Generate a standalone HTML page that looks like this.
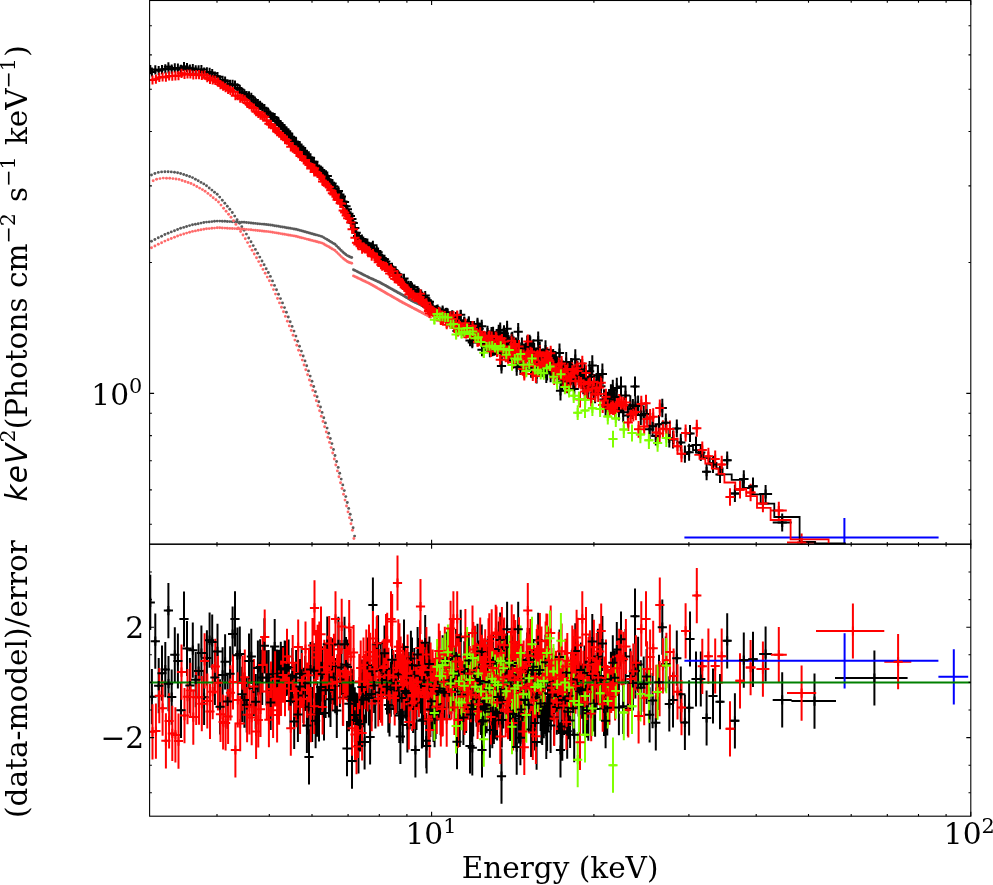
<!DOCTYPE html>
<html><head><meta charset="utf-8"><title>Spectrum</title>
<style>
html,body{margin:0;padding:0;background:#fff;}
body{width:993px;height:885px;overflow:hidden;position:relative;}
svg{position:absolute;left:0;top:0;display:block;}
.sf{font-family:"DejaVu Serif","Liberation Serif",serif;}
.ss{font-family:"DejaVu Sans","Liberation Sans",sans-serif;}
</style></head><body>
<svg width="993" height="885" viewBox="0 0 993 885">
<rect width="993" height="885" fill="#fff"/>
<defs>
<clipPath id="cu"><rect x="149.6" y="0.5" width="821.1999999999999" height="543.7"/></clipPath>
<clipPath id="cl"><rect x="149.6" y="544.2" width="821.1999999999999" height="272.0"/></clipPath>
</defs>
<g clip-path="url(#cu)" fill="none" stroke-width="2.0">
<path d="M151.9 71.2V72.8M150.2 72.0H153.6M155.3 69.0V70.6M153.6 69.8H157.0M158.7 69.7V71.4M157.0 70.6H160.4M162.0 68.8V70.4M160.4 69.6H163.7M165.3 68.1V69.8M163.7 68.9H166.9M168.5 68.1V69.8M166.9 68.9H170.1M171.7 68.4V70.1M170.1 69.2H173.3M174.8 67.0V68.7M173.3 67.9H176.4M177.9 67.1V68.8M176.4 68.0H179.5M181.0 68.5V70.2M179.5 69.4H182.5M184.0 65.6V67.3M182.5 66.5H185.5M187.0 66.8V68.5M185.5 67.7H188.5M189.9 68.4V70.1M188.5 69.2H191.4M192.8 67.6V69.3M191.4 68.5H194.3M195.7 68.9V70.6M194.3 69.8H197.1M198.6 69.0V70.7M197.1 69.9H200.0M201.4 68.8V70.5M200.0 69.6H202.7M204.1 71.2V73.0M202.7 72.1H205.5M206.9 71.1V72.8M205.5 71.9H208.2M209.6 71.6V73.3M208.2 72.4H210.9M212.2 72.7V74.4M210.9 73.6H213.6M214.9 75.2V76.9M213.6 76.1H216.2M217.5 75.8V77.6M216.2 76.7H218.8M220.1 79.0V80.8M218.8 79.9H221.3M222.6 79.4V81.2M221.3 80.3H223.9M225.1 80.3V82.1M223.9 81.2H226.4M227.6 83.0V84.8M226.4 83.9H228.9M230.1 83.5V85.3M228.9 84.4H231.3M232.6 83.5V85.3M231.3 84.4H233.8M235.0 84.1V86.0M233.8 85.0H236.2M237.4 87.0V88.8M236.2 87.9H238.6M239.8 88.5V90.3M238.6 89.4H240.9M242.1 91.3V93.2M240.9 92.2H243.3M244.4 93.0V94.9M243.3 93.9H245.6M246.7 94.8V96.6M245.6 95.7H247.9M249.0 95.0V96.8M247.9 95.9H250.1M251.3 96.4V98.3M250.1 97.4H252.4M253.5 99.3V101.2M252.4 100.2H254.6M255.7 101.7V103.6M254.6 102.6H256.8M257.9 102.5V104.4M256.8 103.5H259.0M260.1 104.4V106.3M259.0 105.4H261.2M262.2 106.7V108.6M261.2 107.7H263.3M264.4 107.5V109.4M263.3 108.5H265.4M266.5 110.5V112.4M265.4 111.4H267.5M268.6 112.3V114.3M267.5 113.3H269.6M270.7 115.0V117.0M269.6 116.0H271.7M272.7 115.9V117.8M271.7 116.9H273.7M274.7 116.7V118.7M273.7 117.7H275.8M276.8 119.9V121.9M275.8 120.9H277.8M278.8 122.1V124.1M277.8 123.1H279.8M280.8 124.0V125.9M279.8 125.0H281.8M282.7 126.3V128.2M281.8 127.3H283.7M284.7 128.2V130.2M283.7 129.2H285.7M286.6 130.4V132.3M285.7 131.3H287.6M288.6 132.4V134.4M287.6 133.4H289.5M290.5 135.7V137.7M289.5 136.7H291.4M292.3 136.8V138.8M291.4 137.8H293.3M294.2 140.5V142.5M293.3 141.5H295.2M296.1 141.0V143.0M295.2 142.0H297.0M297.9 144.3V146.3M297.0 145.3H298.9M299.8 145.4V147.4M298.9 146.4H300.7M301.6 146.9V149.0M300.7 148.0H302.5M303.4 149.8V151.8M302.5 150.8H304.3M305.2 151.3V153.4M304.3 152.3H306.1M306.9 154.9V157.0M306.1 156.0H307.8M308.7 156.2V158.3M307.8 157.2H309.6M310.5 156.7V158.8M309.6 157.8H311.3M312.2 160.4V162.6M311.3 161.5H313.1M313.9 160.6V162.8M313.1 161.7H314.8M315.6 164.5V166.8M314.8 165.6H316.5M317.3 166.0V168.2M316.5 167.1H318.2M319.0 168.0V170.4M318.2 169.2H319.9M320.7 168.8V171.1M319.9 170.0H321.5M322.4 170.1V172.5M321.5 171.3H323.2M324.0 173.7V176.1M323.2 174.9H324.8M325.6 174.8V177.2M324.8 176.0H326.5M327.3 174.9V177.3M326.5 176.1H328.1M328.9 179.0V181.5M328.1 180.3H329.7M330.5 181.6V184.1M329.7 182.9H331.3M332.1 182.3V184.8M331.3 183.5H332.9M333.7 185.0V187.5M332.9 186.2H334.5M335.2 187.5V190.0M334.5 188.8H336.0M336.8 190.7V193.3M336.0 192.0H337.6M338.4 189.6V192.2M337.6 190.9H339.1M339.9 193.2V195.8M339.1 194.5H340.7M341.4 195.1V197.8M340.7 196.5H342.2M342.9 200.0V202.7M342.2 201.4H343.7M344.5 200.7V203.4M343.7 202.1H345.2M346.0 204.9V207.7M345.2 206.3H346.7M347.4 207.9V210.7M346.7 209.3H348.2M348.9 212.4V215.1M348.2 213.7H349.7M350.4 214.7V217.5M349.7 216.1H351.1M351.9 217.5V220.3M351.1 218.9H352.6M353.3 221.5V224.3M352.6 222.9H354.0M354.8 226.6V229.5M354.0 228.0H355.5M356.2 231.3V234.2M355.5 232.7H356.9M357.6 234.6V237.5M356.9 236.1H358.3M359.1 236.4V239.4M358.3 237.9H359.8M360.5 238.0V241.1M359.8 239.5H361.2M361.9 237.5V240.6M361.2 239.1H362.6M363.3 239.7V242.7M362.6 241.2H364.0M364.6 243.4V246.5M364.0 244.9H365.3M366.0 242.1V245.2M365.3 243.7H366.7M367.4 241.6V244.8M366.7 243.2H368.1M368.8 244.8V248.0M368.1 246.4H369.4M370.1 248.3V251.5M369.4 249.9H370.8M371.5 247.1V250.3M370.8 248.7H372.1M372.8 247.0V250.2M372.1 248.6H373.5M374.1 249.1V252.4M373.5 250.7H374.8M375.4 251.4V254.7M374.8 253.0H376.1M376.8 249.3V252.6M376.1 250.9H377.4M378.1 250.5V253.9M377.4 252.2H378.7M379.4 254.8V258.2M378.7 256.5H380.0M380.7 254.7V258.1M380.0 256.4H381.3M382.0 256.7V260.1M381.3 258.4H382.6M383.2 257.3V260.8M382.6 259.1H383.9M384.5 257.6V261.1M383.9 259.3H385.1M385.8 259.8V263.3M385.1 261.6H386.4M387.0 262.3V265.8M386.4 264.0H387.7M388.3 264.7V268.3M387.7 266.5H388.9M389.5 266.2V269.8M388.9 268.0H390.1M390.8 266.2V269.8M390.1 268.0H391.4M392.0 265.5V269.1M391.4 267.3H392.6M393.2 268.1V271.8M392.6 270.0H393.8M394.4 269.8V273.4M393.8 271.6H395.0M395.7 270.6V274.3M395.0 272.5H396.3M396.9 272.2V275.9M396.3 274.1H397.5M398.1 272.5V276.3M397.5 274.4H398.7M399.3 276.6V280.4M398.7 278.5H399.9M400.4 279.2V283.1M399.9 281.2H401.0M401.6 277.8V281.6M401.0 279.7H402.2M402.8 280.2V284.2M402.2 282.2H403.4M404.0 276.4V280.4M403.4 278.4H404.6M405.1 280.8V284.8M404.6 282.8H405.7M406.3 282.1V286.2M405.7 284.1H406.9M407.4 285.6V289.8M406.9 287.7H408.0M408.6 283.2V287.4M408.0 285.3H409.2M409.7 285.8V290.1M409.2 288.0H410.3M410.9 283.3V287.7M410.3 285.5H411.4M412.0 284.8V289.2M411.4 287.0H412.6M413.1 288.9V293.3M412.6 291.1H413.7M414.3 287.4V291.9M413.7 289.6H414.8M415.4 294.7V299.3M414.8 297.0H415.9M416.5 291.4V296.0M415.9 293.7H417.0M417.6 288.2V292.9M417.0 290.6H418.1M418.7 290.0V294.8M418.1 292.4H419.2M419.8 292.2V297.0M419.2 294.6H420.3M420.9 293.5V298.3M420.3 295.9H421.4M421.9 297.4V302.3M421.4 299.9H422.5M423.0 298.2V303.1M422.5 300.7H423.6M424.1 295.5V300.5M423.6 298.0H424.6M425.2 293.0V298.0M424.6 295.5H425.7M426.2 303.1V308.2M425.7 305.6H426.8M427.3 297.7V302.9M426.8 300.3H427.8M428.3 298.9V304.1M427.8 301.5H428.9M429.4 299.1V304.4M428.9 301.8H429.9M430.4 304.5V309.9M429.9 307.2H431.0M431.5 304.4V309.8M431.0 307.1H432.0M432.5 303.7V309.2M432.0 306.5H433.0M433.5 307.1V312.8M433.0 309.9H434.1M434.6 308.3V314.2M434.1 311.3H435.1M435.6 308.1V314.1M435.1 311.1H436.1M436.6 306.6V312.7M436.1 309.7H437.1M437.6 306.0V312.3M437.1 309.2H438.1M438.6 307.8V314.2M438.1 311.0H439.1M439.6 308.1V314.7M439.1 311.4H440.1M440.6 311.1V317.8M440.1 314.4H441.1M441.6 311.9V318.7M441.1 315.3H442.1M442.6 306.7V313.7M442.1 310.2H443.1M443.6 311.1V318.2M443.1 314.6H444.1M444.6 311.8V319.1M444.1 315.4H445.1M445.6 309.0V316.4M445.1 312.7H446.1M446.5 308.5V316.1M446.1 312.3H447.0M447.5 308.9V316.7M447.0 312.8H448.0M448.5 312.5V320.4M448.0 316.5H449.0M449.4 314.8V322.8M449.0 318.8H449.9M450.4 314.1V322.3M449.9 318.2H450.9M451.4 315.0V323.3M450.9 319.1H451.8M452.3 310.7V319.2M451.8 314.9H452.8M453.3 315.3V323.9M452.8 319.6H453.7M454.2 314.3V323.1M453.7 318.7H454.7M455.1 317.3V326.2M454.7 321.8H455.6M456.1 311.9V321.0M455.6 316.5H456.5M457.0 326.5V335.8M456.5 331.1H457.5M457.9 316.7V326.1M457.5 321.4H458.4M458.9 315.4V325.0M458.4 320.2H459.3M459.8 324.1V333.9M459.3 329.0H460.2M460.7 309.8V319.7M460.2 314.7H461.2M461.6 320.4V330.5M461.2 325.5H462.1M462.5 320.8V331.1M462.1 326.0H463.0M463.4 325.5V335.9M463.0 330.7H463.9M464.3 316.6V327.2M463.9 321.9H464.8M465.2 320.1V330.8M464.8 325.4H465.7M466.1 324.4V335.3M465.7 329.9H466.6M467.0 320.7V331.8M466.6 326.3H467.5M467.9 318.7V330.0M467.5 324.3H468.4M468.8 316.3V327.7M468.4 322.0H469.2M469.7 321.8V333.3M469.2 327.5H470.1M470.6 328.3V340.0M470.1 334.2H471.0M471.4 326.6V338.4M471.0 332.5H471.9M472.3 336.4V348.3M471.9 342.4H472.8M473.2 328.5V340.5M472.8 334.5H473.6M474.1 321.0V333.1M473.6 327.0H474.5M474.9 322.9V335.1M474.5 329.0H475.3M475.8 326.5V338.8M475.3 332.6H476.2M476.6 328.2V340.6M476.2 334.4H477.1M477.5 317.8V330.4M477.1 324.1H477.9M478.3 325.6V338.2M477.9 331.9H478.8M479.2 322.4V335.1M478.8 328.8H479.6M480.0 325.8V338.6M479.6 332.2H480.5M480.9 332.4V345.3M480.5 338.9H481.3M481.7 319.8V332.8M481.3 326.3H482.1M482.5 336.7V349.8M482.1 343.2H483.0M483.4 336.9V350.1M483.0 343.5H483.8M484.2 332.8V346.1M483.8 339.5H484.6M485.0 335.0V348.5M484.6 341.8H485.4M485.9 334.5V348.0M485.4 341.2H486.3M486.7 335.2V348.8M486.3 342.0H487.1M487.5 325.8V339.5M487.1 332.7H487.9M488.3 332.0V345.8M487.9 338.9H488.7M489.1 330.5V344.5M488.7 337.5H489.5M489.9 343.2V357.2M489.5 350.2H490.3M490.7 338.9V353.1M490.3 346.0H491.1M491.5 327.0V341.2M491.1 334.1H491.9M492.3 341.9V356.2M491.9 349.1H492.7M493.1 326.8V341.2M492.7 334.0H493.5M493.9 341.4V355.8M493.5 348.6H494.3M494.7 332.9V347.5M494.3 340.2H495.1M495.5 340.7V355.3M495.1 348.0H495.9M496.3 334.0V348.8M495.9 341.4H496.7M497.1 341.6V356.4M496.7 349.0H497.5M497.9 337.5V352.4M497.5 345.0H498.3M498.7 324.7V339.7M498.3 332.2H499.1M499.4 338.8V353.9M499.1 346.3H499.8M500.2 322.5V337.7M499.8 330.1H500.6M501.0 339.8V355.1M500.6 347.5H501.4M501.8 345.0V360.4M501.4 352.7H502.1M502.5 336.6V352.0M502.1 344.3H502.9M503.3 340.2V355.7M502.9 348.0H503.7M504.0 325.2V340.8M503.7 333.0H504.4M504.8 331.7V347.4M504.4 339.5H505.2M505.6 329.6V345.4M505.2 337.5H505.9M506.3 333.7V349.6M505.9 341.6H506.7M507.1 320.7V336.6M506.7 328.7H507.4M507.8 332.9V348.9M507.4 340.9H508.2M508.6 335.0V351.1M508.2 343.1H508.9M509.3 345.1V361.3M508.9 353.2H509.7M510.1 346.0V362.2M509.7 354.1H510.4M510.8 338.2V354.5M510.4 346.3H511.2M511.5 332.4V348.8M511.2 340.6H511.9M512.3 331.7V348.2M511.9 339.9H512.6M513.0 347.3V363.9M512.6 355.6H513.4M513.7 336.5V353.2M513.4 344.9H514.1M514.5 339.3V356.0M514.1 347.7H514.8M515.2 349.5V366.3M514.8 357.9H515.6M515.9 337.4V354.3M515.6 345.9H516.3M516.7 358.9V375.8M516.3 367.3H517.1M517.4 339.8V356.8M517.1 348.3H517.8M518.2 323.1V340.2M517.8 331.7H518.5M518.9 350.3V367.4M518.5 358.8H519.3M519.7 342.5V359.7M519.3 351.1H520.0M520.4 357.7V374.9M520.0 366.3H520.8M521.2 349.1V366.5M520.8 357.8H521.5M521.9 337.5V355.0M521.5 346.3H522.3M522.7 352.0V369.5M522.3 360.7H523.0M523.4 344.3V361.9M523.0 353.1H523.8M524.2 347.1V364.8M523.8 355.9H524.6M524.9 347.6V365.3M524.6 356.4H525.3M525.7 343.3V361.1M525.3 352.2H526.1M526.5 341.2V359.1M526.1 350.2H526.9M527.2 335.5V353.4M526.9 344.4H527.6M528.0 338.9V356.9M527.6 347.9H528.4M528.8 350.6V368.6M528.4 359.6H529.2M529.6 334.7V352.8M529.2 343.8H529.9M530.3 336.2V354.5M529.9 345.4H530.7M531.1 359.5V377.7M530.7 368.6H531.5M531.9 341.4V359.6M531.5 350.5H532.3M532.7 340.2V358.5M532.3 349.4H533.0M533.4 339.2V357.6M533.0 348.4H533.8M534.2 342.9V361.2M533.8 352.0H534.6M535.0 358.3V376.7M534.6 367.5H535.4M535.8 350.0V368.4M535.4 359.2H536.2M536.6 365.2V383.6M536.2 374.4H537.0M537.4 349.4V368.0M537.0 358.7H537.8M538.2 331.4V349.9M537.8 340.6H538.6M539.0 342.8V361.4M538.6 352.1H539.4M539.8 341.7V360.3M539.4 351.0H540.2M540.6 353.2V371.8M540.2 362.5H541.0M541.4 357.6V376.3M541.0 366.9H541.8M542.2 358.3V377.0M541.8 367.6H542.6M543.0 348.4V367.1M542.6 357.8H543.4M543.8 356.4V375.2M543.4 365.8H544.2M544.6 355.2V374.0M544.2 364.6H545.0M545.5 340.3V359.2M545.0 349.7H545.9M546.3 364.2V383.1M545.9 373.6H546.7M547.1 361.6V380.5M546.7 371.1H547.6M548.0 355.0V373.9M547.6 364.4H548.4M548.8 351.6V370.7M548.4 361.2H549.3M549.7 352.1V371.2M549.3 361.6H550.1M550.6 363.2V382.3M550.1 372.7H551.0M551.4 349.7V368.9M551.0 359.3H551.9M552.3 352.9V372.1M551.9 362.5H552.8M553.2 349.1V368.3M552.8 358.7H553.6M554.1 362.0V381.3M553.6 371.6H554.5M555.0 350.9V370.2M554.5 360.6H555.4M555.9 351.6V370.9M555.4 361.2H556.3M556.8 359.7V379.0M556.3 369.4H557.2M557.7 356.3V375.7M557.2 366.0H558.2M558.6 359.7V379.1M558.2 369.4H559.1M559.5 343.4V362.8M559.1 353.1H560.0M560.5 381.1V400.6M560.0 390.8H560.9M561.4 368.9V388.4M560.9 378.7H561.9M562.3 371.6V391.2M561.9 381.4H562.8M563.3 360.4V380.0M562.8 370.2H563.8M564.3 363.5V383.2M563.8 373.4H564.7M565.2 361.7V381.3M564.7 371.5H565.7M566.2 352.1V371.8M565.7 362.0H566.7M567.2 373.5V393.2M566.7 383.3H567.6M568.1 367.0V386.8M567.6 376.9H568.6M569.1 362.1V381.8M568.6 371.9H569.6M570.1 371.4V391.2M569.6 381.3H570.6M571.1 357.9V377.8M570.6 367.8H571.6M572.1 358.8V378.7M571.6 368.8H572.7M573.2 368.8V388.7M572.7 378.7H573.7M574.2 378.9V398.9M573.7 388.9H574.8M575.3 349.2V369.2M574.8 359.2H575.8M576.4 360.0V380.0M575.8 370.0H576.9M577.5 361.0V381.1M576.9 371.1H578.1M578.6 364.9V385.0M578.1 374.9H579.2M579.8 366.2V386.4M579.2 376.3H580.3M580.9 359.3V379.5M580.3 369.4H581.5M582.1 367.7V387.9M581.5 377.8H582.7M583.3 374.0V394.2M582.7 384.1H583.9M584.5 362.4V382.7M583.9 372.6H585.2M585.8 369.1V389.4M585.2 379.3H586.4M587.0 377.4V397.8M586.4 387.6H587.7M588.3 379.4V399.8M587.7 389.6H589.0M589.6 361.1V381.6M589.0 371.3H590.3M591.0 366.8V387.3M590.3 377.0H591.6M592.3 355.3V375.8M591.6 365.6H593.0M593.7 379.5V400.1M593.0 389.8H594.4M595.1 382.5V403.2M594.4 392.8H595.8M596.5 372.9V393.6M595.8 383.2H597.2M597.9 364.9V385.6M597.2 375.2H598.7M599.4 373.2V394.0M598.7 383.6H600.1M600.9 375.9V396.7M600.1 386.3H601.6M602.4 363.5V384.2M601.6 373.9H603.2M604.0 389.3V410.0M603.2 399.6H604.8M605.6 395.2V415.8M604.8 405.5H606.5M607.3 391.8V412.4M606.5 402.1H608.2M609.1 389.2V409.7M608.2 399.5H610.0M610.9 384.2V404.7M610.0 394.5H611.8M612.8 379.7V400.2M611.8 389.9H613.8M614.7 386.9V407.3M613.8 397.1H615.7M616.8 377.7V398.1M615.7 387.9H617.8M618.9 400.2V420.5M617.8 410.4H619.9M621.0 376.4V396.6M619.9 386.5H622.1M623.2 402.2V422.3M622.1 412.3H624.4M625.5 385.4V405.5M624.4 395.4H626.7M627.9 405.6V425.6M626.7 415.6H629.1M630.3 395.3V415.2M629.1 405.2H631.6M632.9 399.1V418.9M631.6 409.0H634.1M635.4 396.2V416.0M634.1 406.1H636.7M638.1 395.5V415.1M636.7 405.3H639.5M640.8 405.4V424.9M639.5 415.1H642.2M643.7 405.5V424.9M642.2 415.2H645.1M646.6 404.2V423.6M645.1 413.9H648.0M649.6 419.7V438.9M648.0 429.3H651.1M652.6 416.8V435.9M651.1 426.3H654.2M655.8 426.5V445.5M654.2 436.0H657.4M659.0 414.9V433.7M657.4 424.3H660.7M662.3 398.7V417.3M660.7 408.0H664.0M665.8 413.5V431.9M664.0 422.7H667.5M669.3 429.2V447.4M667.5 438.3H671.1M673.0 430.4V448.4M671.1 439.4H674.9M676.8 419.5V437.3M674.9 428.4H678.7M680.8 433.8V451.4M678.7 442.6H682.8M684.9 445.5V462.8M682.8 454.1H687.0M689.1 443.7V460.8M687.0 452.3H691.2M150.3 68.8V70.4M168.4 65.9V67.6M166.4 66.8H170.4M372.9 243.7V246.9M371.9 245.3H373.9M309.0 158.4V160.6M308.0 159.5H310.0M352.0 221.0V223.9M351.0 222.5H353.0M501.5 358.3V373.6M500.5 365.9H502.5M635.0 376.5V396.3M633.0 386.4H637.0M347.0 210.9V213.7M346.0 212.3H348.0M358.5 237.1V240.1M357.5 238.6H359.5M426.6 303.9V309.1M426.0 306.5H427.2M470.0 334.6V346.2M469.5 340.4H470.5M482.0 343.1V356.2M481.5 349.7H482.5M690.0 425.1V442.1M687.5 433.6H692.5M696.0 436.5V453.5M693.5 445.0H698.5M700.8 444.1V461.1M698.3 452.6H703.3M706.6 463.2V480.2M703.6 471.7H709.6M713.0 455.8V473.0M710.0 464.4H716.0M720.0 465.8V483.0M716.7 474.4H723.3M727.2 451.5V468.9M723.7 460.2H730.7M734.9 484.7V502.1M730.9 493.4H738.9M743.8 470.2V487.6M739.3 478.9H748.3M753.0 477.4V495.0M748.3 486.2H757.7M765.6 485.1V502.9M759.1 494.0H772.1M782.2 513.4V531.4M772.7 522.4H791.7" stroke="#000"/>
<path d="M152.5 79.2V80.8M150.8 80.0H154.2M155.9 78.4V80.0M154.2 79.2H157.6M159.3 76.5V78.2M157.6 77.4H161.0M162.6 76.2V77.8M161.0 77.0H164.2M165.9 76.4V78.0M164.2 77.2H167.5M169.1 75.2V76.9M167.5 76.0H170.7M172.3 75.3V76.9M170.7 76.1H173.8M175.4 75.0V76.7M173.8 75.8H176.9M178.5 74.9V76.6M176.9 75.7H180.0M181.5 72.5V74.2M180.0 73.3H183.0M184.5 73.5V75.2M183.0 74.4H186.0M187.5 73.1V74.8M186.0 74.0H189.0M190.4 73.1V74.8M189.0 74.0H191.9M193.3 74.1V75.9M191.9 75.0H194.8M196.2 73.7V75.4M194.8 74.6H197.6M199.0 73.9V75.6M197.6 74.7H200.4M201.8 74.5V76.2M200.4 75.3H203.2M204.6 74.4V76.1M203.2 75.2H206.0M207.3 76.9V78.6M206.0 77.7H208.7M210.0 78.4V80.2M208.7 79.3H211.4M212.7 79.0V80.8M211.4 79.9H214.0M215.3 79.5V81.3M214.0 80.4H216.6M217.9 81.4V83.1M216.6 82.2H219.2M220.5 83.7V85.5M219.2 84.6H221.8M223.1 85.2V87.0M221.8 86.1H224.3M225.6 86.8V88.6M224.3 87.7H226.8M228.1 88.4V90.2M226.8 89.3H229.3M230.5 89.4V91.2M229.3 90.3H231.8M233.0 90.8V92.6M231.8 91.7H234.2M235.4 94.8V96.6M234.2 95.7H236.6M237.8 94.8V96.6M236.6 95.7H239.0M240.2 97.2V99.1M239.0 98.2H241.3M242.5 97.5V99.4M241.3 98.5H243.7M244.8 99.0V100.8M243.7 99.9H246.0M247.1 102.1V104.0M246.0 103.1H248.3M249.4 103.8V105.7M248.3 104.7H250.5M251.7 106.1V107.9M250.5 107.0H252.8M253.9 107.0V108.9M252.8 108.0H255.0M256.1 110.7V112.6M255.0 111.7H257.2M258.3 112.5V114.3M257.2 113.4H259.4M260.5 114.2V116.1M259.4 115.1H261.5M262.6 114.8V116.7M261.5 115.7H263.7M264.7 115.9V117.8M263.7 116.8H265.8M266.8 119.8V121.7M265.8 120.7H267.9M268.9 122.8V124.7M267.9 123.8H270.0M271.0 123.8V125.7M270.0 124.7H272.0M273.1 126.5V128.4M272.0 127.5H274.1M275.1 127.4V129.3M274.1 128.3H276.1M277.1 130.8V132.7M276.1 131.7H278.1M279.1 132.3V134.2M278.1 133.2H280.1M281.1 134.1V136.0M280.1 135.1H282.1M283.1 135.7V137.7M282.1 136.7H284.1M285.0 138.3V140.2M284.1 139.3H286.0M287.0 139.2V141.2M286.0 140.2H287.9M288.9 142.2V144.2M287.9 143.2H289.8M290.8 145.8V147.8M289.8 146.8H291.7M292.7 145.5V147.5M291.7 146.5H293.6M294.5 148.5V150.5M293.6 149.5H295.5M296.4 150.8V152.8M295.5 151.8H297.3M298.2 150.9V152.9M297.3 151.9H299.2M300.1 155.1V157.1M299.2 156.1H301.0M301.9 156.2V158.2M301.0 157.2H302.8M303.7 158.8V160.9M302.8 159.9H304.6M305.5 158.9V161.0M304.6 160.0H306.4M307.3 162.5V164.6M306.4 163.5H308.1M309.0 163.8V166.0M308.1 164.9H309.9M310.8 167.3V169.5M309.9 168.4H311.6M312.5 166.5V168.7M311.6 167.6H313.4M314.2 170.8V173.0M313.4 171.9H315.1M315.9 170.7V173.0M315.1 171.9H316.8M317.6 172.4V174.7M316.8 173.5H318.5M319.3 174.1V176.4M318.5 175.3H320.1M321.0 175.3V177.6M320.1 176.5H321.8M322.6 180.3V182.6M321.8 181.4H323.5M324.3 180.5V182.9M323.5 181.7H325.1M325.9 182.8V185.2M325.1 184.0H326.7M327.5 184.5V187.0M326.7 185.8H328.4M329.2 185.8V188.3M328.4 187.0H330.0M330.8 188.9V191.4M330.0 190.2H331.6M332.4 192.0V194.5M331.6 193.2H333.2M333.9 193.2V195.7M333.2 194.4H334.7M335.5 193.2V195.8M334.7 194.5H336.3M337.1 198.4V200.9M336.3 199.7H337.8M338.6 198.8V201.5M337.8 200.1H339.4M340.2 202.0V204.7M339.4 203.3H340.9M341.7 202.3V205.0M340.9 203.7H342.4M343.2 209.1V211.8M342.4 210.5H344.0M344.7 211.0V213.7M344.0 212.4H345.5M346.2 214.2V216.9M345.5 215.5H347.0M347.7 217.0V219.7M347.0 218.3H348.4M349.2 217.1V219.9M348.4 218.5H349.9M350.7 221.1V223.9M349.9 222.5H351.4M352.1 227.8V230.7M351.4 229.2H352.9M353.6 227.7V230.6M352.9 229.2H354.3M355.0 236.2V239.1M354.3 237.7H355.7M356.5 241.2V244.2M355.7 242.7H357.2M357.9 243.1V246.0M357.2 244.6H358.6M359.3 242.0V245.0M358.6 243.5H360.0M360.7 242.8V245.8M360.0 244.3H361.4M362.1 247.7V250.8M361.4 249.2H362.8M363.5 245.3V248.4M362.8 246.8H364.2M364.9 247.4V250.5M364.2 249.0H365.6M366.3 247.2V250.4M365.6 248.8H366.9M367.6 250.0V253.1M366.9 251.5H368.3M369.0 249.3V252.5M368.3 250.9H369.7M370.3 250.9V254.1M369.7 252.5H371.0M371.7 254.6V257.8M371.0 256.2H372.4M373.0 251.9V255.2M372.4 253.5H373.7M374.4 254.9V258.2M373.7 256.5H375.0M375.7 255.4V258.7M375.0 257.1H376.3M377.0 255.9V259.3M376.3 257.6H377.6M378.3 260.6V264.0M377.6 262.3H378.9M379.6 260.5V263.9M378.9 262.2H380.2M380.9 262.9V266.4M380.2 264.7H381.5M382.2 264.4V267.9M381.5 266.1H382.8M383.5 263.8V267.3M382.8 265.5H384.1M384.7 264.9V268.4M384.1 266.7H385.4M386.0 264.6V268.1M385.4 266.4H386.6M387.2 265.8V269.3M386.6 267.5H387.9M388.5 269.2V272.8M387.9 271.0H389.1M389.7 271.8V275.4M389.1 273.6H390.4M391.0 267.0V270.6M390.4 268.8H391.6M392.2 269.4V273.0M391.6 271.2H392.8M393.4 274.3V277.9M392.8 276.1H394.0M394.7 276.8V280.5M394.0 278.7H395.3M395.9 277.2V280.9M395.3 279.0H396.5M397.1 277.2V280.9M396.5 279.1H397.7M398.3 276.9V280.7M397.7 278.8H398.9M399.5 278.4V282.2M398.9 280.3H400.1M400.6 280.4V284.3M400.1 282.3H401.2M401.8 282.8V286.6M401.2 284.7H402.4M403.0 283.2V287.1M402.4 285.1H403.6M404.2 285.2V289.2M403.6 287.2H404.8M405.3 285.6V289.7M404.8 287.6H405.9M406.5 287.0V291.2M405.9 289.1H407.1M407.6 287.0V291.2M407.1 289.1H408.2M408.8 292.4V296.7M408.2 294.6H409.4M409.9 290.3V294.6M409.4 292.5H410.5M411.1 291.1V295.4M410.5 293.3H411.6M412.2 293.6V298.0M411.6 295.8H412.8M413.3 292.5V297.0M412.8 294.7H413.9M414.4 295.1V299.6M413.9 297.4H415.0M415.6 295.2V299.7M415.0 297.5H416.1M416.7 295.2V299.8M416.1 297.5H417.2M417.8 295.9V300.6M417.2 298.3H418.3M418.9 297.4V302.2M418.3 299.8H419.4M420.0 294.6V299.4M419.4 297.0H420.5M421.0 297.4V302.2M420.5 299.8H421.6M422.1 297.9V302.8M421.6 300.3H422.7M423.2 298.9V303.8M422.7 301.4H423.7M424.3 301.7V306.7M423.7 304.2H424.8M425.3 303.1V308.2M424.8 305.7H425.9M426.4 300.2V305.4M425.9 302.8H426.9M427.5 304.0V309.2M426.9 306.6H428.0M428.5 308.4V313.7M428.0 311.0H429.0M429.6 310.5V315.8M429.0 313.2H430.1M430.6 305.7V311.0M430.1 308.3H431.1M431.7 308.6V314.0M431.1 311.3H432.2M432.7 307.7V313.1M432.2 310.4H433.2M433.7 309.5V315.0M433.2 312.3H434.2M434.7 309.8V315.4M434.2 312.6H435.3M435.8 309.8V315.6M435.3 312.7H436.3M436.8 313.3V319.1M436.3 316.2H437.3M437.8 310.6V316.6M437.3 313.6H438.3M438.8 308.5V314.6M438.3 311.5H439.3M439.8 309.9V316.0M439.3 312.9H440.3M440.8 317.3V323.5M440.3 320.4H441.3M441.8 316.8V323.1M441.3 320.0H442.3M442.8 317.4V323.9M442.3 320.6H443.3M443.8 314.9V321.4M443.3 318.2H444.3M444.8 312.3V318.9M444.3 315.6H445.3M445.7 314.4V321.1M445.3 317.8H446.2M446.7 321.3V328.1M446.2 324.7H447.2M447.7 316.4V323.3M447.2 319.8H448.2M448.7 314.6V321.6M448.2 318.1H449.1M449.6 319.2V326.2M449.1 322.7H450.1M450.6 312.2V319.4M450.1 315.8H451.1M451.5 320.9V328.1M451.1 324.5H452.0M452.5 315.4V322.7M452.0 319.0H453.0M453.4 311.8V319.2M453.0 315.5H453.9M454.4 324.4V331.8M453.9 328.1H454.8M455.3 321.6V329.1M454.8 325.4H455.8M456.2 318.9V326.6M455.8 322.7H456.7M457.2 311.2V319.0M456.7 315.1H457.6M458.1 328.0V335.8M457.6 331.9H458.6M459.0 320.1V328.0M458.6 324.1H459.5M459.9 321.5V329.5M459.5 325.5H460.4M460.9 324.5V332.6M460.4 328.5H461.3M461.8 326.4V334.6M461.3 330.5H462.2M462.7 325.7V334.0M462.2 329.8H463.1M463.6 325.3V333.6M463.1 329.5H464.0M464.5 329.4V337.8M464.0 333.6H464.9M465.4 318.9V327.4M464.9 323.2H465.8M466.3 329.6V338.2M465.8 333.9H466.7M467.2 327.4V336.1M466.7 331.7H467.6M468.1 328.7V337.5M467.6 333.1H468.5M469.0 328.2V337.0M468.5 332.6H469.4M469.8 326.5V335.5M469.4 331.0H470.3M470.7 330.4V339.4M470.3 334.9H471.2M471.6 328.7V337.8M471.2 333.3H472.0M472.5 321.1V330.3M472.0 325.7H472.9M473.3 324.3V333.5M472.9 328.9H473.8M474.2 330.4V339.7M473.8 335.0H474.6M475.1 325.8V335.2M474.6 330.5H475.5M475.9 333.3V342.8M475.5 338.1H476.4M476.8 329.6V339.1M476.4 334.3H477.2M477.6 337.2V346.8M477.2 342.0H478.1M478.5 336.4V346.2M478.1 341.3H478.9M479.3 335.7V345.5M478.9 340.6H479.8M480.2 326.8V336.7M479.8 331.8H480.6M481.0 331.8V341.7M480.6 336.7H481.4M481.9 330.8V340.8M481.4 335.8H482.3M482.7 333.0V343.1M482.3 338.0H483.1M483.5 332.4V342.6M483.1 337.5H483.9M484.4 332.6V342.9M483.9 337.8H484.8M485.2 331.4V341.8M484.8 336.6H485.6M486.0 334.7V345.1M485.6 339.9H486.4M486.8 340.2V350.7M486.4 345.5H487.2M487.6 340.1V350.7M487.2 345.4H488.0M488.5 330.9V341.6M488.0 336.3H488.9M489.3 330.4V341.1M488.9 335.7H489.7M490.1 334.9V345.7M489.7 340.3H490.5M490.9 346.1V357.0M490.5 351.5H491.3M491.7 330.7V341.6M491.3 336.1H492.1M492.5 337.1V348.1M492.1 342.6H492.9M493.3 339.3V350.4M492.9 344.8H493.7M494.1 339.1V350.2M493.7 344.6H494.5M494.9 341.3V352.5M494.5 346.9H495.3M495.7 330.7V342.0M495.3 336.4H496.1M496.5 331.3V342.7M496.1 337.0H496.8M497.2 345.6V357.0M496.8 351.3H497.6M498.0 341.4V352.8M497.6 347.1H498.4M498.8 339.0V350.6M498.4 344.8H499.2M499.6 334.2V345.8M499.2 340.0H500.0M500.3 353.9V365.6M500.0 359.7H500.7M501.1 336.4V348.2M500.7 342.3H501.5M501.9 332.7V344.5M501.5 338.6H502.3M502.7 343.6V355.5M502.3 349.5H503.0M503.4 342.3V354.3M503.0 348.3H503.8M504.2 335.6V347.6M503.8 341.6H504.6M504.9 340.5V352.6M504.6 346.6H505.3M505.7 350.1V362.3M505.3 356.2H506.1M506.5 349.5V361.7M506.1 355.6H506.8M507.2 349.0V361.3M506.8 355.1H507.6M508.0 351.4V363.7M507.6 357.6H508.3M508.7 343.8V356.2M508.3 350.0H509.1M509.4 346.9V359.4M509.1 353.1H509.8M510.2 344.0V356.5M509.8 350.3H510.6M510.9 340.4V353.0M510.6 346.7H511.3M511.7 334.5V347.2M511.3 340.8H512.0M512.4 343.7V356.4M512.0 350.1H512.8M513.1 356.0V368.7M512.8 362.3H513.5M513.9 337.5V350.3M513.5 343.9H514.2M514.6 346.5V359.4M514.2 352.9H515.0M515.3 339.3V352.2M515.0 345.8H515.7M516.1 349.0V362.0M515.7 355.5H516.4M516.8 344.9V357.9M516.4 351.4H517.2M517.6 347.7V360.8M517.2 354.3H517.9M518.3 347.4V360.5M517.9 353.9H518.7M519.0 339.9V353.1M518.7 346.5H519.4M519.8 351.7V364.9M519.4 358.3H520.2M520.5 347.1V360.4M520.2 353.8H520.9M521.3 347.1V360.4M520.9 353.7H521.7M522.0 351.0V364.5M521.7 357.8H522.4M522.8 362.4V375.8M522.4 369.1H523.2M523.6 347.2V360.7M523.2 354.0H523.9M524.3 367.0V380.6M523.9 373.8H524.7M525.1 359.2V372.8M524.7 366.0H525.5M525.8 353.1V366.8M525.5 359.9H526.2M526.6 347.9V361.6M526.2 354.8H527.0M527.4 345.5V359.3M527.0 352.4H527.8M528.1 346.0V359.9M527.8 352.9H528.5M528.9 347.7V361.7M528.5 354.7H529.3M529.7 354.1V368.1M529.3 361.1H530.1M530.5 344.4V358.4M530.1 351.4H530.8M531.2 353.9V368.0M530.8 361.0H531.6M532.0 345.3V359.4M531.6 352.4H532.4M532.8 366.9V381.0M532.4 373.9H533.2M533.6 358.9V373.1M533.2 366.0H534.0M534.4 356.8V370.9M534.0 363.8H534.8M535.1 353.3V367.5M534.8 360.4H535.5M535.9 368.8V383.0M535.5 375.9H536.3M536.7 348.5V362.7M536.3 355.6H537.1M537.5 347.6V361.8M537.1 354.7H537.9M538.3 349.1V363.4M537.9 356.2H538.7M539.1 357.7V372.0M538.7 364.8H539.5M539.9 345.2V359.5M539.5 352.3H540.3M540.7 358.3V372.7M540.3 365.5H541.1M541.5 349.1V363.5M541.1 356.3H541.9M542.3 355.6V370.0M541.9 362.8H542.7M543.1 355.6V370.0M542.7 362.8H543.5M544.0 356.7V371.1M543.5 363.9H544.4M544.8 356.0V370.5M544.4 363.3H545.2M545.6 348.8V363.4M545.2 356.1H546.0M546.4 346.9V361.5M546.0 354.2H546.9M547.3 347.2V361.8M546.9 354.5H547.7M548.1 350.8V365.4M547.7 358.1H548.6M549.0 352.6V367.3M548.6 359.9H549.4M549.9 354.3V368.9M549.4 361.6H550.3M550.7 345.8V360.5M550.3 353.2H551.2M551.6 360.7V375.4M551.2 368.0H552.0M552.5 362.4V377.1M552.0 369.8H552.9M553.4 358.3V373.1M552.9 365.7H553.8M554.2 370.2V385.0M553.8 377.6H554.7M555.1 361.1V376.0M554.7 368.6H555.6M556.0 360.4V375.3M555.6 367.9H556.5M556.9 367.4V382.3M556.5 374.8H557.4M557.9 364.8V379.8M557.4 372.3H558.3M558.8 356.8V371.7M558.3 364.2H559.2M559.7 363.5V378.5M559.2 371.0H560.2M560.6 361.9V376.9M560.2 369.4H561.1M561.6 355.9V370.9M561.1 363.4H562.0M562.5 367.6V382.6M562.0 375.1H563.0M563.5 371.7V386.7M563.0 379.2H563.9M564.4 364.7V379.8M563.9 372.2H564.9M565.4 362.0V377.1M564.9 369.6H565.9M566.4 377.8V392.9M565.9 385.4H566.8M567.3 361.4V376.6M566.8 369.0H567.8M568.3 368.6V383.8M567.8 376.2H568.8M569.3 369.9V385.2M568.8 377.5H569.8M570.3 373.6V388.9M569.8 381.2H570.8M571.3 369.6V384.9M570.8 377.2H571.8M572.3 362.3V377.6M571.8 369.9H572.8M573.4 365.9V381.3M572.8 373.6H573.9M574.4 364.6V380.0M573.9 372.3H574.9M575.5 373.4V388.8M574.9 381.1H576.0M576.6 360.5V375.9M576.0 368.2H577.1M577.7 363.3V378.7M577.1 371.0H578.3M578.8 373.0V388.5M578.3 380.7H579.4M580.0 391.9V407.4M579.4 399.6H580.5M581.1 373.8V389.4M580.5 381.6H581.7M582.3 355.7V371.2M581.7 363.5H582.9M583.5 376.1V391.7M582.9 383.9H584.1M584.7 383.6V399.3M584.1 391.5H585.4M586.0 365.2V380.8M585.4 373.0H586.6M587.3 382.3V398.0M586.6 390.2H587.9M588.5 375.3V391.0M587.9 383.1H589.2M589.9 374.1V389.9M589.2 382.0H590.5M591.2 390.8V406.6M590.5 398.7H591.9M592.5 380.5V396.3M591.9 388.4H593.2M593.9 374.0V389.8M593.2 381.9H594.6M595.3 385.9V401.8M594.6 393.8H596.0M596.7 380.0V395.9M596.0 387.9H597.5M598.2 385.9V401.9M597.5 393.9H598.9M599.7 379.5V395.5M598.9 387.5H600.4M601.2 374.7V390.7M600.4 382.7H601.9M602.7 397.1V413.1M601.9 405.1H603.5M604.3 392.4V408.5M603.5 400.4H605.1M605.9 388.7V404.8M605.1 396.7H606.8M607.6 397.4V413.5M606.8 405.4H608.5M609.4 400.1V416.3M608.5 408.2H610.3M611.2 397.9V414.2M610.3 406.0H612.2M613.1 398.8V415.0M612.2 406.9H614.1M615.1 403.0V419.3M614.1 411.1H616.1M617.1 396.7V413.0M616.1 404.8H618.2M619.2 394.1V410.5M618.2 402.3H620.3M621.4 395.5V411.9M620.3 403.7H622.5M623.6 397.0V413.4M622.5 405.2H624.8M625.9 394.2V410.7M624.8 402.4H627.1M628.3 414.3V430.9M627.1 422.6H629.5M630.8 406.1V422.7M629.5 414.4H632.0M633.3 404.9V421.6M632.0 413.3H634.6M635.9 403.6V420.3M634.6 411.9H637.2M638.6 420.9V437.7M637.2 429.3H639.9M641.3 395.7V412.6M639.9 404.1H642.7M644.2 418.0V434.9M642.7 426.4H645.6M647.1 410.6V427.6M645.6 419.1H648.6M650.1 408.9V425.9M648.6 417.4H651.6M653.2 408.3V425.3M651.6 416.8H654.7M656.3 423.9V440.9M654.7 432.4H657.9M659.6 425.0V442.0M657.9 433.5H661.2M662.9 420.2V437.2M661.2 428.7H664.6M666.4 420.8V437.8M664.6 429.3H668.1M669.9 420.6V437.6M668.1 429.1H671.7M673.6 430.4V447.4M671.7 438.9H675.5M677.5 437.8V454.8M675.5 446.3H679.4M681.5 445.3V462.3M679.4 453.8H683.5M685.6 424.4V441.4M683.5 432.9H687.6M397.5 272.8V276.6M396.5 274.7H398.5M314.5 167.2V169.4M313.5 168.3H315.5M659.8 399.4V416.4M657.3 407.9H662.3M420.5 291.4V296.2M419.5 293.8H421.5M646.0 394.7V411.7M644.0 403.2H648.0M527.8 334.5V348.3M527.3 341.4H528.3M696.8 419.7V436.7M694.3 428.2H699.3M702.3 441.5V458.5M699.8 450.0H704.8M708.4 447.8V464.8M705.4 456.3H711.4M715.2 450.4V467.6M712.2 459.0H718.2M721.7 455.8V473.0M718.4 464.4H725.0M730.0 488.3V505.7M726.0 497.0H734.0M740.0 481.1V498.5M735.5 489.8H744.5M750.6 483.7V501.3M745.6 492.5H755.6M762.9 494.6V512.2M756.4 503.4H769.4M778.8 501.7V519.5M770.8 510.6H786.8M801.6 533.4V551.4M787.0 542.4H816.2" stroke="#f00"/>
<path d="M434.4 315.4V324.3M433.0 319.8H435.7M437.1 309.4V318.4M435.7 313.9H438.4M439.8 312.4V321.5M438.4 317.0H441.1M442.5 312.1V321.3M441.1 316.7H443.8M445.2 312.9V322.1M443.8 317.5H446.6M447.9 312.9V322.2M446.6 317.5H449.3M450.7 319.7V329.1M449.3 324.4H452.0M453.4 319.4V328.8M452.0 324.1H454.8M456.1 329.9V339.4M454.8 334.6H457.5M458.9 323.5V333.2M457.5 328.4H460.2M461.6 328.7V338.4M460.2 333.6H463.0M464.4 327.2V337.0M463.0 332.1H465.8M467.1 323.0V332.9M465.8 328.0H468.5M469.9 329.0V339.0M468.5 334.0H471.3M472.7 326.4V336.5M471.3 331.4H474.1M475.4 333.1V343.3M474.1 338.2H476.8M478.2 332.0V342.4M476.8 337.2H479.6M481.0 336.9V347.3M479.6 342.1H482.4M483.8 347.5V358.0M482.4 352.8H485.2M486.6 341.1V351.8M485.2 346.5H488.0M489.4 340.7V351.5M488.0 346.1H490.8M492.2 340.2V351.1M490.8 345.7H493.6M495.0 342.1V353.1M493.6 347.6H496.4M497.8 344.0V355.1M496.4 349.5H499.2M500.7 340.3V351.6M499.2 345.9H502.1M503.5 343.0V354.4M502.1 348.7H504.9M506.3 349.0V360.4M504.9 354.7H507.7M509.2 344.3V355.9M507.7 350.1H510.6M512.0 359.1V370.8M510.6 364.9H513.4M514.8 352.6V364.4M513.4 358.5H516.3M517.7 353.6V365.5M516.3 359.6H519.1M520.6 348.1V360.2M519.1 354.1H522.0M523.4 358.7V370.9M522.0 364.8H524.9M526.3 365.0V377.2M524.9 371.1H527.7M529.2 358.4V370.8M527.7 364.6H530.6M532.0 352.3V364.8M530.6 358.5H533.5M534.9 363.4V376.1M533.5 369.8H536.4M537.8 364.4V377.2M536.4 370.8H539.3M540.7 366.5V379.5M539.3 373.0H542.2M543.7 366.7V379.8M542.2 373.3H545.2M546.8 361.6V374.9M545.2 368.3H548.4M550.0 359.7V373.1M548.4 366.4H551.7M553.5 369.9V383.5M551.7 376.7H555.2M557.1 375.6V389.4M555.2 382.5H558.9M560.9 367.2V381.2M558.9 374.2H562.8M564.9 380.0V394.2M562.8 387.1H567.0M569.1 383.0V397.5M567.0 390.2H571.3M573.7 388.5V403.1M571.3 395.8H576.1M578.9 391.6V406.6M576.1 399.1H581.8M585.2 392.3V407.6M581.8 399.9H588.6M592.4 400.4V416.0M588.6 408.2H596.2M600.1 400.9V416.9M596.2 408.9H603.9M607.8 408.2V424.6M603.9 416.4H611.8M615.8 410.1V426.9M611.8 418.5H619.7M623.8 421.0V438.1M619.7 429.6H627.9M632.0 424.4V441.6M627.9 433.0H636.2M640.4 425.9V443.3M636.2 434.6H644.6M648.9 431.4V449.0M644.6 440.2H653.2M657.6 434.0V451.8M653.2 442.9H661.9M666.3 429.1V447.1M661.9 438.1H670.7M577.7 405.2V420.1M574.7 412.7H580.7M613.0 430.8V447.4M609.5 439.1H616.5M585.0 402.8V418.1M582.0 410.4H588.0" stroke="#80ff00"/>
<path d="M684.4 537.5H938.6M844.4 518V545" stroke="#00f" stroke-width="2"/>
<g fill="#5a5a5a" stroke="none"><circle cx="151.5" cy="175.0" r="1.45"/><circle cx="154.9" cy="173.5" r="1.45"/><circle cx="158.3" cy="172.4" r="1.45"/><circle cx="161.6" cy="171.9" r="1.45"/><circle cx="164.9" cy="171.7" r="1.45"/><circle cx="168.1" cy="171.8" r="1.45"/><circle cx="171.3" cy="171.9" r="1.45"/><circle cx="174.5" cy="172.3" r="1.45"/><circle cx="177.6" cy="172.7" r="1.45"/><circle cx="180.6" cy="173.5" r="1.45"/><circle cx="183.7" cy="174.5" r="1.45"/><circle cx="186.6" cy="175.5" r="1.45"/><circle cx="189.6" cy="176.5" r="1.45"/><circle cx="192.5" cy="177.6" r="1.45"/><circle cx="195.4" cy="179.2" r="1.45"/><circle cx="198.2" cy="180.8" r="1.45"/><circle cx="201.0" cy="182.4" r="1.45"/><circle cx="203.8" cy="183.9" r="1.45"/><circle cx="206.5" cy="185.8" r="1.45"/><circle cx="209.2" cy="188.0" r="1.45"/><circle cx="211.9" cy="190.1" r="1.45"/><circle cx="214.5" cy="192.2" r="1.45"/><circle cx="217.2" cy="194.3" r="1.45"/><circle cx="219.7" cy="197.1" r="1.45"/><circle cx="222.3" cy="200.2" r="1.45"/><circle cx="224.8" cy="203.2" r="1.45"/><circle cx="227.3" cy="206.2" r="1.45"/><circle cx="229.8" cy="209.2" r="1.45"/><circle cx="232.3" cy="212.5" r="1.45"/><circle cx="234.7" cy="216.1" r="1.45"/><circle cx="237.1" cy="219.7" r="1.45"/><circle cx="239.5" cy="223.2" r="1.45"/><circle cx="241.8" cy="226.7" r="1.45"/><circle cx="244.1" cy="230.2" r="1.45"/><circle cx="246.4" cy="234.1" r="1.45"/><circle cx="248.7" cy="238.0" r="1.45"/><circle cx="251.0" cy="241.8" r="1.45"/><circle cx="253.2" cy="245.6" r="1.45"/><circle cx="255.4" cy="249.4" r="1.45"/><circle cx="257.6" cy="253.2" r="1.45"/><circle cx="259.8" cy="257.1" r="1.45"/><circle cx="262.0" cy="261.0" r="1.45"/><circle cx="264.1" cy="264.8" r="1.45"/><circle cx="266.2" cy="268.7" r="1.45"/><circle cx="268.3" cy="272.5" r="1.45"/><circle cx="270.4" cy="276.4" r="1.45"/><circle cx="272.5" cy="280.9" r="1.45"/><circle cx="274.5" cy="285.4" r="1.45"/><circle cx="276.5" cy="289.8" r="1.45"/><circle cx="278.5" cy="294.2" r="1.45"/><circle cx="280.5" cy="298.6" r="1.45"/><circle cx="282.5" cy="302.9" r="1.45"/><circle cx="284.5" cy="307.6" r="1.45"/><circle cx="286.4" cy="312.3" r="1.45"/><circle cx="288.3" cy="317.0" r="1.45"/><circle cx="290.2" cy="321.7" r="1.45"/><circle cx="292.1" cy="326.4" r="1.45"/><circle cx="294.0" cy="331.1" r="1.45"/><circle cx="295.9" cy="336.1" r="1.45"/><circle cx="297.7" cy="341.2" r="1.45"/><circle cx="299.5" cy="346.2" r="1.45"/><circle cx="301.4" cy="351.1" r="1.45"/><circle cx="303.2" cy="356.0" r="1.45"/><circle cx="305.0" cy="360.9" r="1.45"/><circle cx="306.7" cy="365.7" r="1.45"/><circle cx="308.5" cy="370.9" r="1.45"/><circle cx="310.2" cy="376.1" r="1.45"/><circle cx="312.0" cy="381.3" r="1.45"/><circle cx="313.7" cy="386.5" r="1.45"/><circle cx="315.4" cy="391.7" r="1.45"/><circle cx="317.1" cy="396.8" r="1.45"/><circle cx="318.8" cy="401.8" r="1.45"/><circle cx="320.5" cy="407.0" r="1.45"/><circle cx="322.1" cy="412.4" r="1.45"/><circle cx="323.8" cy="417.7" r="1.45"/><circle cx="325.4" cy="422.9" r="1.45"/><circle cx="327.1" cy="428.1" r="1.45"/><circle cx="328.7" cy="433.3" r="1.45"/><circle cx="330.3" cy="438.5" r="1.45"/><circle cx="331.9" cy="443.6" r="1.45"/><circle cx="333.5" cy="449.5" r="1.45"/><circle cx="335.0" cy="455.5" r="1.45"/><circle cx="336.6" cy="461.5" r="1.45"/><circle cx="338.2" cy="467.4" r="1.45"/><circle cx="339.7" cy="473.2" r="1.45"/><circle cx="341.2" cy="479.1" r="1.45"/><circle cx="342.8" cy="484.9" r="1.45"/><circle cx="344.3" cy="490.6" r="1.45"/><circle cx="345.8" cy="496.6" r="1.45"/><circle cx="347.3" cy="502.5" r="1.45"/><circle cx="348.7" cy="508.4" r="1.45"/><circle cx="350.2" cy="514.2" r="1.45"/><circle cx="351.7" cy="520.1" r="1.45"/><circle cx="353.1" cy="527.8" r="1.45"/><circle cx="354.6" cy="536.1" r="1.45"/><circle cx="151.5" cy="241.2" r="1.45"/><circle cx="154.9" cy="239.5" r="1.45"/><circle cx="158.3" cy="237.8" r="1.45"/><circle cx="161.6" cy="236.2" r="1.45"/><circle cx="164.9" cy="234.5" r="1.45"/><circle cx="168.1" cy="233.2" r="1.45"/><circle cx="171.3" cy="231.9" r="1.45"/><circle cx="174.5" cy="230.7" r="1.45"/><circle cx="177.6" cy="229.5" r="1.45"/><circle cx="180.6" cy="228.3" r="1.45"/><circle cx="183.7" cy="227.4" r="1.45"/><circle cx="186.6" cy="226.5" r="1.45"/><circle cx="189.6" cy="225.6" r="1.45"/><circle cx="192.5" cy="224.8" r="1.45"/><circle cx="195.4" cy="224.2" r="1.45"/><circle cx="198.2" cy="223.7" r="1.45"/><circle cx="201.0" cy="223.1" r="1.45"/><circle cx="203.8" cy="222.5" r="1.45"/><circle cx="206.5" cy="222.1" r="1.45"/><circle cx="209.2" cy="221.9" r="1.45"/><circle cx="211.9" cy="221.6" r="1.45"/><circle cx="214.5" cy="221.3" r="1.45"/><circle cx="217.2" cy="221.1" r="1.45"/><circle cx="219.7" cy="221.1" r="1.45"/><circle cx="222.3" cy="221.2" r="1.45"/><circle cx="224.8" cy="221.3" r="1.45"/><circle cx="227.3" cy="221.5" r="1.45"/><circle cx="229.8" cy="221.6" r="1.45"/><circle cx="232.3" cy="221.7" r="1.45"/><circle cx="234.7" cy="221.8" r="1.45"/><circle cx="237.1" cy="222.0" r="1.45"/><circle cx="239.5" cy="222.1" r="1.45"/><circle cx="241.8" cy="222.2" r="1.45"/><circle cx="244.1" cy="222.3" r="1.45"/><circle cx="246.4" cy="222.5" r="1.45"/><circle cx="248.7" cy="222.8" r="1.45"/><circle cx="251.0" cy="223.0" r="1.45"/><circle cx="253.2" cy="223.2" r="1.45"/><circle cx="255.4" cy="223.4" r="1.45"/><circle cx="257.6" cy="223.7" r="1.45"/><circle cx="259.8" cy="223.9" r="1.45"/><circle cx="262.0" cy="224.1" r="1.45"/><circle cx="264.1" cy="224.3" r="1.45"/><circle cx="266.2" cy="224.5" r="1.45"/><circle cx="268.3" cy="224.7" r="1.45"/><circle cx="270.4" cy="225.0" r="1.45"/><circle cx="272.5" cy="225.3" r="1.45"/><circle cx="274.5" cy="225.7" r="1.45"/><circle cx="276.5" cy="226.0" r="1.45"/><circle cx="278.5" cy="226.3" r="1.45"/><circle cx="280.5" cy="226.7" r="1.45"/><circle cx="282.5" cy="227.0" r="1.45"/><circle cx="284.5" cy="227.3" r="1.45"/><circle cx="286.4" cy="227.7" r="1.45"/><circle cx="288.3" cy="228.0" r="1.45"/><circle cx="290.2" cy="228.3" r="1.45"/><circle cx="292.1" cy="228.6" r="1.45"/><circle cx="294.0" cy="229.0" r="1.45"/><circle cx="295.9" cy="229.3" r="1.45"/><circle cx="297.7" cy="229.8" r="1.45"/><circle cx="299.5" cy="230.3" r="1.45"/><circle cx="301.4" cy="230.8" r="1.45"/><circle cx="303.2" cy="231.3" r="1.45"/><circle cx="305.0" cy="231.8" r="1.45"/><circle cx="306.7" cy="232.3" r="1.45"/><circle cx="308.5" cy="232.8" r="1.45"/><circle cx="310.2" cy="233.2" r="1.45"/><circle cx="312.0" cy="233.7" r="1.45"/><circle cx="313.7" cy="234.2" r="1.45"/><circle cx="315.4" cy="234.7" r="1.45"/><circle cx="317.1" cy="235.1" r="1.45"/><circle cx="318.8" cy="235.6" r="1.45"/><circle cx="320.5" cy="236.1" r="1.45"/><circle cx="322.1" cy="236.6" r="1.45"/><circle cx="323.8" cy="237.6" r="1.45"/><circle cx="325.4" cy="238.6" r="1.45"/><circle cx="327.1" cy="239.5" r="1.45"/><circle cx="328.7" cy="240.5" r="1.45"/><circle cx="330.3" cy="241.5" r="1.45"/><circle cx="331.9" cy="242.4" r="1.45"/><circle cx="333.5" cy="243.4" r="1.45"/><circle cx="335.0" cy="244.3" r="1.45"/><circle cx="336.6" cy="245.9" r="1.45"/><circle cx="338.2" cy="247.5" r="1.45"/><circle cx="339.7" cy="249.0" r="1.45"/><circle cx="341.2" cy="250.5" r="1.45"/><circle cx="342.8" cy="252.0" r="1.45"/><circle cx="344.3" cy="253.3" r="1.45"/><circle cx="345.8" cy="254.5" r="1.45"/><circle cx="347.3" cy="255.6" r="1.45"/><circle cx="348.7" cy="256.3" r="1.45"/><circle cx="350.2" cy="257.0" r="1.45"/><circle cx="351.7" cy="257.5" r="1.45"/><circle cx="353.5" cy="269.7" r="1.45"/><circle cx="354.9" cy="270.4" r="1.45"/><circle cx="356.4" cy="271.1" r="1.45"/><circle cx="357.8" cy="271.9" r="1.45"/><circle cx="359.2" cy="272.6" r="1.45"/><circle cx="360.6" cy="273.3" r="1.45"/><circle cx="362.0" cy="274.0" r="1.45"/><circle cx="363.4" cy="274.7" r="1.45"/><circle cx="364.8" cy="275.4" r="1.45"/><circle cx="366.2" cy="276.1" r="1.45"/><circle cx="367.6" cy="276.8" r="1.45"/><circle cx="368.9" cy="277.5" r="1.45"/><circle cx="370.3" cy="278.1" r="1.45"/><circle cx="371.6" cy="278.7" r="1.45"/><circle cx="373.0" cy="279.3" r="1.45"/><circle cx="374.3" cy="279.9" r="1.45"/><circle cx="375.6" cy="280.5" r="1.45"/><circle cx="376.9" cy="281.1" r="1.45"/><circle cx="378.2" cy="281.7" r="1.45"/><circle cx="379.5" cy="282.3" r="1.45"/><circle cx="380.8" cy="283.0" r="1.45"/><circle cx="382.1" cy="283.7" r="1.45"/><circle cx="383.4" cy="284.4" r="1.45"/><circle cx="384.7" cy="285.1" r="1.45"/><circle cx="385.9" cy="285.8" r="1.45"/><circle cx="387.2" cy="286.5" r="1.45"/><circle cx="388.4" cy="287.2" r="1.45"/><circle cx="389.7" cy="287.9" r="1.45"/><circle cx="390.9" cy="288.6" r="1.45"/><circle cx="392.1" cy="289.3" r="1.45"/><circle cx="393.4" cy="290.0" r="1.45"/><circle cx="394.6" cy="290.7" r="1.45"/><circle cx="395.8" cy="291.3" r="1.45"/><circle cx="397.0" cy="292.0" r="1.45"/><circle cx="398.2" cy="292.7" r="1.45"/><circle cx="399.4" cy="293.3" r="1.45"/><circle cx="400.6" cy="294.0" r="1.45"/><circle cx="401.8" cy="294.6" r="1.45"/><circle cx="402.9" cy="295.3" r="1.45"/><circle cx="404.1" cy="296.1" r="1.45"/><circle cx="405.3" cy="296.8" r="1.45"/><circle cx="406.4" cy="297.5" r="1.45"/><circle cx="407.6" cy="298.1" r="1.45"/><circle cx="408.7" cy="298.8" r="1.45"/><circle cx="409.9" cy="299.5" r="1.45"/><circle cx="411.0" cy="300.2" r="1.45"/><circle cx="412.1" cy="300.9" r="1.45"/><circle cx="413.3" cy="301.5" r="1.45"/><circle cx="414.4" cy="302.0" r="1.45"/><circle cx="415.5" cy="302.5" r="1.45"/><circle cx="416.6" cy="303.0" r="1.45"/><circle cx="417.7" cy="303.5" r="1.45"/><circle cx="418.8" cy="304.0" r="1.45"/><circle cx="419.9" cy="304.5" r="1.45"/><circle cx="421.0" cy="305.0" r="1.45"/><circle cx="422.1" cy="305.5" r="1.45"/><circle cx="423.2" cy="305.9" r="1.45"/><circle cx="424.2" cy="306.4" r="1.45"/><circle cx="425.3" cy="306.9" r="1.45"/><circle cx="426.4" cy="307.4" r="1.45"/><circle cx="427.4" cy="307.8" r="1.45"/><circle cx="428.5" cy="308.3" r="1.45"/><circle cx="429.5" cy="308.8" r="1.45"/><circle cx="430.6" cy="309.0" r="1.45"/></g>
<g fill="#ff6a6a" stroke="none"><circle cx="153.2" cy="180.8" r="1.45"/><circle cx="156.6" cy="179.3" r="1.45"/><circle cx="160.0" cy="178.6" r="1.45"/><circle cx="163.3" cy="178.1" r="1.45"/><circle cx="166.5" cy="178.2" r="1.45"/><circle cx="169.7" cy="178.3" r="1.45"/><circle cx="172.9" cy="178.6" r="1.45"/><circle cx="176.0" cy="179.0" r="1.45"/><circle cx="179.1" cy="179.4" r="1.45"/><circle cx="182.1" cy="180.5" r="1.45"/><circle cx="185.1" cy="181.5" r="1.45"/><circle cx="188.1" cy="182.5" r="1.45"/><circle cx="191.0" cy="183.5" r="1.45"/><circle cx="193.9" cy="184.9" r="1.45"/><circle cx="196.8" cy="186.5" r="1.45"/><circle cx="199.6" cy="188.1" r="1.45"/><circle cx="202.4" cy="189.6" r="1.45"/><circle cx="205.1" cy="191.2" r="1.45"/><circle cx="207.9" cy="193.4" r="1.45"/><circle cx="210.6" cy="195.5" r="1.45"/><circle cx="213.2" cy="197.7" r="1.45"/><circle cx="215.9" cy="199.8" r="1.45"/><circle cx="218.5" cy="202.0" r="1.45"/><circle cx="221.0" cy="205.1" r="1.45"/><circle cx="223.6" cy="208.2" r="1.45"/><circle cx="226.1" cy="211.2" r="1.45"/><circle cx="228.6" cy="214.2" r="1.45"/><circle cx="231.0" cy="217.2" r="1.45"/><circle cx="233.5" cy="220.8" r="1.45"/><circle cx="235.9" cy="224.4" r="1.45"/><circle cx="238.3" cy="228.0" r="1.45"/><circle cx="240.6" cy="231.5" r="1.45"/><circle cx="243.0" cy="235.0" r="1.45"/><circle cx="245.3" cy="238.7" r="1.45"/><circle cx="247.6" cy="242.6" r="1.45"/><circle cx="249.9" cy="246.4" r="1.45"/><circle cx="252.1" cy="250.2" r="1.45"/><circle cx="254.3" cy="254.0" r="1.45"/><circle cx="256.5" cy="257.7" r="1.45"/><circle cx="258.7" cy="261.6" r="1.45"/><circle cx="260.9" cy="265.5" r="1.45"/><circle cx="263.0" cy="269.4" r="1.45"/><circle cx="265.2" cy="273.3" r="1.45"/><circle cx="267.3" cy="277.1" r="1.45"/><circle cx="269.4" cy="280.8" r="1.45"/><circle cx="271.4" cy="285.1" r="1.45"/><circle cx="273.5" cy="289.6" r="1.45"/><circle cx="275.5" cy="294.1" r="1.45"/><circle cx="277.5" cy="298.5" r="1.45"/><circle cx="279.5" cy="302.9" r="1.45"/><circle cx="281.5" cy="307.2" r="1.45"/><circle cx="283.5" cy="311.7" r="1.45"/><circle cx="285.4" cy="316.4" r="1.45"/><circle cx="287.4" cy="321.2" r="1.45"/><circle cx="289.3" cy="325.9" r="1.45"/><circle cx="291.2" cy="330.5" r="1.45"/><circle cx="293.1" cy="335.2" r="1.45"/><circle cx="294.9" cy="340.1" r="1.45"/><circle cx="296.8" cy="345.2" r="1.45"/><circle cx="298.6" cy="350.2" r="1.45"/><circle cx="300.4" cy="355.1" r="1.45"/><circle cx="302.3" cy="360.1" r="1.45"/><circle cx="304.1" cy="365.0" r="1.45"/><circle cx="305.8" cy="369.8" r="1.45"/><circle cx="307.6" cy="374.7" r="1.45"/><circle cx="309.4" cy="380.0" r="1.45"/><circle cx="311.1" cy="385.2" r="1.45"/><circle cx="312.8" cy="390.4" r="1.45"/><circle cx="314.6" cy="395.6" r="1.45"/><circle cx="316.3" cy="400.7" r="1.45"/><circle cx="318.0" cy="405.8" r="1.45"/><circle cx="319.6" cy="410.8" r="1.45"/><circle cx="321.3" cy="416.2" r="1.45"/><circle cx="323.0" cy="421.5" r="1.45"/><circle cx="324.6" cy="426.8" r="1.45"/><circle cx="326.3" cy="432.0" r="1.45"/><circle cx="327.9" cy="437.2" r="1.45"/><circle cx="329.5" cy="442.4" r="1.45"/><circle cx="331.1" cy="447.6" r="1.45"/><circle cx="332.7" cy="453.0" r="1.45"/><circle cx="334.3" cy="459.0" r="1.45"/><circle cx="335.8" cy="465.0" r="1.45"/><circle cx="337.4" cy="470.9" r="1.45"/><circle cx="338.9" cy="476.8" r="1.45"/><circle cx="340.5" cy="482.7" r="1.45"/><circle cx="342.0" cy="488.5" r="1.45"/><circle cx="343.5" cy="494.2" r="1.45"/><circle cx="345.0" cy="500.1" r="1.45"/><circle cx="346.5" cy="506.0" r="1.45"/><circle cx="348.0" cy="511.9" r="1.45"/><circle cx="349.5" cy="517.8" r="1.45"/><circle cx="351.0" cy="523.7" r="1.45"/><circle cx="352.4" cy="530.2" r="1.45"/><circle cx="353.9" cy="538.5" r="1.45"/><circle cx="151.5" cy="247.7" r="1.45"/><circle cx="154.9" cy="246.0" r="1.45"/><circle cx="158.3" cy="244.3" r="1.45"/><circle cx="161.6" cy="242.7" r="1.45"/><circle cx="164.9" cy="241.1" r="1.45"/><circle cx="168.1" cy="239.7" r="1.45"/><circle cx="171.3" cy="238.5" r="1.45"/><circle cx="174.5" cy="237.3" r="1.45"/><circle cx="177.6" cy="236.0" r="1.45"/><circle cx="180.6" cy="234.9" r="1.45"/><circle cx="183.7" cy="234.0" r="1.45"/><circle cx="186.6" cy="233.1" r="1.45"/><circle cx="189.6" cy="232.3" r="1.45"/><circle cx="192.5" cy="231.4" r="1.45"/><circle cx="195.4" cy="230.9" r="1.45"/><circle cx="198.2" cy="230.3" r="1.45"/><circle cx="201.0" cy="229.8" r="1.45"/><circle cx="203.8" cy="229.2" r="1.45"/><circle cx="206.5" cy="228.8" r="1.45"/><circle cx="209.2" cy="228.6" r="1.45"/><circle cx="211.9" cy="228.3" r="1.45"/><circle cx="214.5" cy="228.1" r="1.45"/><circle cx="217.2" cy="227.8" r="1.45"/><circle cx="219.7" cy="227.8" r="1.45"/><circle cx="222.3" cy="228.0" r="1.45"/><circle cx="224.8" cy="228.1" r="1.45"/><circle cx="227.3" cy="228.2" r="1.45"/><circle cx="229.8" cy="228.4" r="1.45"/><circle cx="232.3" cy="228.5" r="1.45"/><circle cx="234.7" cy="228.6" r="1.45"/><circle cx="237.1" cy="228.7" r="1.45"/><circle cx="239.5" cy="228.9" r="1.45"/><circle cx="241.8" cy="229.0" r="1.45"/><circle cx="244.1" cy="229.1" r="1.45"/><circle cx="246.4" cy="229.4" r="1.45"/><circle cx="248.7" cy="229.6" r="1.45"/><circle cx="251.0" cy="229.8" r="1.45"/><circle cx="253.2" cy="230.1" r="1.45"/><circle cx="255.4" cy="230.3" r="1.45"/><circle cx="257.6" cy="230.5" r="1.45"/><circle cx="259.8" cy="230.7" r="1.45"/><circle cx="262.0" cy="231.0" r="1.45"/><circle cx="264.1" cy="231.2" r="1.45"/><circle cx="266.2" cy="231.4" r="1.45"/><circle cx="268.3" cy="231.6" r="1.45"/><circle cx="270.4" cy="231.9" r="1.45"/><circle cx="272.5" cy="232.2" r="1.45"/><circle cx="274.5" cy="232.6" r="1.45"/><circle cx="276.5" cy="232.9" r="1.45"/><circle cx="278.5" cy="233.3" r="1.45"/><circle cx="280.5" cy="233.6" r="1.45"/><circle cx="282.5" cy="234.0" r="1.45"/><circle cx="284.5" cy="234.3" r="1.45"/><circle cx="286.4" cy="234.6" r="1.45"/><circle cx="288.3" cy="235.0" r="1.45"/><circle cx="290.2" cy="235.3" r="1.45"/><circle cx="292.1" cy="235.6" r="1.45"/><circle cx="294.0" cy="235.9" r="1.45"/><circle cx="295.9" cy="236.3" r="1.45"/><circle cx="297.7" cy="236.7" r="1.45"/><circle cx="299.5" cy="237.2" r="1.45"/><circle cx="301.4" cy="237.7" r="1.45"/><circle cx="303.2" cy="238.1" r="1.45"/><circle cx="305.0" cy="238.6" r="1.45"/><circle cx="306.7" cy="239.1" r="1.45"/><circle cx="308.5" cy="239.5" r="1.45"/><circle cx="310.2" cy="240.0" r="1.45"/><circle cx="312.0" cy="240.4" r="1.45"/><circle cx="313.7" cy="240.9" r="1.45"/><circle cx="315.4" cy="241.3" r="1.45"/><circle cx="317.1" cy="241.7" r="1.45"/><circle cx="318.8" cy="242.2" r="1.45"/><circle cx="320.5" cy="242.6" r="1.45"/><circle cx="322.1" cy="243.1" r="1.45"/><circle cx="323.8" cy="244.0" r="1.45"/><circle cx="325.4" cy="245.0" r="1.45"/><circle cx="327.1" cy="245.9" r="1.45"/><circle cx="328.7" cy="246.8" r="1.45"/><circle cx="330.3" cy="247.8" r="1.45"/><circle cx="331.9" cy="248.7" r="1.45"/><circle cx="333.5" cy="249.6" r="1.45"/><circle cx="335.0" cy="250.5" r="1.45"/><circle cx="336.6" cy="252.1" r="1.45"/><circle cx="338.2" cy="253.6" r="1.45"/><circle cx="339.7" cy="255.1" r="1.45"/><circle cx="341.2" cy="256.6" r="1.45"/><circle cx="342.8" cy="258.1" r="1.45"/><circle cx="344.3" cy="259.3" r="1.45"/><circle cx="345.8" cy="260.4" r="1.45"/><circle cx="347.3" cy="261.5" r="1.45"/><circle cx="348.7" cy="262.2" r="1.45"/><circle cx="350.2" cy="262.8" r="1.45"/><circle cx="351.7" cy="263.3" r="1.45"/><circle cx="353.5" cy="275.9" r="1.45"/><circle cx="354.9" cy="276.6" r="1.45"/><circle cx="356.4" cy="277.3" r="1.45"/><circle cx="357.8" cy="278.0" r="1.45"/><circle cx="359.2" cy="278.6" r="1.45"/><circle cx="360.6" cy="279.3" r="1.45"/><circle cx="362.0" cy="280.0" r="1.45"/><circle cx="363.4" cy="280.7" r="1.45"/><circle cx="364.8" cy="281.3" r="1.45"/><circle cx="366.2" cy="282.0" r="1.45"/><circle cx="367.6" cy="282.6" r="1.45"/><circle cx="368.9" cy="283.3" r="1.45"/><circle cx="370.3" cy="284.0" r="1.45"/><circle cx="371.6" cy="284.7" r="1.45"/><circle cx="373.0" cy="285.5" r="1.45"/><circle cx="374.3" cy="286.3" r="1.45"/><circle cx="375.6" cy="287.0" r="1.45"/><circle cx="376.9" cy="287.8" r="1.45"/><circle cx="378.2" cy="288.6" r="1.45"/><circle cx="379.5" cy="289.3" r="1.45"/><circle cx="380.8" cy="290.0" r="1.45"/><circle cx="382.1" cy="290.8" r="1.45"/><circle cx="383.4" cy="291.5" r="1.45"/><circle cx="384.7" cy="292.2" r="1.45"/><circle cx="385.9" cy="293.0" r="1.45"/><circle cx="387.2" cy="293.7" r="1.45"/><circle cx="388.4" cy="294.4" r="1.45"/><circle cx="389.7" cy="295.1" r="1.45"/><circle cx="390.9" cy="295.8" r="1.45"/><circle cx="392.1" cy="296.5" r="1.45"/><circle cx="393.4" cy="297.2" r="1.45"/><circle cx="394.6" cy="297.9" r="1.45"/><circle cx="395.8" cy="298.6" r="1.45"/><circle cx="397.0" cy="299.3" r="1.45"/><circle cx="398.2" cy="300.0" r="1.45"/><circle cx="399.4" cy="300.7" r="1.45"/><circle cx="400.6" cy="301.4" r="1.45"/><circle cx="401.8" cy="302.0" r="1.45"/><circle cx="402.9" cy="302.7" r="1.45"/><circle cx="404.1" cy="303.3" r="1.45"/><circle cx="405.3" cy="303.9" r="1.45"/><circle cx="406.4" cy="304.5" r="1.45"/><circle cx="407.6" cy="305.1" r="1.45"/><circle cx="408.7" cy="305.7" r="1.45"/><circle cx="409.9" cy="306.3" r="1.45"/><circle cx="411.0" cy="306.9" r="1.45"/><circle cx="412.1" cy="307.5" r="1.45"/><circle cx="413.3" cy="308.1" r="1.45"/><circle cx="414.4" cy="308.7" r="1.45"/><circle cx="415.5" cy="309.2" r="1.45"/><circle cx="416.6" cy="309.8" r="1.45"/><circle cx="417.7" cy="310.4" r="1.45"/><circle cx="418.8" cy="311.0" r="1.45"/><circle cx="419.9" cy="311.5" r="1.45"/><circle cx="421.0" cy="312.1" r="1.45"/><circle cx="422.1" cy="312.7" r="1.45"/><circle cx="423.2" cy="313.2" r="1.45"/><circle cx="424.2" cy="313.8" r="1.45"/><circle cx="425.3" cy="314.4" r="1.45"/><circle cx="426.4" cy="314.9" r="1.45"/><circle cx="427.4" cy="315.5" r="1.45"/><circle cx="428.5" cy="316.1" r="1.45"/><circle cx="429.5" cy="316.7" r="1.45"/><circle cx="430.6" cy="317.3" r="1.45"/></g>
<path d="M147.3 72.0H156.5M151.9 67.4V76.6M150.7 69.8H159.9M155.3 65.2V74.4M154.1 70.6H163.3M158.7 66.0V75.2M157.4 69.6H166.6M162.0 65.0V74.2M160.7 68.9H169.9M165.3 64.3V73.5M163.9 68.9H173.1M168.5 64.3V73.5M167.1 69.2H176.3M171.7 64.6V73.8M170.2 67.9H179.4M174.8 63.3V72.5M173.3 68.0H182.5M177.9 63.4V72.6M176.4 69.4H185.6M181.0 64.8V74.0M179.4 66.5H188.6M184.0 61.9V71.1M182.4 67.7H191.6M187.0 63.1V72.3M185.3 69.2H194.5M189.9 64.6V73.8M188.2 68.5H197.4M192.8 63.9V73.1M191.1 69.8H200.3M195.7 65.2V74.4M194.0 69.9H203.2M198.6 65.3V74.5M196.8 69.6H206.0M201.4 65.0V74.2M199.5 72.1H208.7M204.1 67.5V76.7M202.3 71.9H211.5M206.9 67.3V76.5M205.0 72.4H214.2M209.6 67.8V77.0M207.6 73.6H216.8M212.2 69.0V78.2M210.3 76.1H219.5M214.9 71.5V80.7M212.9 76.7H222.1M217.5 72.1V81.3M215.5 79.9H224.7M220.1 75.3V84.5M218.0 80.3H227.2M222.6 75.7V84.9M220.5 81.2H229.7M225.1 76.6V85.8M223.0 83.9H232.2M227.6 79.3V88.5M225.5 84.4H234.7M230.1 79.8V89.0M228.0 84.4H237.2M232.6 79.8V89.0M230.4 85.0H239.6M235.0 80.4V89.6M232.8 87.9H242.0M237.4 83.3V92.5M235.2 89.4H244.4M239.8 84.8V94.0M237.5 92.2H246.7M242.1 87.6V96.8M239.8 93.9H249.0M244.4 89.3V98.5M242.1 95.7H251.3M246.7 91.1V100.3M244.4 95.9H253.6M249.0 91.3V100.5M246.7 97.4H255.9M251.3 92.8V102.0M248.9 100.2H258.1M253.5 95.6V104.8M251.1 102.6H260.3M255.7 98.0V107.2M253.3 103.5H262.5M257.9 98.9V108.1M255.5 105.4H264.7M260.1 100.8V110.0M257.6 107.7H266.8M262.2 103.1V112.3M259.8 108.5H269.0M264.4 103.9V113.1M261.9 111.4H271.1M266.5 106.8V116.0M264.0 113.3H273.2M268.6 108.7V117.9M266.1 116.0H275.3M270.7 111.4V120.6M268.1 116.9H277.3M272.7 112.3V121.5M270.1 117.7H279.3M274.7 113.1V122.3M272.2 120.9H281.4M276.8 116.3V125.5M274.2 123.1H283.4M278.8 118.5V127.7M276.2 125.0H285.4M280.8 120.4V129.6M278.1 127.3H287.3M282.7 122.7V131.9M280.1 129.2H289.3M284.7 124.6V133.8M282.0 131.3H291.2M286.6 126.7V135.9M284.0 133.4H293.2M288.6 128.8V138.0M285.9 136.7H295.1M290.5 132.1V141.3M287.7 137.8H296.9M292.3 133.2V142.4M289.6 141.5H298.8M294.2 136.9V146.1M291.5 142.0H300.7M296.1 137.4V146.6M293.3 145.3H302.5M297.9 140.7V149.9M295.2 146.4H304.4M299.8 141.8V151.0M297.0 148.0H306.2M301.6 143.4V152.6M298.8 150.8H308.0M303.4 146.2V155.4M300.6 152.3H309.8M305.2 147.7V156.9M302.3 156.0H311.5M306.9 151.4V160.6M304.1 157.2H313.3M308.7 152.6V161.8M305.9 157.8H315.1M310.5 153.2V162.4M307.6 161.5H316.8M312.2 156.9V166.1M309.3 161.7H318.5M313.9 157.1V166.3M311.0 165.6H320.2M315.6 161.0V170.2M312.7 167.1H321.9M317.3 162.5V171.7M314.4 169.2H323.6M319.0 164.6V173.8M316.1 170.0H325.3M320.7 165.4V174.6M317.8 171.3H327.0M322.4 166.7V175.9M319.4 174.9H328.6M324.0 170.3V179.5M321.0 176.0H330.2M325.6 171.4V180.6M322.7 176.1H331.9M327.3 171.5V180.7M324.3 180.3H333.5M328.9 175.7V184.9M325.9 182.9H335.1M330.5 178.3V187.5M327.5 183.5H336.7M332.1 178.9V188.1M329.1 186.2H338.3M333.7 181.6V190.8M330.6 188.8H339.8M335.2 184.2V193.4M332.2 192.0H341.4M336.8 187.4V196.6M333.8 190.9H343.0M338.4 186.3V195.5M335.3 194.5H344.5M339.9 189.9V199.1M336.8 196.5H346.0M341.4 191.9V201.1M338.3 201.4H347.5M342.9 196.8V206.0M339.9 202.1H349.1M344.5 197.5V206.7M341.4 206.3H350.6M346.0 201.7V210.9M342.8 209.3H352.0M347.4 204.7V213.9M344.3 213.7H353.5M348.9 209.1V218.3M345.8 216.1H355.0M350.4 211.5V220.7M347.3 218.9H356.5M351.9 214.3V223.5M348.7 222.9H357.9M353.3 218.3V227.5M350.2 228.0H359.4M354.8 223.4V232.6M351.6 232.7H360.8M356.2 228.1V237.3M353.0 236.1H362.2M357.6 231.5V240.7M354.5 237.9H363.7M359.1 233.3V242.5M355.9 239.5H365.1M360.5 234.9V244.1M357.3 239.1H366.5M361.9 234.5V243.7M358.7 241.2H367.9M363.3 236.6V245.8M360.0 244.9H369.2M364.6 240.3V249.5M361.4 243.7H370.6M366.0 239.1V248.3M362.8 243.2H372.0M367.4 238.6V247.8M364.2 246.4H373.4M368.8 241.8V251.0M365.5 249.9H374.7M370.1 245.3V254.5M366.9 248.7H376.1M371.5 244.1V253.3M368.2 248.6H377.4M372.8 244.0V253.2M369.5 250.7H378.7M374.1 246.1V255.3M370.8 253.0H380.0M375.4 248.4V257.6M372.2 250.9H381.4M376.8 246.3V255.5M373.5 252.2H382.7M378.1 247.6V256.8M374.8 256.5H384.0M379.4 251.9V261.1M376.1 256.4H385.3M380.7 251.8V261.0M377.4 258.4H386.6M382.0 253.8V263.0M378.6 259.1H387.8M383.2 254.5V263.7M379.9 259.3H389.1M384.5 254.7V263.9M381.2 261.6H390.4M385.8 257.0V266.2M382.4 264.0H391.6M387.0 259.4V268.6M383.7 266.5H392.9M388.3 261.9V271.1M384.9 268.0H394.1M389.5 263.4V272.6M386.2 268.0H395.4M390.8 263.4V272.6M387.4 267.3H396.6M392.0 262.7V271.9M388.6 270.0H397.8M393.2 265.4V274.6M389.8 271.6H399.0M394.4 267.0V276.2M391.1 272.5H400.3M395.7 267.9V277.1M392.3 274.1H401.5M396.9 269.5V278.7M393.5 274.4H402.7M398.1 269.8V279.0M394.7 278.5H403.9M399.3 273.9V283.1M395.8 281.2H405.0M400.4 276.6V285.8M397.0 279.7H406.2M401.6 275.1V284.3M398.2 282.2H407.4M402.8 277.6V286.8M399.4 278.4H408.6M404.0 273.8V283.0M400.5 282.8H409.7M405.1 278.2V287.4M401.7 284.1H410.9M406.3 279.5V288.7M402.8 287.7H412.0M407.4 283.1V292.3M404.0 285.3H413.2M408.6 280.7V289.9M405.1 288.0H414.3M409.7 283.4V292.6M406.3 285.5H415.5M410.9 280.9V290.1M407.4 287.0H416.6M412.0 282.4V291.6M408.5 291.1H417.7M413.1 286.5V295.7M409.7 289.6H418.9M414.3 285.0V294.2M410.8 297.0H420.0M415.4 292.4V301.6M411.9 293.7H421.1M416.5 289.1V298.3M413.0 290.6H422.2M417.6 286.0V295.2M414.1 292.4H423.3M418.7 287.8V297.0M415.2 294.6H424.4M419.8 290.0V299.2M416.3 295.9H425.5M420.9 291.3V300.5M417.3 299.9H426.5M421.9 295.3V304.5M418.4 300.7H427.6M423.0 296.1V305.3M419.5 298.0H428.7M424.1 293.4V302.6M420.6 295.5H429.8M425.2 290.9V300.1M421.6 305.6H430.8M426.2 301.0V310.2M422.7 300.3H431.9M427.3 295.7V304.9M423.7 301.5H432.9M428.3 296.9V306.1M424.8 301.8H434.0M429.4 297.2V306.4M425.8 307.2H435.0M430.4 302.6V311.8M426.9 307.1H436.1M431.5 302.5V311.7M427.9 306.5H437.1M432.5 301.9V311.1M428.9 309.9H438.1M433.5 305.3V314.5M430.0 311.3H439.2M434.6 306.7V315.9M431.0 311.1H440.2M435.6 306.5V315.7M432.0 309.7H441.2M436.6 305.1V314.3M433.0 309.2H442.2M437.6 304.6V313.8M434.0 311.0H443.2M438.6 306.4V315.6M435.0 311.4H444.2M439.6 306.8V316.0M436.0 314.4H445.2M440.6 309.8V319.0M437.0 315.3H446.2M441.6 310.7V319.9M438.0 310.2H447.2M442.6 305.6V314.8M439.0 314.6H448.2M443.6 310.0V319.2M440.0 315.4H449.2M444.6 310.8V320.0M441.0 312.7H450.2M445.6 308.1V317.3M441.9 312.3H451.1M446.5 307.7V316.9M442.9 312.8H452.1M447.5 308.2V317.4M443.9 316.5H453.1M448.5 311.9V321.1M444.8 318.8H454.0M449.4 314.2V323.4M445.8 318.2H455.0M450.4 313.6V322.8M446.8 319.1H456.0M451.4 314.5V323.7M447.7 314.9H456.9M452.3 310.3V319.5M448.7 319.6H457.9M453.3 315.0V324.2M449.6 318.7H458.8M454.2 314.1V323.3M450.5 321.8H459.7M455.1 317.2V326.4M451.5 316.5H460.7M456.1 311.9V321.1M452.4 331.1H461.6M457.0 326.5V335.7M453.3 321.4H462.5M457.9 316.8V326.0M454.3 320.2H463.5M458.9 315.6V324.8M455.2 329.0H464.4M459.8 324.4V333.6M456.1 314.7H465.3M460.7 310.1V319.3M457.0 325.5H466.2M461.6 320.9V330.1M457.9 326.0H467.1M462.5 321.4V330.6M458.8 330.7H468.0M463.4 326.1V335.3M459.7 321.9H468.9M464.3 317.3V326.5M460.6 325.4H469.8M465.2 320.8V330.0M461.5 329.9H470.7M466.1 325.3V334.5M462.4 326.3H471.6M467.0 321.7V330.9M463.3 324.3H472.5M467.9 319.7V328.9M464.2 322.0H473.4M468.8 317.4V326.6M465.1 327.5H474.3M469.7 322.9V332.1M466.0 334.2H475.2M470.6 329.6V338.8M466.8 332.5H476.0M471.4 327.9V337.1M467.7 342.4H476.9M472.3 337.8V347.0M468.6 334.5H477.8M473.2 329.9V339.1M469.5 327.0H478.7M474.1 322.4V331.6M470.3 329.0H479.5M474.9 324.4V333.6M471.2 332.6H480.4M475.8 328.0V337.2M472.0 334.4H481.2M476.6 329.8V339.0M472.9 324.1H482.1M477.5 319.5V328.7M473.7 331.9H482.9M478.3 327.3V336.5M474.6 328.8H483.8M479.2 324.2V333.4M475.4 332.2H484.6M480.0 327.6V336.8M476.3 338.9H485.5M480.9 334.3V343.5M477.1 326.3H486.3M481.7 321.7V330.9M477.9 343.2H487.1M482.5 338.6V347.8M478.8 343.5H488.0M483.4 338.9V348.1M479.6 339.5H488.8M484.2 334.9V344.1M480.4 341.8H489.6M485.0 337.2V346.4M481.3 341.2H490.5M485.9 336.6V345.8M482.1 342.0H491.3M486.7 337.4V346.6M482.9 332.7H492.1M487.5 328.1V337.3M483.7 338.9H492.9M488.3 334.3V343.5M484.5 337.5H493.7M489.1 332.9V342.1M485.3 350.2H494.5M489.9 345.6V354.8M486.1 346.0H495.3M490.7 341.4V350.6M486.9 334.1H496.1M491.5 329.5V338.7M487.7 349.1H496.9M492.3 344.5V353.7M488.5 334.0H497.7M493.1 329.4V338.6M489.3 348.6H498.5M493.9 344.0V353.2M490.1 340.2H499.3M494.7 335.6V344.8M490.9 348.0H500.1M495.5 343.4V352.6M491.7 341.4H500.9M496.3 336.8V346.0M492.5 349.0H501.7M497.1 344.4V353.6M493.3 345.0H502.5M497.9 340.4V349.6M494.1 332.2H503.3M498.7 327.6V336.8M494.8 346.3H504.0M499.4 341.7V350.9M495.6 330.1H504.8M500.2 325.5V334.7M496.4 347.5H505.6M501.0 342.9V352.1M497.2 352.7H506.4M501.8 348.1V357.3M497.9 344.3H507.1M502.5 339.7V348.9M498.7 348.0H507.9M503.3 343.4V352.6M499.4 333.0H508.6M504.0 328.4V337.6M500.2 339.5H509.4M504.8 334.9V344.1M501.0 337.5H510.2M505.6 332.9V342.1M501.7 341.6H510.9M506.3 337.0V346.2M502.5 328.7H511.7M507.1 324.1V333.3M503.2 340.9H512.4M507.8 336.3V345.5M504.0 343.1H513.2M508.6 338.5V347.7M504.7 353.2H513.9M509.3 348.6V357.8M505.5 354.1H514.7M510.1 349.5V358.7M506.2 346.3H515.4M510.8 341.7V350.9M506.9 340.6H516.1M511.5 336.0V345.2M507.7 339.9H516.9M512.3 335.3V344.5M508.4 355.6H517.6M513.0 351.0V360.2M509.1 344.9H518.3M513.7 340.3V349.5M509.9 347.7H519.1M514.5 343.1V352.3M510.6 357.9H519.8M515.2 353.3V362.5M511.3 345.9H520.5M515.9 341.3V350.5M512.1 367.3H521.3M516.7 362.7V371.9M512.8 348.3H522.0M517.4 343.7V352.9M513.6 331.7H522.8M518.2 327.1V336.3M514.3 358.8H523.5M518.9 354.2V363.4M515.1 351.1H524.3M519.7 346.5V355.7M515.8 366.3H525.0M520.4 361.7V370.9M516.6 357.8H525.8M521.2 353.2V362.4M517.3 346.3H526.5M521.9 341.7V350.9M518.1 360.7H527.3M522.7 356.1V365.3M518.8 353.1H528.0M523.4 348.5V357.7M519.6 355.9H528.8M524.2 351.3V360.5M520.3 356.4H529.5M524.9 351.8V361.0M521.1 352.2H530.3M525.7 347.6V356.8M521.9 350.2H531.1M526.5 345.6V354.8M522.6 344.4H531.8M527.2 339.8V349.0M523.4 347.9H532.6M528.0 343.3V352.5M524.2 359.6H533.4M528.8 355.0V364.2M525.0 343.8H534.2M529.6 339.2V348.4M525.7 345.4H534.9M530.3 340.8V350.0M526.5 368.6H535.7M531.1 364.0V373.2M527.3 350.5H536.5M531.9 345.9V355.1M528.1 349.4H537.3M532.7 344.8V354.0M528.8 348.4H538.0M533.4 343.8V353.0M529.6 352.0H538.8M534.2 347.4V356.6M530.4 367.5H539.6M535.0 362.9V372.1M531.2 359.2H540.4M535.8 354.6V363.8M532.0 374.4H541.2M536.6 369.8V379.0M532.8 358.7H542.0M537.4 354.1V363.3M533.6 340.6H542.8M538.2 336.0V345.2M534.4 352.1H543.6M539.0 347.5V356.7M535.2 351.0H544.4M539.8 346.4V355.6M536.0 362.5H545.2M540.6 357.9V367.1M536.8 366.9H546.0M541.4 362.3V371.5M537.6 367.6H546.8M542.2 363.0V372.2M538.4 357.8H547.6M543.0 353.2V362.4M539.2 365.8H548.4M543.8 361.2V370.4M540.0 364.6H549.2M544.6 360.0V369.2M540.9 349.7H550.1M545.5 345.1V354.3M541.7 373.6H550.9M546.3 369.0V378.2M542.5 371.1H551.7M547.1 366.5V375.7M543.4 364.4H552.6M548.0 359.8V369.0M544.2 361.2H553.4M548.8 356.6V365.8M545.1 361.6H554.3M549.7 357.0V366.2M546.0 372.7H555.2M550.6 368.1V377.3M546.8 359.3H556.0M551.4 354.7V363.9M547.7 362.5H556.9M552.3 357.9V367.1M548.6 358.7H557.8M553.2 354.1V363.3M549.5 371.6H558.7M554.1 367.0V376.2M550.4 360.6H559.6M555.0 356.0V365.2M551.3 361.2H560.5M555.9 356.6V365.8M552.2 369.4H561.4M556.8 364.8V374.0M553.1 366.0H562.3M557.7 361.4V370.6M554.0 369.4H563.2M558.6 364.8V374.0M554.9 353.1H564.1M559.5 348.5V357.7M555.9 390.8H565.1M560.5 386.2V395.4M556.8 378.7H566.0M561.4 374.1V383.3M557.7 381.4H566.9M562.3 376.8V386.0M558.7 370.2H567.9M563.3 365.6V374.8M559.7 373.4H568.9M564.3 368.8V378.0M560.6 371.5H569.8M565.2 366.9V376.1M561.6 362.0H570.8M566.2 357.4V366.6M562.6 383.3H571.8M567.2 378.7V387.9M563.5 376.9H572.7M568.1 372.3V381.5M564.5 371.9H573.7M569.1 367.3V376.5M565.5 381.3H574.7M570.1 376.7V385.9M566.5 367.8H575.7M571.1 363.2V372.4M567.5 368.8H576.7M572.1 364.2V373.4M568.6 378.7H577.8M573.2 374.1V383.3M569.6 388.9H578.8M574.2 384.3V393.5M570.7 359.2H579.9M575.3 354.6V363.8M571.8 370.0H581.0M576.4 365.4V374.6M572.9 371.1H582.1M577.5 366.5V375.7M574.0 374.9H583.2M578.6 370.3V379.5M575.2 376.3H584.4M579.8 371.7V380.9M576.3 369.4H585.5M580.9 364.8V374.0M577.5 377.8H586.7M582.1 373.2V382.4M578.7 384.1H587.9M583.3 379.5V388.7M579.9 372.6H589.1M584.5 368.0V377.2M581.2 379.3H590.4M585.8 374.7V383.9M582.4 387.6H591.6M587.0 383.0V392.2M583.7 389.6H592.9M588.3 385.0V394.2M585.0 371.3H594.2M589.6 366.7V375.9M586.4 377.0H595.6M591.0 372.4V381.6M587.7 365.6H596.9M592.3 361.0V370.2M589.1 389.8H598.3M593.7 385.2V394.4M590.5 392.8H599.7M595.1 388.2V397.4M591.9 383.2H601.1M596.5 378.6V387.8M593.3 375.2H602.5M597.9 370.6V379.8M594.8 383.6H604.0M599.4 379.0V388.2M596.3 386.3H605.5M600.9 381.7V390.9M597.8 373.9H607.0M602.4 369.3V378.5M599.4 399.6H608.6M604.0 395.0V404.2M601.0 405.5H610.2M605.6 400.9V410.1M602.7 402.1H611.9M607.3 397.5V406.7M604.5 399.5H613.7M609.1 394.9V404.1M606.3 394.5H615.5M610.9 389.9V399.1M608.2 389.9H617.4M612.8 385.3V394.5M610.1 397.1H619.3M614.7 392.5V401.7M612.2 387.9H621.4M616.8 383.3V392.5M614.3 410.4H623.5M618.9 405.8V415.0M616.4 386.5H625.6M621.0 381.9V391.1M618.6 412.3H627.8M623.2 407.7V416.9M620.9 395.4H630.1M625.5 390.8V400.0M623.3 415.6H632.5M627.9 411.0V420.2M625.7 405.2H634.9M630.3 400.6V409.8M628.3 409.0H637.5M632.9 404.4V413.6M630.8 406.1H640.0M635.4 401.5V410.7M633.5 405.3H642.7M638.1 400.7V409.9M636.2 415.1H645.4M640.8 410.5V419.7M639.1 415.2H648.3M643.7 410.6V419.8M642.0 413.9H651.2M646.6 409.3V418.5M645.0 429.3H654.2M649.6 424.7V433.9M648.0 426.3H657.2M652.6 421.7V430.9M651.2 436.0H660.4M655.8 431.4V440.6M654.4 424.3H663.6M659.0 419.7V428.9M657.7 408.0H666.9M662.3 403.4V412.6M661.2 422.7H670.4M665.8 418.1V427.3M664.7 438.3H673.9M669.3 433.7V442.9M668.4 439.4H677.6M673.0 434.8V444.0M672.2 428.4H681.4M676.8 423.8V433.0M676.2 442.6H685.4M680.8 438.0V447.2M680.3 454.1H689.5M684.9 449.5V458.7M684.5 452.3H693.7M689.1 447.7V456.9M145.7 69.6H154.9M150.3 65.0V74.2M163.8 66.8H173.0M168.4 62.2V71.4M368.3 245.3H377.5M372.9 240.7V249.9M304.4 159.5H313.6M309.0 154.9V164.1M347.4 222.5H356.6M352.0 217.9V227.1M496.9 365.9H506.1M501.5 361.3V370.5M630.4 386.4H639.6M635.0 381.8V391.0M342.4 212.3H351.6M347.0 207.7V216.9M353.9 238.6H363.1M358.5 234.0V243.2M422.0 306.5H431.2M426.6 301.9V311.1M465.4 340.4H474.6M470.0 335.8V345.0M477.4 349.7H486.6M482.0 345.1V354.3M685.4 433.6H694.6M690.0 429.0V438.2M691.4 445.0H700.6M696.0 440.4V449.6M696.2 452.6H705.4M700.8 448.0V457.2M702.0 471.7H711.2M706.6 467.1V476.3M708.4 464.4H717.6M713.0 459.8V469.0M715.4 474.4H724.6M720.0 469.8V479.0M722.6 460.2H731.8M727.2 455.6V464.8M730.3 493.4H739.5M734.9 488.8V498.0M739.2 478.9H748.4M743.8 474.3V483.5M748.4 486.2H757.6M753.0 481.6V490.8M761.0 494.0H770.2M765.6 489.4V498.6M777.6 522.4H786.8M782.2 517.8V527.0" stroke="#000"/>
<path d="M687.5 446.0L693.0 446.0L693.0 450.2L698.4 450.2L698.4 453.6L703.7 453.6L703.7 458.1L709.8 458.1L709.8 463.0L716.5 463.0L716.5 468.5L722.6 468.5L722.6 474.4L731.7 474.4L731.7 479.8L742.5 479.8L742.5 488.0L751.6 488.0L751.6 494.3L760.7 494.3L760.7 503.7L774.3 503.7L774.3 517.0L799.6 517.0L799.6 541.8L815.0 541.8L815.0 543.3L845.9 543.3" stroke="#000" stroke-width="1.8"/>
<path d="M147.9 80.0H157.1M152.5 75.4V84.6M151.3 79.2H160.5M155.9 74.6V83.8M154.7 77.4H163.9M159.3 72.8V82.0M158.0 77.0H167.2M162.6 72.4V81.6M161.3 77.2H170.5M165.9 72.6V81.8M164.5 76.0H173.7M169.1 71.4V80.6M167.7 76.1H176.9M172.3 71.5V80.7M170.8 75.8H180.0M175.4 71.2V80.4M173.9 75.7H183.1M178.5 71.1V80.3M176.9 73.3H186.1M181.5 68.7V77.9M179.9 74.4H189.1M184.5 69.8V79.0M182.9 74.0H192.1M187.5 69.4V78.6M185.8 74.0H195.0M190.4 69.4V78.6M188.7 75.0H197.9M193.3 70.4V79.6M191.6 74.6H200.8M196.2 70.0V79.2M194.4 74.7H203.6M199.0 70.1V79.3M197.2 75.3H206.4M201.8 70.7V79.9M200.0 75.2H209.2M204.6 70.6V79.8M202.7 77.7H211.9M207.3 73.1V82.3M205.4 79.3H214.6M210.0 74.7V83.9M208.1 79.9H217.3M212.7 75.3V84.5M210.7 80.4H219.9M215.3 75.8V85.0M213.3 82.2H222.5M217.9 77.6V86.8M215.9 84.6H225.1M220.5 80.0V89.2M218.5 86.1H227.7M223.1 81.5V90.7M221.0 87.7H230.2M225.6 83.1V92.3M223.5 89.3H232.7M228.1 84.7V93.9M225.9 90.3H235.1M230.5 85.7V94.9M228.4 91.7H237.6M233.0 87.1V96.3M230.8 95.7H240.0M235.4 91.1V100.3M233.2 95.7H242.4M237.8 91.1V100.3M235.6 98.2H244.8M240.2 93.6V102.8M237.9 98.5H247.1M242.5 93.9V103.1M240.2 99.9H249.4M244.8 95.3V104.5M242.5 103.1H251.7M247.1 98.5V107.7M244.8 104.7H254.0M249.4 100.1V109.3M247.1 107.0H256.3M251.7 102.4V111.6M249.3 108.0H258.5M253.9 103.4V112.6M251.5 111.7H260.7M256.1 107.1V116.3M253.7 113.4H262.9M258.3 108.8V118.0M255.9 115.1H265.1M260.5 110.5V119.7M258.0 115.7H267.2M262.6 111.1V120.3M260.1 116.8H269.3M264.7 112.2V121.4M262.2 120.7H271.4M266.8 116.1V125.3M264.3 123.8H273.5M268.9 119.2V128.4M266.4 124.7H275.6M271.0 120.1V129.3M268.5 127.5H277.7M273.1 122.9V132.1M270.5 128.3H279.7M275.1 123.7V132.9M272.5 131.7H281.7M277.1 127.1V136.3M274.5 133.2H283.7M279.1 128.6V137.8M276.5 135.1H285.7M281.1 130.5V139.7M278.5 136.7H287.7M283.1 132.1V141.3M280.4 139.3H289.6M285.0 134.7V143.9M282.4 140.2H291.6M287.0 135.6V144.8M284.3 143.2H293.5M288.9 138.6V147.8M286.2 146.8H295.4M290.8 142.2V151.4M288.1 146.5H297.3M292.7 141.9V151.1M289.9 149.5H299.1M294.5 144.9V154.1M291.8 151.8H301.0M296.4 147.2V156.4M293.6 151.9H302.8M298.2 147.3V156.5M295.5 156.1H304.7M300.1 151.5V160.7M297.3 157.2H306.5M301.9 152.6V161.8M299.1 159.9H308.3M303.7 155.3V164.5M300.9 160.0H310.1M305.5 155.4V164.6M302.7 163.5H311.9M307.3 158.9V168.1M304.4 164.9H313.6M309.0 160.3V169.5M306.2 168.4H315.4M310.8 163.8V173.0M307.9 167.6H317.1M312.5 163.0V172.2M309.6 171.9H318.8M314.2 167.3V176.5M311.3 171.9H320.5M315.9 167.3V176.5M313.0 173.5H322.2M317.6 168.9V178.1M314.7 175.3H323.9M319.3 170.7V179.9M316.4 176.5H325.6M321.0 171.9V181.1M318.0 181.4H327.2M322.6 176.8V186.0M319.7 181.7H328.9M324.3 177.1V186.3M321.3 184.0H330.5M325.9 179.4V188.6M322.9 185.8H332.1M327.5 181.2V190.4M324.6 187.0H333.8M329.2 182.4V191.6M326.2 190.2H335.4M330.8 185.6V194.8M327.8 193.2H337.0M332.4 188.6V197.8M329.3 194.4H338.5M333.9 189.8V199.0M330.9 194.5H340.1M335.5 189.9V199.1M332.5 199.7H341.7M337.1 195.1V204.3M334.0 200.1H343.2M338.6 195.5V204.7M335.6 203.3H344.8M340.2 198.7V207.9M337.1 203.7H346.3M341.7 199.1V208.3M338.6 210.5H347.8M343.2 205.9V215.1M340.1 212.4H349.3M344.7 207.8V217.0M341.6 215.5H350.8M346.2 210.9V220.1M343.1 218.3H352.3M347.7 213.7V222.9M344.6 218.5H353.8M349.2 213.9V223.1M346.1 222.5H355.3M350.7 217.9V227.1M347.5 229.2H356.7M352.1 224.6V233.8M349.0 229.2H358.2M353.6 224.6V233.8M350.4 237.7H359.6M355.0 233.1V242.3M351.9 242.7H361.1M356.5 238.1V247.3M353.3 244.6H362.5M357.9 240.0V249.2M354.7 243.5H363.9M359.3 238.9V248.1M356.1 244.3H365.3M360.7 239.7V248.9M357.5 249.2H366.7M362.1 244.6V253.8M358.9 246.8H368.1M363.5 242.2V251.4M360.3 249.0H369.5M364.9 244.4V253.6M361.7 248.8H370.9M366.3 244.2V253.4M363.0 251.5H372.2M367.6 246.9V256.1M364.4 250.9H373.6M369.0 246.3V255.5M365.7 252.5H374.9M370.3 247.9V257.1M367.1 256.2H376.3M371.7 251.6V260.8M368.4 253.5H377.6M373.0 248.9V258.1M369.8 256.5H379.0M374.4 251.9V261.1M371.1 257.1H380.3M375.7 252.5V261.7M372.4 257.6H381.6M377.0 253.0V262.2M373.7 262.3H382.9M378.3 257.7V266.9M375.0 262.2H384.2M379.6 257.6V266.8M376.3 264.7H385.5M380.9 260.1V269.3M377.6 266.1H386.8M382.2 261.5V270.7M378.9 265.5H388.1M383.5 260.9V270.1M380.1 266.7H389.3M384.7 262.1V271.3M381.4 266.4H390.6M386.0 261.8V271.0M382.6 267.5H391.8M387.2 262.9V272.1M383.9 271.0H393.1M388.5 266.4V275.6M385.1 273.6H394.3M389.7 269.0V278.2M386.4 268.8H395.6M391.0 264.2V273.4M387.6 271.2H396.8M392.2 266.6V275.8M388.8 276.1H398.0M393.4 271.5V280.7M390.1 278.7H399.3M394.7 274.1V283.3M391.3 279.0H400.5M395.9 274.4V283.6M392.5 279.1H401.7M397.1 274.5V283.7M393.7 278.8H402.9M398.3 274.2V283.4M394.9 280.3H404.1M399.5 275.7V284.9M396.0 282.3H405.2M400.6 277.7V286.9M397.2 284.7H406.4M401.8 280.1V289.3M398.4 285.1H407.6M403.0 280.5V289.7M399.6 287.2H408.8M404.2 282.6V291.8M400.7 287.6H409.9M405.3 283.0V292.2M401.9 289.1H411.1M406.5 284.5V293.7M403.0 289.1H412.2M407.6 284.5V293.7M404.2 294.6H413.4M408.8 290.0V299.2M405.3 292.5H414.5M409.9 287.9V297.1M406.5 293.3H415.7M411.1 288.7V297.9M407.6 295.8H416.8M412.2 291.2V300.4M408.7 294.7H417.9M413.3 290.1V299.3M409.8 297.4H419.0M414.4 292.8V302.0M411.0 297.5H420.2M415.6 292.9V302.1M412.1 297.5H421.3M416.7 292.9V302.1M413.2 298.3H422.4M417.8 293.7V302.9M414.3 299.8H423.5M418.9 295.2V304.4M415.4 297.0H424.6M420.0 292.4V301.6M416.4 299.8H425.6M421.0 295.2V304.4M417.5 300.3H426.7M422.1 295.7V304.9M418.6 301.4H427.8M423.2 296.8V306.0M419.7 304.2H428.9M424.3 299.6V308.8M420.7 305.7H429.9M425.3 301.1V310.3M421.8 302.8H431.0M426.4 298.2V307.4M422.9 306.6H432.1M427.5 302.0V311.2M423.9 311.0H433.1M428.5 306.4V315.6M425.0 313.2H434.2M429.6 308.6V317.8M426.0 308.3H435.2M430.6 303.7V312.9M427.1 311.3H436.3M431.7 306.7V315.9M428.1 310.4H437.3M432.7 305.8V315.0M429.1 312.3H438.3M433.7 307.7V316.9M430.1 312.6H439.3M434.7 308.0V317.2M431.2 312.7H440.4M435.8 308.1V317.3M432.2 316.2H441.4M436.8 311.6V320.8M433.2 313.6H442.4M437.8 309.0V318.2M434.2 311.5H443.4M438.8 306.9V316.1M435.2 312.9H444.4M439.8 308.3V317.5M436.2 320.4H445.4M440.8 315.8V325.0M437.2 320.0H446.4M441.8 315.4V324.6M438.2 320.6H447.4M442.8 316.0V325.2M439.2 318.2H448.4M443.8 313.6V322.8M440.2 315.6H449.4M444.8 311.0V320.2M441.1 317.8H450.3M445.7 313.2V322.4M442.1 324.7H451.3M446.7 320.1V329.3M443.1 319.8H452.3M447.7 315.2V324.4M444.1 318.1H453.3M448.7 313.5V322.7M445.0 322.7H454.2M449.6 318.1V327.3M446.0 315.8H455.2M450.6 311.2V320.4M446.9 324.5H456.1M451.5 319.9V329.1M447.9 319.0H457.1M452.5 314.4V323.6M448.8 315.5H458.0M453.4 310.9V320.1M449.8 328.1H459.0M454.4 323.5V332.7M450.7 325.4H459.9M455.3 320.8V330.0M451.6 322.7H460.8M456.2 318.1V327.3M452.6 315.1H461.8M457.2 310.5V319.7M453.5 331.9H462.7M458.1 327.3V336.5M454.4 324.1H463.6M459.0 319.5V328.7M455.3 325.5H464.5M459.9 320.9V330.1M456.3 328.5H465.5M460.9 323.9V333.1M457.2 330.5H466.4M461.8 325.9V335.1M458.1 329.8H467.3M462.7 325.2V334.4M459.0 329.5H468.2M463.6 324.9V334.1M459.9 333.6H469.1M464.5 329.0V338.2M460.8 323.2H470.0M465.4 318.6V327.8M461.7 333.9H470.9M466.3 329.3V338.5M462.6 331.7H471.8M467.2 327.1V336.3M463.5 333.1H472.7M468.1 328.5V337.7M464.4 332.6H473.6M469.0 328.0V337.2M465.2 331.0H474.4M469.8 326.4V335.6M466.1 334.9H475.3M470.7 330.3V339.5M467.0 333.3H476.2M471.6 328.7V337.9M467.9 325.7H477.1M472.5 321.1V330.3M468.7 328.9H477.9M473.3 324.3V333.5M469.6 335.0H478.8M474.2 330.4V339.6M470.5 330.5H479.7M475.1 325.9V335.1M471.3 338.1H480.5M475.9 333.5V342.7M472.2 334.3H481.4M476.8 329.7V338.9M473.0 342.0H482.2M477.6 337.4V346.6M473.9 341.3H483.1M478.5 336.7V345.9M474.7 340.6H483.9M479.3 336.0V345.2M475.6 331.8H484.8M480.2 327.2V336.4M476.4 336.7H485.6M481.0 332.1V341.3M477.3 335.8H486.5M481.9 331.2V340.4M478.1 338.0H487.3M482.7 333.4V342.6M478.9 337.5H488.1M483.5 332.9V342.1M479.8 337.8H489.0M484.4 333.2V342.4M480.6 336.6H489.8M485.2 332.0V341.2M481.4 339.9H490.6M486.0 335.3V344.5M482.2 345.5H491.4M486.8 340.9V350.1M483.0 345.4H492.2M487.6 340.8V350.0M483.9 336.3H493.1M488.5 331.7V340.9M484.7 335.7H493.9M489.3 331.1V340.3M485.5 340.3H494.7M490.1 335.7V344.9M486.3 351.5H495.5M490.9 346.9V356.1M487.1 336.1H496.3M491.7 331.5V340.7M487.9 342.6H497.1M492.5 338.0V347.2M488.7 344.8H497.9M493.3 340.2V349.4M489.5 344.6H498.7M494.1 340.0V349.2M490.3 346.9H499.5M494.9 342.3V351.5M491.1 336.4H500.3M495.7 331.8V341.0M491.9 337.0H501.1M496.5 332.4V341.6M492.6 351.3H501.8M497.2 346.7V355.9M493.4 347.1H502.6M498.0 342.5V351.7M494.2 344.8H503.4M498.8 340.2V349.4M495.0 340.0H504.2M499.6 335.4V344.6M495.7 359.7H504.9M500.3 355.1V364.3M496.5 342.3H505.7M501.1 337.7V346.9M497.3 338.6H506.5M501.9 334.0V343.2M498.1 349.5H507.3M502.7 344.9V354.1M498.8 348.3H508.0M503.4 343.7V352.9M499.6 341.6H508.8M504.2 337.0V346.2M500.3 346.6H509.5M504.9 342.0V351.2M501.1 356.2H510.3M505.7 351.6V360.8M501.9 355.6H511.1M506.5 351.0V360.2M502.6 355.1H511.8M507.2 350.5V359.7M503.4 357.6H512.6M508.0 353.0V362.2M504.1 350.0H513.3M508.7 345.4V354.6M504.8 353.1H514.0M509.4 348.5V357.7M505.6 350.3H514.8M510.2 345.7V354.9M506.3 346.7H515.5M510.9 342.1V351.3M507.1 340.8H516.3M511.7 336.2V345.4M507.8 350.1H517.0M512.4 345.5V354.7M508.5 362.3H517.7M513.1 357.7V366.9M509.3 343.9H518.5M513.9 339.3V348.5M510.0 352.9H519.2M514.6 348.3V357.5M510.7 345.8H519.9M515.3 341.2V350.4M511.5 355.5H520.7M516.1 350.9V360.1M512.2 351.4H521.4M516.8 346.8V356.0M513.0 354.3H522.2M517.6 349.7V358.9M513.7 353.9H522.9M518.3 349.3V358.5M514.4 346.5H523.6M519.0 341.9V351.1M515.2 358.3H524.4M519.8 353.7V362.9M515.9 353.8H525.1M520.5 349.2V358.4M516.7 353.7H525.9M521.3 349.1V358.3M517.4 357.8H526.6M522.0 353.2V362.4M518.2 369.1H527.4M522.8 364.5V373.7M519.0 354.0H528.2M523.6 349.4V358.6M519.7 373.8H528.9M524.3 369.2V378.4M520.5 366.0H529.7M525.1 361.4V370.6M521.2 359.9H530.4M525.8 355.3V364.5M522.0 354.8H531.2M526.6 350.2V359.4M522.8 352.4H532.0M527.4 347.8V357.0M523.5 352.9H532.7M528.1 348.3V357.5M524.3 354.7H533.5M528.9 350.1V359.3M525.1 361.1H534.3M529.7 356.5V365.7M525.9 351.4H535.1M530.5 346.8V356.0M526.6 361.0H535.8M531.2 356.4V365.6M527.4 352.4H536.6M532.0 347.8V357.0M528.2 373.9H537.4M532.8 369.3V378.5M529.0 366.0H538.2M533.6 361.4V370.6M529.8 363.8H539.0M534.4 359.2V368.4M530.5 360.4H539.7M535.1 355.8V365.0M531.3 375.9H540.5M535.9 371.3V380.5M532.1 355.6H541.3M536.7 351.0V360.2M532.9 354.7H542.1M537.5 350.1V359.3M533.7 356.2H542.9M538.3 351.6V360.8M534.5 364.8H543.7M539.1 360.2V369.4M535.3 352.3H544.5M539.9 347.7V356.9M536.1 365.5H545.3M540.7 360.9V370.1M536.9 356.3H546.1M541.5 351.7V360.9M537.7 362.8H546.9M542.3 358.2V367.4M538.5 362.8H547.7M543.1 358.2V367.4M539.4 363.9H548.6M544.0 359.3V368.5M540.2 363.3H549.4M544.8 358.7V367.9M541.0 356.1H550.2M545.6 351.5V360.7M541.8 354.2H551.0M546.4 349.6V358.8M542.7 354.5H551.9M547.3 349.9V359.1M543.5 358.1H552.7M548.1 353.5V362.7M544.4 359.9H553.6M549.0 355.3V364.5M545.3 361.6H554.5M549.9 357.0V366.2M546.1 353.2H555.3M550.7 348.6V357.8M547.0 368.0H556.2M551.6 363.4V372.6M547.9 369.8H557.1M552.5 365.2V374.4M548.8 365.7H558.0M553.4 361.1V370.3M549.6 377.6H558.8M554.2 373.0V382.2M550.5 368.6H559.7M555.1 364.0V373.2M551.4 367.9H560.6M556.0 363.3V372.5M552.3 374.8H561.5M556.9 370.2V379.4M553.3 372.3H562.5M557.9 367.7V376.9M554.2 364.2H563.4M558.8 359.6V368.8M555.1 371.0H564.3M559.7 366.4V375.6M556.0 369.4H565.2M560.6 364.8V374.0M557.0 363.4H566.2M561.6 358.8V368.0M557.9 375.1H567.1M562.5 370.5V379.7M558.9 379.2H568.1M563.5 374.6V383.8M559.8 372.2H569.0M564.4 367.6V376.8M560.8 369.6H570.0M565.4 365.0V374.2M561.8 385.4H571.0M566.4 380.8V390.0M562.7 369.0H571.9M567.3 364.4V373.6M563.7 376.2H572.9M568.3 371.6V380.8M564.7 377.5H573.9M569.3 372.9V382.1M565.7 381.2H574.9M570.3 376.6V385.8M566.7 377.2H575.9M571.3 372.6V381.8M567.7 369.9H576.9M572.3 365.3V374.5M568.8 373.6H578.0M573.4 369.0V378.2M569.8 372.3H579.0M574.4 367.7V376.9M570.9 381.1H580.1M575.5 376.5V385.7M572.0 368.2H581.2M576.6 363.6V372.8M573.1 371.0H582.3M577.7 366.4V375.6M574.2 380.7H583.4M578.8 376.1V385.3M575.4 399.6H584.6M580.0 395.0V404.2M576.5 381.6H585.7M581.1 377.0V386.2M577.7 363.5H586.9M582.3 358.9V368.1M578.9 383.9H588.1M583.5 379.3V388.5M580.1 391.5H589.3M584.7 386.9V396.1M581.4 373.0H590.6M586.0 368.4V377.6M582.7 390.2H591.9M587.3 385.6V394.8M583.9 383.1H593.1M588.5 378.5V387.7M585.3 382.0H594.5M589.9 377.4V386.6M586.6 398.7H595.8M591.2 394.1V403.3M587.9 388.4H597.1M592.5 383.8V393.0M589.3 381.9H598.5M593.9 377.3V386.5M590.7 393.8H599.9M595.3 389.2V398.4M592.1 387.9H601.3M596.7 383.3V392.5M593.6 393.9H602.8M598.2 389.3V398.5M595.1 387.5H604.3M599.7 382.9V392.1M596.6 382.7H605.8M601.2 378.1V387.3M598.1 405.1H607.3M602.7 400.5V409.7M599.7 400.4H608.9M604.3 395.8V405.0M601.3 396.7H610.5M605.9 392.1V401.3M603.0 405.4H612.2M607.6 400.8V410.0M604.8 408.2H614.0M609.4 403.6V412.8M606.6 406.0H615.8M611.2 401.4V410.6M608.5 406.9H617.7M613.1 402.3V411.5M610.5 411.1H619.7M615.1 406.5V415.7M612.5 404.8H621.7M617.1 400.2V409.4M614.6 402.3H623.8M619.2 397.7V406.9M616.8 403.7H626.0M621.4 399.1V408.3M619.0 405.2H628.2M623.6 400.6V409.8M621.3 402.4H630.5M625.9 397.8V407.0M623.7 422.6H632.9M628.3 418.0V427.2M626.2 414.4H635.4M630.8 409.8V419.0M628.7 413.3H637.9M633.3 408.7V417.9M631.3 411.9H640.5M635.9 407.3V416.5M634.0 429.3H643.2M638.6 424.7V433.9M636.7 404.1H645.9M641.3 399.5V408.7M639.6 426.4H648.8M644.2 421.8V431.0M642.5 419.1H651.7M647.1 414.5V423.7M645.5 417.4H654.7M650.1 412.8V422.0M648.6 416.8H657.8M653.2 412.2V421.4M651.7 432.4H660.9M656.3 427.8V437.0M655.0 433.5H664.2M659.6 428.9V438.1M658.3 428.7H667.5M662.9 424.1V433.3M661.8 429.3H671.0M666.4 424.7V433.9M665.3 429.1H674.5M669.9 424.5V433.7M669.0 438.9H678.2M673.6 434.3V443.5M672.9 446.3H682.1M677.5 441.7V450.9M676.9 453.8H686.1M681.5 449.2V458.4M681.0 432.9H690.2M685.6 428.3V437.5M392.9 274.7H402.1M397.5 270.1V279.3M309.9 168.3H319.1M314.5 163.7V172.9M655.2 407.9H664.4M659.8 403.3V412.5M415.9 293.8H425.1M420.5 289.2V298.4M641.4 403.2H650.6M646.0 398.6V407.8M523.2 341.4H532.4M527.8 336.8V346.0M692.2 428.2H701.4M696.8 423.6V432.8M697.7 450.0H706.9M702.3 445.4V454.6M703.8 456.3H713.0M708.4 451.7V460.9M710.6 459.0H719.8M715.2 454.4V463.6M717.1 464.4H726.3M721.7 459.8V469.0M725.4 497.0H734.6M730.0 492.4V501.6M735.4 489.8H744.6M740.0 485.2V494.4M746.0 492.5H755.2M750.6 487.9V497.1M758.3 503.4H767.5M762.9 498.8V508.0M774.2 510.6H783.4M778.8 506.0V515.2M797.0 542.4H806.2M801.6 537.8V547.0" stroke="#f00"/>
<path d="M694.3 454.8L699.5 454.8L699.5 458.8L705.3 458.8L705.3 463.5L711.8 463.5L711.8 468.7L718.5 468.7L718.5 473.8L724.4 473.8L724.4 482.5L735.3 482.5L735.3 488.9L746.2 488.9L746.2 496.1L757.0 496.1L757.0 507.9L770.6 507.9L770.6 520.0L790.6 520.0L790.6 539.3L828.6 539.3L828.6 543.3" stroke="#f00" stroke-width="1.8"/>
<path d="M429.8 319.8H439.0M434.4 315.2V324.4M432.5 313.9H441.7M437.1 309.3V318.5M435.2 317.0H444.4M439.8 312.4V321.6M437.9 316.7H447.1M442.5 312.1V321.3M440.6 317.5H449.8M445.2 312.9V322.1M443.3 317.5H452.5M447.9 312.9V322.1M446.1 324.4H455.3M450.7 319.8V329.0M448.8 324.1H458.0M453.4 319.5V328.7M451.5 334.6H460.7M456.1 330.0V339.2M454.3 328.4H463.5M458.9 323.8V333.0M457.0 333.6H466.2M461.6 329.0V338.2M459.8 332.1H469.0M464.4 327.5V336.7M462.5 328.0H471.7M467.1 323.4V332.6M465.3 334.0H474.5M469.9 329.4V338.6M468.1 331.4H477.3M472.7 326.8V336.0M470.8 338.2H480.0M475.4 333.6V342.8M473.6 337.2H482.8M478.2 332.6V341.8M476.4 342.1H485.6M481.0 337.5V346.7M479.2 352.8H488.4M483.8 348.2V357.4M482.0 346.5H491.2M486.6 341.9V351.1M484.8 346.1H494.0M489.4 341.5V350.7M487.6 345.7H496.8M492.2 341.1V350.3M490.4 347.6H499.6M495.0 343.0V352.2M493.2 349.5H502.4M497.8 344.9V354.1M496.1 345.9H505.3M500.7 341.3V350.5M498.9 348.7H508.1M503.5 344.1V353.3M501.7 354.7H510.9M506.3 350.1V359.3M504.6 350.1H513.8M509.2 345.5V354.7M507.4 364.9H516.6M512.0 360.3V369.5M510.2 358.5H519.4M514.8 353.9V363.1M513.1 359.6H522.3M517.7 355.0V364.2M516.0 354.1H525.2M520.6 349.5V358.7M518.8 364.8H528.0M523.4 360.2V369.4M521.7 371.1H530.9M526.3 366.5V375.7M524.6 364.6H533.8M529.2 360.0V369.2M527.4 358.5H536.6M532.0 353.9V363.1M530.3 369.8H539.5M534.9 365.2V374.4M533.2 370.8H542.4M537.8 366.2V375.4M536.1 373.0H545.3M540.7 368.4V377.6M539.1 373.3H548.3M543.7 368.7V377.9M542.2 368.3H551.4M546.8 363.7V372.9M545.4 366.4H554.6M550.0 361.8V371.0M548.9 376.7H558.1M553.5 372.1V381.3M552.5 382.5H561.7M557.1 377.9V387.1M556.3 374.2H565.5M560.9 369.6V378.8M560.3 387.1H569.5M564.9 382.5V391.7M564.5 390.2H573.7M569.1 385.6V394.8M569.1 395.8H578.3M573.7 391.2V400.4M574.3 399.1H583.5M578.9 394.5V403.7M580.6 399.9H589.8M585.2 395.3V404.5M587.8 408.2H597.0M592.4 403.6V412.8M595.5 408.9H604.7M600.1 404.3V413.5M603.2 416.4H612.4M607.8 411.8V421.0M611.2 418.5H620.4M615.8 413.9V423.1M619.2 429.6H628.4M623.8 425.0V434.2M627.4 433.0H636.6M632.0 428.4V437.6M635.8 434.6H645.0M640.4 430.0V439.2M644.3 440.2H653.5M648.9 435.6V444.8M653.0 442.9H662.2M657.6 438.3V447.5M661.7 438.1H670.9M666.3 433.5V442.7M573.1 412.7H582.3M577.7 408.1V417.3M608.4 439.1H617.6M613.0 434.5V443.7M580.4 410.4H589.6M585.0 405.8V415.0" stroke="#80ff00"/>
</g>
<g clip-path="url(#cl)" fill="none" stroke-width="2.0">
<path d="M151.9 669.1V724.3M150.2 696.7H153.6M155.3 613.6V668.8M153.6 641.2H157.0M158.7 658.1V713.3M157.0 685.7H160.4M162.0 645.6V700.8M160.4 673.2H163.7M165.3 642.0V697.2M163.7 669.6H166.9M168.5 656.1V711.3M166.9 683.7H170.1M171.7 669.5V724.7M170.1 697.1H173.3M174.8 627.2V682.4M173.3 654.8H176.4M177.9 633.4V688.6M176.4 661.0H179.5M181.0 682.7V737.9M179.5 710.3H182.5M184.0 591.5V646.7M182.5 619.1H185.5M187.0 620.9V676.1M185.5 648.5H188.5M189.9 658.0V713.2M188.5 685.6H191.4M192.8 622.6V677.8M191.4 650.2H194.3M195.7 652.1V707.3M194.3 679.7H197.1M198.6 643.5V698.7M197.1 671.1H200.0M201.4 625.4V680.6M200.0 653.0H202.7M204.1 669.7V724.9M202.7 697.3H205.5M206.9 630.3V685.5M205.5 657.9H208.2M209.6 612.6V667.8M208.2 640.2H210.9M212.2 614.4V669.6M210.9 642.0H213.6M214.9 649.8V705.0M213.6 677.4H216.2M217.5 623.8V679.0M216.2 651.4H218.8M220.1 679.2V734.4M218.8 706.8H221.3M222.6 647.3V702.5M221.3 674.9H223.9M225.1 634.2V689.4M223.9 661.8H226.4M227.6 673.8V729.0M226.4 701.4H228.9M230.1 646.2V701.4M228.9 673.8H231.3M232.6 606.4V661.6M231.3 634.0H233.8M235.0 591.3V646.5M233.8 618.9H236.2M237.4 627.6V682.8M236.2 655.2H238.6M239.8 626.5V681.7M238.6 654.1H240.9M242.1 666.7V721.9M240.9 694.3H243.3M244.4 672.5V727.7M243.3 700.1H245.6M246.7 677.3V732.5M245.6 704.9H247.9M249.0 633.5V688.7M247.9 661.1H250.1M251.3 628.8V684.0M250.1 656.4H252.4M253.5 660.9V716.1M252.4 688.5H254.6M255.7 674.1V729.3M254.6 701.7H256.8M257.9 640.4V695.6M256.8 668.0H259.0M260.1 639.3V694.5M259.0 666.9H261.2M262.2 649.8V705.0M261.2 677.4H263.3M264.4 618.2V673.4M263.3 645.8H265.4M266.5 650.2V705.4M265.4 677.8H267.5M268.6 650.1V705.3M267.5 677.7H269.6M270.7 674.9V730.1M269.6 702.5H271.7M272.7 646.6V701.8M271.7 674.2H273.7M274.7 618.9V674.1M273.7 646.5H275.8M276.8 649.4V704.6M275.8 677.0H277.8M278.8 649.8V705.0M277.8 677.4H279.8M280.8 641.8V697.0M279.8 669.4H281.8M282.7 646.0V701.2M281.8 673.6H283.7M284.7 640.6V695.8M283.7 668.2H285.7M286.6 640.9V696.1M285.7 668.5H287.6M288.6 639.5V694.7M287.6 667.1H289.5M290.5 673.5V728.7M289.5 701.1H291.4M292.3 648.1V703.3M291.4 675.7H293.3M294.2 693.9V749.1M293.3 721.5H295.2M296.1 649.9V705.1M295.2 677.5H297.0M297.9 686.9V742.1M297.0 714.5H298.9M299.8 659.0V714.2M298.9 686.6H300.7M301.6 646.2V701.4M300.7 673.8H302.5M303.4 667.8V723.0M302.5 695.4H304.3M305.2 655.7V710.9M304.3 683.3H306.1M306.9 697.9V753.1M306.1 725.5H307.8M308.7 679.2V734.4M307.8 706.8H309.6M310.5 642.0V697.2M309.6 669.6H311.3M312.2 686.9V742.1M311.3 714.5H313.1M313.9 643.2V698.4M313.1 670.8H314.8M315.6 693.1V748.3M314.8 720.7H316.5M317.3 681.6V736.8M316.5 709.2H318.2M319.0 686.4V741.6M318.2 714.0H319.9M320.7 659.4V714.6M319.9 687.0H321.5M322.4 646.3V701.5M321.5 673.9H323.2M324.0 685.3V740.5M323.2 712.9H324.8M325.6 662.7V717.9M324.8 690.3H326.5M327.3 616.6V671.8M326.5 644.2H328.1M328.9 662.3V717.5M328.1 689.9H329.7M330.5 671.7V726.9M329.7 699.3H331.3M332.1 638.3V693.5M331.3 665.9H332.9M333.7 649.6V704.8M332.9 677.2H334.5M335.2 658.1V713.3M334.5 685.7H336.0M336.8 682.8V738.0M336.0 710.4H337.6M338.4 616.8V672.0M337.6 644.4H339.1M339.9 651.9V707.1M339.1 679.5H340.7M341.4 640.0V695.2M340.7 667.6H342.2M342.9 670.2V725.4M342.2 697.8H343.7M344.5 616.7V671.9M343.7 644.3H345.2M346.0 637.1V692.3M345.2 664.7H346.7M347.4 639.5V694.7M346.7 667.1H348.2M348.9 676.1V731.3M348.2 703.7H349.7M350.4 671.3V726.5M349.7 698.9H351.1M351.9 668.8V724.0M351.1 696.4H352.6M353.3 669.9V725.1M352.6 697.5H354.0M354.8 687.3V742.5M354.0 714.9H355.5M356.2 692.4V747.6M355.5 720.0H356.9M357.6 693.3V748.5M356.9 720.9H358.3M359.1 696.3V751.5M358.3 723.9H359.8M360.5 696.3V751.5M359.8 723.9H361.2M361.9 659.5V714.7M361.2 687.1H362.6M363.3 672.1V727.3M362.6 699.7H364.0M364.6 714.4V769.6M364.0 742.0H365.3M366.0 668.0V723.2M365.3 695.6H366.7M367.4 637.4V692.6M366.7 665.0H368.1M368.8 670.4V725.6M368.1 698.0H369.4M370.1 709.4V764.6M369.4 737.0H370.8M371.5 666.3V721.5M370.8 693.9H372.1M372.8 643.6V698.8M372.1 671.2H373.5M374.1 657.9V713.1M373.5 685.5H374.8M375.4 673.4V728.6M374.8 701.0H376.1M376.8 616.7V671.9M376.1 644.3H377.4M378.1 615.3V670.5M377.4 642.9H378.7M379.4 664.8V720.0M378.7 692.4H380.0M380.7 642.0V697.2M380.0 669.6H381.3M382.0 652.3V707.5M381.3 679.9H382.6M383.2 642.5V697.7M382.6 670.1H383.9M384.5 625.6V680.8M383.9 653.2H385.1M385.8 641.2V696.4M385.1 668.8H386.4M387.0 659.2V714.4M386.4 686.8H387.7M388.3 677.5V732.7M387.7 705.1H388.9M389.5 681.3V736.5M388.9 708.9H390.1M390.8 661.6V716.8M390.1 689.2H391.4M392.0 632.1V687.3M391.4 659.7H392.6M393.2 653.2V708.4M392.6 680.8H393.8M394.4 659.3V714.5M393.8 686.9H395.0M395.7 654.0V709.2M395.0 681.6H396.3M396.9 659.4V714.6M396.3 687.0H397.5M398.1 646.6V701.8M397.5 674.2H398.7M399.3 687.9V743.1M398.7 715.5H399.9M400.4 708.9V764.1M399.9 736.5H401.0M401.6 670.3V725.5M401.0 697.9H402.2M402.8 688.1V743.3M402.2 715.7H403.4M404.0 619.4V674.6M403.4 647.0H404.6M405.1 663.3V718.5M404.6 690.9H405.7M406.3 665.5V720.7M405.7 693.1H406.9M407.4 697.3V752.5M406.9 724.9H408.0M408.6 651.9V707.1M408.0 679.5H409.2M409.7 674.3V729.5M409.2 701.9H410.3M410.9 630.8V686.0M410.3 658.4H411.4M412.0 637.6V692.8M411.4 665.2H412.6M413.1 677.7V732.9M412.6 705.3H413.7M414.3 648.1V703.3M413.7 675.7H414.8M415.4 722.4V777.6M414.8 750.0H415.9M416.5 674.8V730.0M415.9 702.4H417.0M417.6 626.9V682.1M417.0 654.5H418.1M418.7 638.1V693.3M418.1 665.7H419.2M419.8 653.3V708.5M419.2 680.9H420.3M420.9 658.4V713.6M420.3 686.0H421.4M421.9 693.2V748.4M421.4 720.8H422.5M423.0 692.0V747.2M422.5 719.6H423.6M424.1 653.0V708.2M423.6 680.6H424.6M425.2 615.1V670.3M424.6 642.7H425.7M426.2 713.1V768.3M425.7 740.7H426.8M427.3 643.8V699.0M426.8 671.4H427.8M428.3 644.8V700.0M427.8 672.4H428.9M429.4 636.4V691.6M428.9 664.0H429.9M430.4 681.9V737.1M429.9 709.5H431.0M431.5 673.7V728.9M431.0 701.3H432.0M432.5 659.7V714.9M432.0 687.3H433.0M433.5 686.7V741.9M433.0 714.3H434.1M434.6 692.0V747.2M434.1 719.6H435.1M435.6 683.7V738.9M435.1 711.3H436.1M436.6 663.8V719.0M436.1 691.4H437.1M437.6 653.0V708.2M437.1 680.6H438.1M438.6 663.2V718.4M438.1 690.8H439.1M439.6 660.9V716.1M439.1 688.5H440.1M440.6 680.1V735.3M440.1 707.7H441.1M441.6 681.0V736.2M441.1 708.6H442.1M442.6 635.2V690.4M442.1 662.8H443.1M443.6 664.4V719.6M443.1 692.0H444.1M444.6 665.1V720.3M444.1 692.7H445.1M445.6 639.8V695.0M445.1 667.4H446.1M446.5 632.3V687.5M446.1 659.9H447.0M447.5 631.5V686.7M447.0 659.1H448.0M448.5 653.0V708.2M448.0 680.6H449.0M449.4 664.3V719.5M449.0 691.9H449.9M450.4 655.9V711.1M449.9 683.5H450.9M451.4 658.6V713.8M450.9 686.2H451.8M452.3 628.4V683.6M451.8 656.0H452.8M453.3 655.8V711.0M452.8 683.4H453.7M454.2 647.2V702.4M453.7 674.8H454.7M455.1 663.8V719.0M454.7 691.4H455.6M456.1 629.0V684.2M455.6 656.6H456.5M457.0 714.1V769.3M456.5 741.7H457.5M457.9 653.6V708.8M457.5 681.2H458.4M458.9 644.3V699.5M458.4 671.9H459.3M459.8 691.9V747.1M459.3 719.5H460.2M460.7 609.7V664.9M460.2 637.3H461.2M461.6 666.8V722.0M461.2 694.4H462.1M462.5 667.1V722.3M462.1 694.7H463.0M463.4 689.9V745.1M463.0 717.5H463.9M464.3 641.3V696.5M463.9 668.9H464.8M465.2 657.5V712.7M464.8 685.1H465.7M466.1 677.8V733.0M465.7 705.4H466.6M467.0 657.5V712.7M466.6 685.1H467.5M467.9 646.0V701.2M467.5 673.6H468.4M468.8 632.9V688.1M468.4 660.5H469.2M469.7 657.7V712.9M469.2 685.3H470.1M470.6 687.0V742.2M470.1 714.6H471.0M471.4 676.9V732.1M471.0 704.5H471.9M472.3 720.2V775.4M471.9 747.8H472.8M473.2 681.3V736.5M472.8 708.9H473.6M474.1 644.8V700.0M473.6 672.4H474.5M474.9 651.5V706.7M474.5 679.1H475.3M475.8 665.8V721.0M475.3 693.4H476.2M476.6 671.6V726.8M476.2 699.2H477.1M477.5 623.7V678.9M477.1 651.3H477.9M478.3 656.1V711.3M477.9 683.7H478.8M479.2 640.5V695.7M478.8 668.1H479.6M480.0 653.3V708.5M479.6 680.9H480.5M480.9 679.7V734.9M480.5 707.3H481.3M481.7 624.4V679.6M481.3 652.0H482.1M482.5 693.8V749.0M482.1 721.4H483.0M483.4 692.8V748.0M483.0 720.4H483.8M484.2 673.7V728.9M483.8 701.3H484.6M485.0 681.2V736.4M484.6 708.8H485.4M485.9 676.9V732.1M485.4 704.5H486.3M486.7 678.0V733.2M486.3 705.6H487.1M487.5 638.6V693.8M487.1 666.2H487.9M488.3 661.7V716.9M487.9 689.3H488.7M489.1 654.3V709.5M488.7 681.9H489.5M489.9 702.5V757.7M489.5 730.1H490.3M490.7 684.1V739.3M490.3 711.7H491.1M491.5 636.1V691.3M491.1 663.7H491.9M492.3 693.0V748.2M491.9 720.6H492.7M493.1 633.8V689.0M492.7 661.4H493.5M493.9 688.7V743.9M493.5 716.3H494.3M494.7 655.6V710.8M494.3 683.2H495.1M495.5 684.1V739.3M495.1 711.7H495.9M496.3 658.2V713.4M495.9 685.8H496.7M497.1 685.4V740.6M496.7 713.0H497.5M497.9 669.5V724.7M497.5 697.1H498.3M498.7 621.5V676.7M498.3 649.1H499.1M499.4 672.4V727.6M499.1 700.0H499.8M500.2 612.5V667.7M499.8 640.1H500.6M501.0 674.5V729.7M500.6 702.1H501.4M501.8 692.3V747.5M501.4 719.9H502.1M502.5 661.2V716.4M502.1 688.8H502.9M503.3 673.2V728.4M502.9 700.8H503.7M504.0 619.4V674.6M503.7 647.0H504.4M504.8 641.7V696.9M504.4 669.3H505.2M505.6 633.7V688.9M505.2 661.3H505.9M506.3 647.4V702.6M505.9 675.0H506.7M507.1 601.7V656.9M506.7 629.3H507.4M507.8 643.3V698.5M507.4 670.9H508.2M508.6 649.9V705.1M508.2 677.5H508.9M509.3 683.7V738.9M508.9 711.3H509.7M510.1 685.7V740.9M509.7 713.3H510.4M510.8 658.5V713.7M510.4 686.1H511.2M511.5 638.3V693.5M511.2 665.9H511.9M512.3 635.3V690.5M511.9 662.9H512.6M513.0 686.5V741.7M512.6 714.1H513.4M513.7 649.9V705.1M513.4 677.5H514.1M514.5 658.3V713.5M514.1 685.9H514.8M515.2 690.9V746.1M514.8 718.5H515.6M515.9 650.4V705.6M515.6 678.0H516.3M516.7 719.5V774.7M516.3 747.1H517.1M517.4 656.5V711.7M517.1 684.1H517.8M518.2 601.7V656.9M517.8 629.3H518.5M518.9 688.4V743.6M518.5 716.0H519.3M519.7 662.6V717.8M519.3 690.2H520.0M520.4 710.1V765.3M520.0 737.7H520.8M521.2 681.8V737.0M520.8 709.4H521.5M521.9 644.3V699.5M521.5 671.9H522.3M522.7 689.0V744.2M522.3 716.6H523.0M523.4 663.9V719.1M523.0 691.5H523.8M524.2 671.9V727.1M523.8 699.5H524.6M524.9 672.5V727.7M524.6 700.1H525.3M525.7 658.3V713.5M525.3 685.9H526.1M526.5 651.0V706.2M526.1 678.6H526.9M527.2 632.5V687.7M526.9 660.1H527.6M528.0 642.4V697.6M527.6 670.0H528.4M528.8 677.1V732.3M528.4 704.7H529.2M529.6 627.9V683.1M529.2 655.5H529.9M530.3 632.1V687.3M529.9 659.7H530.7M531.1 701.8V757.0M530.7 729.4H531.5M531.9 646.6V701.8M531.5 674.2H532.3M532.7 642.6V697.8M532.3 670.2H533.0M533.4 639.1V694.3M533.0 666.7H533.8M534.2 649.5V704.7M533.8 677.1H534.6M535.0 695.3V750.5M534.6 722.9H535.4M535.8 669.7V724.9M535.4 697.3H536.2M536.6 714.5V769.7M536.2 742.1H537.0M537.4 667.0V722.2M537.0 694.6H537.8M538.2 612.7V667.9M537.8 640.3H538.6M539.0 646.1V701.3M538.6 673.7H539.4M539.8 642.3V697.5M539.4 669.9H540.2M540.6 675.8V731.0M540.2 703.4H541.0M541.4 688.3V743.5M541.0 715.9H541.8M542.2 689.7V744.9M541.8 717.3H542.6M543.0 660.0V715.2M542.6 687.6H543.4M543.8 683.0V738.2M543.4 710.6H544.2M544.6 678.9V734.1M544.2 706.5H545.0M545.5 634.7V689.9M545.0 662.3H545.9M546.3 703.8V759.0M545.9 731.4H546.7M547.1 695.7V750.9M546.7 723.3H547.6M548.0 675.8V731.0M547.6 703.4H548.4M548.8 665.6V720.8M548.4 693.2H549.3M549.7 666.3V721.5M549.3 693.9H550.1M550.6 697.8V753.0M550.1 725.4H551.0M551.4 658.3V713.5M551.0 685.9H551.9M552.3 666.3V721.5M551.9 693.9H552.8M553.2 654.3V709.5M552.8 681.9H553.6M554.1 690.0V745.2M553.6 717.6H554.5M555.0 657.0V712.2M554.5 684.6H555.4M555.9 657.6V712.8M555.4 685.2H556.3M556.8 679.5V734.7M556.3 707.1H557.2M557.7 668.5V723.7M557.2 696.1H558.2M558.6 676.9V732.1M558.2 704.5H559.1M559.5 629.4V684.6M559.1 657.0H560.0M560.5 722.4V777.6M560.0 750.0H560.9M561.4 699.0V754.2M560.9 726.6H561.9M562.3 705.5V760.7M561.9 733.1H562.8M563.3 672.5V727.7M562.8 700.1H563.8M564.3 679.9V735.1M563.8 707.5H564.7M565.2 673.3V728.5M564.7 700.9H565.7M566.2 645.2V700.4M565.7 672.8H566.7M567.2 703.6V758.8M566.7 731.2H567.6M568.1 684.1V739.3M567.6 711.7H568.6M569.1 668.6V723.8M568.6 696.2H569.6M570.1 692.9V748.1M569.6 720.5H570.6M571.1 653.9V709.1M570.6 681.5H571.6M572.1 654.9V710.1M571.6 682.5H572.7M573.2 680.7V735.9M572.7 708.3H573.7M574.2 707.1V762.3M573.7 734.7H574.8M575.3 623.3V678.5M574.8 650.9H575.8M576.4 651.4V706.6M575.8 679.0H576.9M577.5 652.6V707.8M576.9 680.2H578.1M578.6 661.3V716.5M578.1 688.9H579.2M579.8 663.3V718.5M579.2 690.9H580.3M580.9 642.4V697.6M580.3 670.0H581.5M582.1 663.5V718.7M581.5 691.1H582.7M583.3 678.8V734.0M582.7 706.4H583.9M584.5 645.5V700.7M583.9 673.1H585.2M585.8 661.6V716.8M585.2 689.2H586.4M587.0 682.3V737.5M586.4 709.9H587.7M588.3 685.6V740.8M587.7 713.2H589.0M589.6 634.1V689.3M589.0 661.7H590.3M591.0 647.4V702.6M590.3 675.0H591.6M592.3 614.0V669.2M591.6 641.6H593.0M593.7 676.2V731.4M593.0 703.8H594.4M595.1 681.5V736.7M594.4 709.1H595.8M596.5 653.0V708.2M595.8 680.6H597.2M597.9 628.8V684.0M597.2 656.4H598.7M599.4 648.3V703.5M598.7 675.9H600.1M600.9 652.3V707.5M600.1 679.9H601.6M602.4 615.9V671.1M601.6 643.5H603.2M604.0 680.9V736.1M603.2 708.5H604.8M605.6 693.1V748.3M604.8 720.7H606.5M607.3 680.2V735.4M606.5 707.8H608.2M609.1 669.3V724.5M608.2 696.9H610.0M610.9 651.7V706.9M610.0 679.3H611.8M612.8 635.2V690.4M611.8 662.8H613.8M614.7 650.2V705.4M613.8 677.8H615.7M616.8 622.0V677.2M615.7 649.6H617.8M618.9 680.0V735.2M617.8 707.6H619.9M621.0 611.6V666.8M619.9 639.2H622.1M623.2 678.7V733.9M622.1 706.3H624.4M625.5 629.0V684.2M624.4 656.6H626.7M627.9 680.8V736.0M626.7 708.4H629.1M630.3 648.5V703.7M629.1 676.1H631.6M632.9 655.3V710.5M631.6 682.9H634.1M635.4 643.2V698.4M634.1 670.8H636.7M638.1 636.8V692.0M636.7 664.4H639.5M640.8 660.2V715.4M639.5 687.8H642.2M643.7 656.5V711.7M642.2 684.1H645.1M646.6 648.9V704.1M645.1 676.5H648.0M649.6 687.2V742.4M648.0 714.8H651.1M652.6 673.0V728.2M651.1 700.6H654.2M655.8 695.2V750.4M654.2 722.8H657.4M659.0 654.7V709.9M657.4 682.3H660.7M662.3 599.6V654.8M660.7 627.2H664.0M665.8 636.4V691.6M664.0 664.0H667.5M669.3 676.3V731.5M667.5 703.9H671.1M673.0 672.4V727.6M671.1 700.0H674.9M676.8 630.6V685.8M674.9 658.2H678.7M680.8 666.6V721.8M678.7 694.2H682.8M684.9 694.8V750.0M682.8 722.4H687.0M689.1 680.2V735.4M687.0 707.8H691.2M150.3 574.8V630.0M168.4 583.0V638.2M166.4 610.6H170.4M372.9 577.5V632.7M371.9 605.1H373.9M309.0 729.3V784.5M308.0 756.9H310.0M352.0 733.5V788.7M351.0 761.1H353.0M501.5 748.6V803.8M500.5 776.2H502.5M635.0 588.6V643.8M633.0 616.2H637.0M347.0 721.0V776.2M346.0 748.6H348.0M358.5 718.3V773.5M357.5 745.9H359.5M426.6 718.3V773.5M426.0 745.9H427.2M470.0 718.3V773.5M469.5 745.9H470.5M482.0 722.4V777.6M481.5 750.0H482.5M690.0 611.4V666.6M687.5 639.0H692.5M696.0 651.4V706.6M693.5 679.0H698.5M700.8 651.4V706.6M698.3 679.0H703.3M706.6 690.4V745.6M703.6 718.0H709.6M713.0 668.4V723.6M710.0 696.0H716.0M720.0 674.1V729.3M716.7 701.7H723.3M727.2 613.2V668.4M723.7 640.8H730.7M734.9 693.2V748.4M730.9 720.8H738.9M743.8 632.6V687.8M739.3 660.2H748.3M753.0 631.7V686.9M748.3 659.3H757.7M765.6 626.4V681.6M759.1 654.0H772.1M782.2 672.3V727.5M772.7 699.9H791.7M814.5 673.5V728.7M791.4 701.1H836.0M874.4 650.4V705.6M835.0 678.0H907.6" stroke="#000"/>
<path d="M152.5 704.2V759.4M150.8 731.8H154.2M155.9 703.5V758.7M154.2 731.1H157.6M159.3 668.1V723.3M157.6 695.7H161.0M162.6 680.6V735.8M161.0 708.2H164.2M165.9 713.2V768.4M164.2 740.8H167.5M169.1 693.3V748.5M167.5 720.9H170.7M172.3 705.8V761.0M170.7 733.4H173.8M175.4 707.3V762.5M173.8 734.9H176.9M178.5 713.5V768.7M176.9 741.1H180.0M181.5 644.5V699.7M180.0 672.1H183.0M184.5 688.0V743.2M183.0 715.6H186.0M187.5 669.1V724.3M186.0 696.7H189.0M190.4 662.8V718.0M189.0 690.4H191.9M193.3 689.5V744.7M191.9 717.1H194.8M196.2 669.7V724.9M194.8 697.3H197.6M199.0 669.5V724.7M197.6 697.1H200.4M201.8 676.1V731.3M200.4 703.7H203.2M204.6 633.3V688.5M203.2 660.9H206.0M207.3 673.4V728.6M206.0 701.0H208.7M210.0 683.8V739.0M208.7 711.4H211.4M212.7 664.1V719.3M211.4 691.7H214.0M215.3 638.8V694.0M214.0 666.4H216.6M217.9 655.2V710.4M216.6 682.8H219.2M220.5 686.7V741.9M219.2 714.3H221.8M223.1 694.4V749.6M221.8 722.0H224.3M225.6 695.4V750.6M224.3 723.0H226.8M228.1 688.9V744.1M226.8 716.5H229.3M230.5 665.2V720.4M229.3 692.8H231.8M233.0 654.4V709.6M231.8 682.0H234.2M235.4 722.4V777.6M234.2 750.0H236.6M237.8 672.3V727.5M236.6 699.9H239.0M240.2 696.0V751.2M239.0 723.6H241.3M242.5 655.5V710.7M241.3 683.1H243.7M244.8 649.6V704.8M243.7 677.2H246.0M247.1 687.1V742.3M246.0 714.7H248.3M249.4 679.2V734.4M248.3 706.8H250.5M251.7 690.0V745.2M250.5 717.6H252.8M253.9 659.0V714.2M252.8 686.6H255.0M256.1 703.9V759.1M255.0 731.5H257.2M258.3 692.3V747.5M257.2 719.9H259.4M260.5 681.7V736.9M259.4 709.3H261.5M262.6 637.3V692.5M261.5 664.9H263.7M264.7 609.5V664.7M263.7 637.1H265.8M266.8 663.8V719.0M265.8 691.4H267.9M268.9 692.1V747.3M267.9 719.7H270.0M271.0 661.4V716.6M270.0 689.0H272.0M273.1 682.7V737.9M272.0 710.3H274.1M275.1 651.2V706.4M274.1 678.8H276.1M277.1 687.4V742.6M276.1 715.0H278.1M279.1 669.5V724.7M278.1 697.1H280.1M281.1 660.6V715.8M280.1 688.2H282.1M283.1 647.5V702.7M282.1 675.1H284.1M285.0 661.0V716.2M284.1 688.6H286.0M287.0 628.8V684.0M286.0 656.4H287.9M288.9 655.2V710.4M287.9 682.8H289.8M290.8 700.6V755.8M289.8 728.2H291.7M292.7 635.1V690.3M291.7 662.7H293.6M294.5 663.5V718.7M293.6 691.1H295.5M296.4 672.0V727.2M295.5 699.6H297.3M298.2 619.4V674.6M297.3 647.0H299.2M300.1 678.9V734.1M299.2 706.5H301.0M301.9 652.9V708.1M301.0 680.5H302.8M303.7 671.5V726.7M302.8 699.1H304.6M305.5 621.4V676.6M304.6 649.0H306.4M307.3 662.5V717.7M306.4 690.1H308.1M309.0 647.7V702.9M308.1 675.3H309.9M310.8 687.0V742.2M309.9 714.6H311.6M312.5 618.0V673.2M311.6 645.6H313.4M314.2 678.7V733.9M313.4 706.3H315.1M315.9 630.0V685.2M315.1 657.6H316.8M317.6 624.7V679.9M316.8 652.3H318.5M319.3 621.4V676.6M318.5 649.0H320.1M321.0 606.6V661.8M320.1 634.2H321.8M322.6 679.4V734.6M321.8 707.0H323.5M324.3 639.7V694.9M323.5 667.3H325.1M325.9 644.8V700.0M325.1 672.4H326.7M327.5 635.7V690.9M326.7 663.3H328.4M329.2 616.0V671.2M328.4 643.6H330.0M330.8 637.0V692.2M330.0 664.6H331.6M332.4 655.9V711.1M331.6 683.5H333.2M333.9 633.8V689.0M333.2 661.4H334.7M335.5 591.3V646.5M334.7 618.9H336.3M337.1 654.2V709.4M336.3 681.8H337.8M338.6 621.7V676.9M337.8 649.3H339.4M340.2 648.6V703.8M339.4 676.2H340.9M341.7 598.8V654.0M340.9 626.4H342.4M343.2 670.9V726.1M342.4 698.5H344.0M344.7 643.4V698.6M344.0 671.0H345.5M346.2 644.5V699.7M345.5 672.1H347.0M347.7 646.6V701.8M347.0 674.2H348.4M349.2 600.0V655.2M348.4 627.6H349.9M350.7 629.1V684.3M349.9 656.7H351.4M352.1 700.6V755.8M351.4 728.2H352.9M353.6 624.9V680.1M352.9 652.5H354.3M355.0 707.0V762.2M354.3 734.6H355.7M356.5 719.0V774.2M355.7 746.6H357.2M357.9 702.9V758.1M357.2 730.5H358.6M359.3 654.0V709.2M358.6 681.6H360.0M360.7 640.5V695.7M360.0 668.1H361.4M362.1 705.3V760.5M361.4 732.9H362.8M363.5 637.5V692.7M362.8 665.1H364.2M364.9 654.1V709.3M364.2 681.7H365.6M366.3 629.5V684.7M365.6 657.1H366.9M367.6 656.4V711.6M366.9 684.0H368.3M369.0 624.5V679.7M368.3 652.1H369.7M370.3 632.8V688.0M369.7 660.4H371.0M371.7 676.0V731.2M371.0 703.6H372.4M373.0 611.0V666.2M372.4 638.6H373.7M374.4 641.7V696.9M373.7 669.3H375.0M375.7 628.8V684.0M375.0 656.4H376.3M377.0 615.6V670.8M376.3 643.2H377.6M378.3 671.2V726.4M377.6 698.8H378.9M379.6 649.1V704.3M378.9 676.7H380.2M380.9 667.5V722.7M380.2 695.1H381.5M382.2 670.5V725.7M381.5 698.1H382.8M383.5 640.5V695.7M382.8 668.1H384.1M384.7 638.7V693.9M384.1 666.3H385.4M386.0 614.1V669.3M385.4 641.7H386.6M387.2 612.7V667.9M386.6 640.3H387.9M388.5 647.7V702.9M387.9 675.3H389.1M389.7 668.0V723.2M389.1 695.6H390.4M391.0 591.3V646.5M390.4 618.9H391.6M392.2 593.9V649.1M391.6 621.5H392.8M393.4 649.9V705.1M392.8 677.5H394.0M394.7 670.4V725.6M394.0 698.0H395.3M395.9 657.8V713.0M395.3 685.4H396.5M397.1 640.3V695.5M396.5 667.9H397.7M398.3 619.2V674.4M397.7 646.8H398.9M399.5 623.3V678.5M398.9 650.9H400.1M400.6 636.6V691.8M400.1 664.2H401.2M401.8 653.5V708.7M401.2 681.1H402.4M403.0 643.2V698.4M402.4 670.8H403.6M404.2 655.2V710.4M403.6 682.8H404.8M405.3 645.7V700.9M404.8 673.3H405.9M406.5 650.1V705.3M405.9 677.7H407.1M407.6 634.5V689.7M407.1 662.1H408.2M408.8 694.3V749.5M408.2 721.9H409.4M409.9 656.1V711.3M409.4 683.7H410.5M411.1 654.8V710.0M410.5 682.4H411.6M412.2 675.7V730.9M411.6 703.3H412.8M413.3 651.9V707.1M412.8 679.5H413.9M414.4 673.8V729.0M413.9 701.4H415.0M415.6 664.1V719.3M415.0 691.7H416.1M416.7 654.9V710.1M416.1 682.5H417.2M417.8 654.0V709.2M417.2 681.6H418.3M418.9 662.0V717.2M418.3 689.6H419.4M420.0 620.3V675.5M419.4 647.9H420.5M421.0 642.7V697.9M420.5 670.3H421.6M422.1 639.7V694.9M421.6 667.3H422.7M423.2 642.0V697.2M422.7 669.6H423.7M424.3 664.4V719.6M423.7 692.0H424.8M425.3 669.7V724.9M424.8 697.3H425.9M426.4 627.0V682.2M425.9 654.6H426.9M427.5 656.6V711.8M426.9 684.2H428.0M428.5 691.9V747.1M428.0 719.5H429.0M429.6 702.5V757.7M429.0 730.1H430.1M430.6 642.4V697.6M430.1 670.0H431.1M431.7 666.2V721.4M431.1 693.8H432.2M432.7 649.6V704.8M432.2 677.2H433.2M433.7 661.5V716.7M433.2 689.1H434.2M434.7 658.1V713.3M434.2 685.7H435.3M435.8 652.2V707.4M435.3 679.8H436.3M436.8 678.9V734.1M436.3 706.5H437.3M437.8 648.4V703.6M437.3 676.0H438.3M438.8 623.5V678.7M438.3 651.1H439.3M439.8 630.7V685.9M439.3 658.3H440.3M440.8 691.2V746.4M440.3 718.8H441.3M441.8 681.3V736.5M441.3 708.9H442.3M442.8 681.1V736.3M442.3 708.7H443.3M443.8 654.2V709.4M443.3 681.8H444.3M444.8 626.8V682.0M444.3 654.4H445.3M445.7 640.0V695.2M445.3 667.6H446.2M446.7 691.6V746.8M446.2 719.2H447.2M447.7 646.7V701.9M447.2 674.3H448.2M448.7 628.0V683.2M448.2 655.6H449.1M449.6 659.2V714.4M449.1 686.8H450.1M450.6 600.8V656.0M450.1 628.4H451.1M451.5 664.3V719.5M451.1 691.9H452.0M452.5 619.0V674.2M452.0 646.6H453.0M453.4 591.3V646.5M453.0 618.9H453.9M454.4 679.8V735.0M453.9 707.4H454.8M455.3 656.1V711.3M454.8 683.7H455.8M456.2 633.8V689.0M455.8 661.4H456.7M457.2 591.3V646.5M456.7 618.9H457.6M458.1 692.5V747.7M457.6 720.1H458.6M459.0 634.1V689.3M458.6 661.7H459.5M459.9 641.1V696.3M459.5 668.7H460.4M460.9 658.6V713.8M460.4 686.2H461.3M461.8 668.9V724.1M461.3 696.5H462.2M462.7 661.2V716.4M462.2 688.8H463.1M463.6 655.7V710.9M463.1 683.3H464.0M464.5 679.7V734.9M464.0 707.3H464.9M465.4 609.0V664.2M464.9 636.6H465.8M466.3 675.7V730.9M465.8 703.3H466.7M467.2 658.8V714.0M466.7 686.4H467.6M468.1 664.6V719.8M467.6 692.2H468.5M469.0 658.5V713.7M468.5 686.1H469.4M469.8 645.9V701.1M469.4 673.5H470.3M470.7 667.0V722.2M470.3 694.6H471.2M471.6 654.1V709.3M471.2 681.7H472.0M472.5 605.4V660.6M472.0 633.0H472.9M473.3 622.0V677.2M472.9 649.6H473.8M474.2 655.4V710.6M473.8 683.0H474.6M475.1 625.7V680.9M474.6 653.3H475.5M475.9 667.4V722.6M475.5 695.0H476.4M476.8 642.7V697.9M476.4 670.3H477.2M477.6 683.8V739.0M477.2 711.4H478.1M478.5 676.7V731.9M478.1 704.3H478.9M479.3 669.8V725.0M478.9 697.4H479.8M480.2 617.6V672.8M479.8 645.2H480.6M481.0 642.6V697.8M480.6 670.2H481.4M481.9 634.7V689.9M481.4 662.3H482.3M482.7 644.6V699.8M482.3 672.2H483.1M483.5 639.2V694.4M483.1 666.8H483.9M484.4 637.9V693.1M483.9 665.5H484.8M485.2 629.3V684.5M484.8 656.9H485.6M486.0 644.3V699.5M485.6 671.9H486.4M486.8 671.1V726.3M486.4 698.7H487.2M487.6 668.0V723.2M487.2 695.6H488.0M488.5 618.2V673.4M488.0 645.8H488.9M489.3 613.3V668.5M488.9 640.9H489.7M490.1 634.5V689.7M489.7 662.1H490.5M490.9 689.3V744.5M490.5 716.9H491.3M491.7 609.3V664.5M491.3 636.9H492.1M492.5 640.4V695.6M492.1 668.0H492.9M493.3 650.3V705.5M492.9 677.9H493.7M494.1 647.9V703.1M493.7 675.5H494.5M494.9 657.7V712.9M494.5 685.3H495.3M495.7 604.8V660.0M495.3 632.4H496.1M496.5 606.6V661.8M496.1 634.2H496.8M497.2 674.9V730.1M496.8 702.5H497.6M498.0 653.2V708.4M497.6 680.8H498.4M498.8 640.9V696.1M498.4 668.5H499.2M499.6 616.8V672.0M499.2 644.4H500.0M500.3 708.8V764.0M500.0 736.4H500.7M501.1 625.4V680.6M500.7 653.0H501.5M501.9 607.1V662.3M501.5 634.7H502.3M502.7 656.8V712.0M502.3 684.4H503.0M503.4 649.8V705.0M503.0 677.4H503.8M504.2 617.6V672.8M503.8 645.2H504.6M504.9 639.4V694.6M504.6 667.0H505.3M505.7 682.0V737.2M505.3 709.6H506.1M506.5 677.9V733.1M506.1 705.5H506.8M507.2 674.5V729.7M506.8 702.1H507.6M508.0 684.1V739.3M507.6 711.7H508.3M508.7 649.0V704.2M508.3 676.6H509.1M509.4 661.8V717.0M509.1 689.4H509.8M510.2 647.9V703.1M509.8 675.5H510.6M510.9 631.3V686.5M510.6 658.9H511.3M511.7 604.5V659.7M511.3 632.1H512.0M512.4 643.5V698.7M512.0 671.1H512.8M513.1 695.3V750.5M512.8 722.9H513.5M513.9 614.3V669.5M513.5 641.9H514.2M514.6 651.9V707.1M514.2 679.5H515.0M515.3 620.0V675.2M515.0 647.6H515.7M516.1 660.2V715.4M515.7 687.8H516.4M516.8 641.4V696.6M516.4 669.0H517.2M517.6 652.4V707.6M517.2 680.0H517.9M518.3 649.7V704.9M517.9 677.3H518.7M519.0 617.3V672.5M518.7 644.9H519.4M519.8 665.3V720.5M519.4 692.9H520.2M520.5 645.0V700.2M520.2 672.6H520.9M521.3 643.6V698.8M520.9 671.2H521.7M522.0 658.7V713.9M521.7 686.3H522.4M522.8 703.8V759.0M522.4 731.4H523.2M523.6 640.4V695.6M523.2 668.0H523.9M524.3 719.7V774.9M523.9 747.3H524.7M525.1 686.5V741.7M524.7 714.1H525.5M525.8 660.5V715.7M525.5 688.1H526.2M526.6 638.4V693.6M526.2 666.0H527.0M527.4 627.7V682.9M527.0 655.3H527.8M528.1 628.5V683.7M527.8 656.1H528.5M528.9 634.3V689.5M528.5 661.9H529.3M529.7 658.2V713.4M529.3 685.8H530.1M530.5 618.9V674.1M530.1 646.5H530.8M531.2 655.8V711.0M530.8 683.4H531.6M532.0 621.2V676.4M531.6 648.8H532.4M532.8 704.8V760.0M532.4 732.4H533.2M533.6 672.9V728.1M533.2 700.5H534.0M534.4 663.5V718.7M534.0 691.1H534.8M535.1 649.2V704.4M534.8 676.8H535.5M535.9 708.7V763.9M535.5 736.3H536.3M536.7 628.9V684.1M536.3 656.5H537.1M537.5 624.5V679.7M537.1 652.1H537.9M538.3 629.6V684.8M537.9 657.2H538.7M539.1 662.0V717.2M538.7 689.6H539.5M539.9 613.0V668.2M539.5 640.6H540.3M540.7 662.8V718.0M540.3 690.4H541.1M541.5 626.6V681.8M541.1 654.2H541.9M542.3 650.7V705.9M541.9 678.3H542.7M543.1 649.7V704.9M542.7 677.3H543.5M544.0 653.1V708.3M543.5 680.7H544.4M544.8 649.7V704.9M544.4 677.3H545.2M545.6 621.6V676.8M545.2 649.2H546.0M546.4 613.4V668.6M546.0 641.0H546.9M547.3 613.7V668.9M546.9 641.3H547.7M548.1 626.6V681.8M547.7 654.2H548.6M549.0 632.6V687.8M548.6 660.2H549.4M549.9 638.0V693.2M549.4 665.6H550.3M550.7 605.5V660.7M550.3 633.1H551.2M551.6 660.2V715.4M551.2 687.8H552.0M552.5 665.0V720.2M552.0 692.6H552.9M553.4 648.1V703.3M552.9 675.7H553.8M554.2 690.8V746.0M553.8 718.4H554.7M555.1 655.2V710.4M554.7 682.8H555.6M556.0 650.8V706.0M555.6 678.4H556.5M556.9 674.9V730.1M556.5 702.5H557.4M557.9 663.7V718.9M557.4 691.3H558.3M558.8 632.0V687.2M558.3 659.6H559.2M559.7 655.1V710.3M559.2 682.7H560.2M560.6 647.5V702.7M560.2 675.1H561.1M561.6 623.6V678.8M561.1 651.2H562.0M562.5 664.6V719.8M562.0 692.2H563.0M563.5 677.8V733.0M563.0 705.4H563.9M564.4 650.4V705.6M563.9 678.0H564.9M565.4 638.8V694.0M564.9 666.4H565.9M566.4 694.5V749.7M565.9 722.1H566.8M567.3 633.1V688.3M566.8 660.7H567.8M568.3 657.2V712.4M567.8 684.8H568.8M569.3 659.7V714.9M568.8 687.3H569.8M570.3 670.8V726.0M569.8 698.4H570.8M571.3 654.0V709.2M570.8 681.6H571.8M572.3 625.4V680.6M571.8 653.0H572.8M573.4 636.3V691.5M572.8 663.9H573.9M574.4 629.3V684.5M573.9 656.9H574.9M575.5 658.5V713.7M574.9 686.1H576.0M576.6 609.8V665.0M576.0 637.4H577.1M577.7 617.7V672.9M577.1 645.3H578.3M578.8 649.8V705.0M578.3 677.4H579.4M580.0 714.7V769.9M579.4 742.3H580.5M581.1 647.9V703.1M580.5 675.5H581.7M582.3 591.3V646.5M581.7 618.9H582.9M583.5 650.7V705.9M582.9 678.3H584.1M584.7 674.7V729.9M584.1 702.3H585.4M586.0 607.0V662.2M585.4 634.6H586.6M587.3 664.7V719.9M586.6 692.3H587.9M588.5 637.1V692.3M587.9 664.7H589.2M589.9 630.3V685.5M589.2 657.9H590.5M591.2 686.0V741.2M590.5 713.6H591.9M592.5 646.2V701.4M591.9 673.8H593.2M593.9 619.7V674.9M593.2 647.3H594.6M595.3 657.5V712.7M594.6 685.1H596.0M596.7 633.1V688.3M596.0 660.7H597.5M598.2 649.9V705.1M597.5 677.5H598.9M599.7 623.8V679.0M598.9 651.4H600.4M601.2 603.4V658.6M600.4 631.0H601.9M602.7 676.6V731.8M601.9 704.2H603.5M604.3 656.4V711.6M603.5 684.0H605.1M605.9 639.4V694.6M605.1 667.0H606.8M607.6 664.9V720.1M606.8 692.5H608.5M609.4 669.6V724.8M608.5 697.2H610.3M611.2 657.7V712.9M610.3 685.3H612.2M613.1 655.7V710.9M612.2 683.3H614.1M615.1 665.2V720.4M614.1 692.8H616.1M617.1 640.7V695.9M616.1 668.3H618.2M619.2 628.7V683.9M618.2 656.3H620.3M621.4 630.1V685.3M620.3 657.7H622.5M623.6 631.7V686.9M622.5 659.3H624.8M625.9 618.9V674.1M624.8 646.5H627.1M628.3 682.4V737.6M627.1 710.0H629.5M630.8 651.3V706.5M629.5 678.9H632.0M633.3 643.6V698.8M632.0 671.2H634.6M635.9 635.2V690.4M634.6 662.8H637.2M638.6 688.3V743.5M637.2 715.9H639.9M641.3 601.3V656.5M639.9 628.9H642.7M644.2 670.1V725.3M642.7 697.7H645.6M647.1 641.3V696.5M645.6 668.9H648.6M650.1 629.5V684.7M648.6 657.1H651.6M653.2 620.7V675.9M651.6 648.3H654.7M656.3 664.7V719.9M654.7 692.3H657.9M659.6 661.0V716.2M657.9 688.6H661.2M662.9 638.2V693.4M661.2 665.8H664.6M666.4 632.7V687.9M664.6 660.3H668.1M669.9 624.5V679.7M668.1 652.1H671.7M673.6 648.5V703.7M671.7 676.1H675.5M677.5 664.2V719.4M675.5 691.8H679.4M681.5 680.0V735.2M679.4 707.6H683.5M685.6 603.3V658.5M683.5 630.9H687.6M397.5 555.4V610.6M396.5 583.0H398.5M314.5 580.3V635.5M313.5 607.9H315.5M659.8 577.5V632.7M657.3 605.1H662.3M420.5 578.9V634.1M419.5 606.5H421.5M646.0 591.3V646.5M644.0 618.9H648.0M527.8 583.0V638.2M527.3 610.6H528.3M696.8 568.0V623.2M694.3 595.6H699.3M702.3 638.7V693.9M699.8 666.3H704.8M708.4 628.6V683.8M705.4 656.2H711.4M715.2 638.4V693.6M712.2 666.0H718.2M721.7 628.6V683.8M718.4 656.2H725.0M730.0 701.2V756.4M726.0 728.8H734.0M740.0 653.2V708.4M735.5 680.8H744.5M750.6 640.0V695.2M745.6 667.6H755.6M762.9 641.5V696.7M756.4 669.1H769.4M778.8 627.1V682.3M770.8 654.7H786.8M801.6 665.5V720.7M787.0 693.1H816.2M852.9 603.4V658.6M816.0 631.0H884.3M898.1 634.1V689.3M884.3 661.7H911.3" stroke="#f00"/>
<path d="M434.4 685.5V740.7M433.0 713.1H435.7M437.1 639.1V694.3M435.7 666.7H438.4M439.8 648.5V703.7M438.4 676.1H441.1M442.5 637.7V692.9M441.1 665.3H443.8M445.2 633.4V688.6M443.8 661.0H446.6M447.9 624.6V679.8M446.6 652.2H449.3M450.7 656.0V711.2M449.3 683.6H452.0M453.4 645.9V701.1M452.0 673.5H454.8M456.1 698.4V753.6M454.8 726.0H457.5M458.9 653.7V708.9M457.5 681.3H460.2M461.6 675.0V730.2M460.2 702.6H463.0M464.4 658.2V713.4M463.0 685.8H465.8M467.1 627.0V682.2M465.8 654.6H468.5M469.9 652.3V707.5M468.5 679.9H471.3M472.7 630.3V685.5M471.3 657.9H474.1M475.4 659.2V714.4M474.1 686.8H476.8M478.2 645.8V701.0M476.8 673.4H479.6M481.0 663.9V719.1M479.6 691.5H482.4M483.8 711.6V766.8M482.4 739.2H485.2M486.6 670.7V725.9M485.2 698.3H488.0M489.4 660.6V715.8M488.0 688.2H490.8M492.2 651.2V706.4M490.8 678.8H493.6M495.0 654.6V709.8M493.6 682.2H496.4M497.8 657.5V712.7M496.4 685.1H499.2M500.7 633.5V688.7M499.2 661.1H502.1M503.5 640.7V695.9M502.1 668.3H504.9M506.3 663.6V718.8M504.9 691.2H507.7M509.2 635.2V690.4M507.7 662.8H510.6M512.0 699.1V754.3M510.6 726.7H513.4M514.8 661.0V716.2M513.4 688.6H516.3M517.7 657.9V713.1M516.3 685.5H519.1M520.6 625.5V680.7M519.1 653.1H522.0M523.4 666.6V721.8M522.0 694.2H524.9M526.3 687.5V742.7M524.9 715.1H527.7M529.2 650.6V705.8M527.7 678.2H530.6M532.0 616.7V671.9M530.6 644.3H533.5M534.9 659.3V714.5M533.5 686.9H536.4M537.8 656.8V712.0M536.4 684.4H539.3M540.7 659.2V714.4M539.3 686.8H542.2M543.7 653.4V708.6M542.2 681.0H545.2M546.8 625.4V680.6M545.2 653.0H548.4M550.0 610.6V665.8M548.4 638.2H551.7M553.5 644.0V699.2M551.7 671.6H555.2M557.1 656.9V712.1M555.2 684.5H558.9M560.9 613.1V668.3M558.9 640.7H562.8M564.9 655.0V710.2M562.8 682.6H567.0M569.1 659.8V715.0M567.0 687.4H571.3M573.7 673.4V728.6M571.3 701.0H576.1M578.9 677.1V732.3M576.1 704.7H581.8M585.2 668.5V723.7M581.8 696.1H588.6M592.4 680.8V736.0M588.6 708.4H596.2M600.1 665.6V720.8M596.2 693.2H603.9M607.8 673.4V728.6M603.9 701.0H611.8M615.8 663.5V718.7M611.8 691.1H619.7M623.8 685.0V740.2M619.7 712.6H627.9M632.0 678.7V733.9M627.9 706.3H636.2M640.4 666.3V721.5M636.2 693.9H644.6M648.9 667.8V723.0M644.6 695.4H653.2M657.6 664.5V719.7M653.2 692.1H661.9M666.3 638.0V693.2M661.9 665.6H670.7M577.7 732.1V787.3M574.7 759.7H580.7M613.0 737.6V792.8M609.5 765.2H616.5M585.0 707.2V762.4M582.0 734.8H588.0" stroke="#80ff00"/>
<path d="M684.4 660.8H938.4M844.6 633.2V688.4M938.4 676.8H968.2M953.8 649.2V704.4" stroke="#00f" stroke-width="2"/>
<path d="M149.6 682.4H970.8" stroke="#008000" stroke-width="2.0"/>
<path d="M147.3 696.7H156.5M151.9 692.1V701.3M150.7 641.2H159.9M155.3 636.6V645.8M154.1 685.7H163.3M158.7 681.1V690.3M157.4 673.2H166.6M162.0 668.6V677.8M160.7 669.6H169.9M165.3 665.0V674.2M163.9 683.7H173.1M168.5 679.1V688.3M167.1 697.1H176.3M171.7 692.5V701.7M170.2 654.8H179.4M174.8 650.2V659.4M173.3 661.0H182.5M177.9 656.4V665.6M176.4 710.3H185.6M181.0 705.7V714.9M179.4 619.1H188.6M184.0 614.5V623.7M182.4 648.5H191.6M187.0 643.9V653.1M185.3 685.6H194.5M189.9 681.0V690.2M188.2 650.2H197.4M192.8 645.6V654.8M191.1 679.7H200.3M195.7 675.1V684.3M194.0 671.1H203.2M198.6 666.5V675.7M196.8 653.0H206.0M201.4 648.4V657.6M199.5 697.3H208.7M204.1 692.7V701.9M202.3 657.9H211.5M206.9 653.3V662.5M205.0 640.2H214.2M209.6 635.6V644.8M207.6 642.0H216.8M212.2 637.4V646.6M210.3 677.4H219.5M214.9 672.8V682.0M212.9 651.4H222.1M217.5 646.8V656.0M215.5 706.8H224.7M220.1 702.2V711.4M218.0 674.9H227.2M222.6 670.3V679.5M220.5 661.8H229.7M225.1 657.2V666.4M223.0 701.4H232.2M227.6 696.8V706.0M225.5 673.8H234.7M230.1 669.2V678.4M228.0 634.0H237.2M232.6 629.4V638.6M230.4 618.9H239.6M235.0 614.3V623.5M232.8 655.2H242.0M237.4 650.6V659.8M235.2 654.1H244.4M239.8 649.5V658.7M237.5 694.3H246.7M242.1 689.7V698.9M239.8 700.1H249.0M244.4 695.5V704.7M242.1 704.9H251.3M246.7 700.3V709.5M244.4 661.1H253.6M249.0 656.5V665.7M246.7 656.4H255.9M251.3 651.8V661.0M248.9 688.5H258.1M253.5 683.9V693.1M251.1 701.7H260.3M255.7 697.1V706.3M253.3 668.0H262.5M257.9 663.4V672.6M255.5 666.9H264.7M260.1 662.3V671.5M257.6 677.4H266.8M262.2 672.8V682.0M259.8 645.8H269.0M264.4 641.2V650.4M261.9 677.8H271.1M266.5 673.2V682.4M264.0 677.7H273.2M268.6 673.1V682.3M266.1 702.5H275.3M270.7 697.9V707.1M268.1 674.2H277.3M272.7 669.6V678.8M270.1 646.5H279.3M274.7 641.9V651.1M272.2 677.0H281.4M276.8 672.4V681.6M274.2 677.4H283.4M278.8 672.8V682.0M276.2 669.4H285.4M280.8 664.8V674.0M278.1 673.6H287.3M282.7 669.0V678.2M280.1 668.2H289.3M284.7 663.6V672.8M282.0 668.5H291.2M286.6 663.9V673.1M284.0 667.1H293.2M288.6 662.5V671.7M285.9 701.1H295.1M290.5 696.5V705.7M287.7 675.7H296.9M292.3 671.1V680.3M289.6 721.5H298.8M294.2 716.9V726.1M291.5 677.5H300.7M296.1 672.9V682.1M293.3 714.5H302.5M297.9 709.9V719.1M295.2 686.6H304.4M299.8 682.0V691.2M297.0 673.8H306.2M301.6 669.2V678.4M298.8 695.4H308.0M303.4 690.8V700.0M300.6 683.3H309.8M305.2 678.7V687.9M302.3 725.5H311.5M306.9 720.9V730.1M304.1 706.8H313.3M308.7 702.2V711.4M305.9 669.6H315.1M310.5 665.0V674.2M307.6 714.5H316.8M312.2 709.9V719.1M309.3 670.8H318.5M313.9 666.2V675.4M311.0 720.7H320.2M315.6 716.1V725.3M312.7 709.2H321.9M317.3 704.6V713.8M314.4 714.0H323.6M319.0 709.4V718.6M316.1 687.0H325.3M320.7 682.4V691.6M317.8 673.9H327.0M322.4 669.3V678.5M319.4 712.9H328.6M324.0 708.3V717.5M321.0 690.3H330.2M325.6 685.7V694.9M322.7 644.2H331.9M327.3 639.6V648.8M324.3 689.9H333.5M328.9 685.3V694.5M325.9 699.3H335.1M330.5 694.7V703.9M327.5 665.9H336.7M332.1 661.3V670.5M329.1 677.2H338.3M333.7 672.6V681.8M330.6 685.7H339.8M335.2 681.1V690.3M332.2 710.4H341.4M336.8 705.8V715.0M333.8 644.4H343.0M338.4 639.8V649.0M335.3 679.5H344.5M339.9 674.9V684.1M336.8 667.6H346.0M341.4 663.0V672.2M338.3 697.8H347.5M342.9 693.2V702.4M339.9 644.3H349.1M344.5 639.7V648.9M341.4 664.7H350.6M346.0 660.1V669.3M342.8 667.1H352.0M347.4 662.5V671.7M344.3 703.7H353.5M348.9 699.1V708.3M345.8 698.9H355.0M350.4 694.3V703.5M347.3 696.4H356.5M351.9 691.8V701.0M348.7 697.5H357.9M353.3 692.9V702.1M350.2 714.9H359.4M354.8 710.3V719.5M351.6 720.0H360.8M356.2 715.4V724.6M353.0 720.9H362.2M357.6 716.3V725.5M354.5 723.9H363.7M359.1 719.3V728.5M355.9 723.9H365.1M360.5 719.3V728.5M357.3 687.1H366.5M361.9 682.5V691.7M358.7 699.7H367.9M363.3 695.1V704.3M360.0 742.0H369.2M364.6 737.4V746.6M361.4 695.6H370.6M366.0 691.0V700.2M362.8 665.0H372.0M367.4 660.4V669.6M364.2 698.0H373.4M368.8 693.4V702.6M365.5 737.0H374.7M370.1 732.4V741.6M366.9 693.9H376.1M371.5 689.3V698.5M368.2 671.2H377.4M372.8 666.6V675.8M369.5 685.5H378.7M374.1 680.9V690.1M370.8 701.0H380.0M375.4 696.4V705.6M372.2 644.3H381.4M376.8 639.7V648.9M373.5 642.9H382.7M378.1 638.3V647.5M374.8 692.4H384.0M379.4 687.8V697.0M376.1 669.6H385.3M380.7 665.0V674.2M377.4 679.9H386.6M382.0 675.3V684.5M378.6 670.1H387.8M383.2 665.5V674.7M379.9 653.2H389.1M384.5 648.6V657.8M381.2 668.8H390.4M385.8 664.2V673.4M382.4 686.8H391.6M387.0 682.2V691.4M383.7 705.1H392.9M388.3 700.5V709.7M384.9 708.9H394.1M389.5 704.3V713.5M386.2 689.2H395.4M390.8 684.6V693.8M387.4 659.7H396.6M392.0 655.1V664.3M388.6 680.8H397.8M393.2 676.2V685.4M389.8 686.9H399.0M394.4 682.3V691.5M391.1 681.6H400.3M395.7 677.0V686.2M392.3 687.0H401.5M396.9 682.4V691.6M393.5 674.2H402.7M398.1 669.6V678.8M394.7 715.5H403.9M399.3 710.9V720.1M395.8 736.5H405.0M400.4 731.9V741.1M397.0 697.9H406.2M401.6 693.3V702.5M398.2 715.7H407.4M402.8 711.1V720.3M399.4 647.0H408.6M404.0 642.4V651.6M400.5 690.9H409.7M405.1 686.3V695.5M401.7 693.1H410.9M406.3 688.5V697.7M402.8 724.9H412.0M407.4 720.3V729.5M404.0 679.5H413.2M408.6 674.9V684.1M405.1 701.9H414.3M409.7 697.3V706.5M406.3 658.4H415.5M410.9 653.8V663.0M407.4 665.2H416.6M412.0 660.6V669.8M408.5 705.3H417.7M413.1 700.7V709.9M409.7 675.7H418.9M414.3 671.1V680.3M410.8 750.0H420.0M415.4 745.4V754.6M411.9 702.4H421.1M416.5 697.8V707.0M413.0 654.5H422.2M417.6 649.9V659.1M414.1 665.7H423.3M418.7 661.1V670.3M415.2 680.9H424.4M419.8 676.3V685.5M416.3 686.0H425.5M420.9 681.4V690.6M417.3 720.8H426.5M421.9 716.2V725.4M418.4 719.6H427.6M423.0 715.0V724.2M419.5 680.6H428.7M424.1 676.0V685.2M420.6 642.7H429.8M425.2 638.1V647.3M421.6 740.7H430.8M426.2 736.1V745.3M422.7 671.4H431.9M427.3 666.8V676.0M423.7 672.4H432.9M428.3 667.8V677.0M424.8 664.0H434.0M429.4 659.4V668.6M425.8 709.5H435.0M430.4 704.9V714.1M426.9 701.3H436.1M431.5 696.7V705.9M427.9 687.3H437.1M432.5 682.7V691.9M428.9 714.3H438.1M433.5 709.7V718.9M430.0 719.6H439.2M434.6 715.0V724.2M431.0 711.3H440.2M435.6 706.7V715.9M432.0 691.4H441.2M436.6 686.8V696.0M433.0 680.6H442.2M437.6 676.0V685.2M434.0 690.8H443.2M438.6 686.2V695.4M435.0 688.5H444.2M439.6 683.9V693.1M436.0 707.7H445.2M440.6 703.1V712.3M437.0 708.6H446.2M441.6 704.0V713.2M438.0 662.8H447.2M442.6 658.2V667.4M439.0 692.0H448.2M443.6 687.4V696.6M440.0 692.7H449.2M444.6 688.1V697.3M441.0 667.4H450.2M445.6 662.8V672.0M441.9 659.9H451.1M446.5 655.3V664.5M442.9 659.1H452.1M447.5 654.5V663.7M443.9 680.6H453.1M448.5 676.0V685.2M444.8 691.9H454.0M449.4 687.3V696.5M445.8 683.5H455.0M450.4 678.9V688.1M446.8 686.2H456.0M451.4 681.6V690.8M447.7 656.0H456.9M452.3 651.4V660.6M448.7 683.4H457.9M453.3 678.8V688.0M449.6 674.8H458.8M454.2 670.2V679.4M450.5 691.4H459.7M455.1 686.8V696.0M451.5 656.6H460.7M456.1 652.0V661.2M452.4 741.7H461.6M457.0 737.1V746.3M453.3 681.2H462.5M457.9 676.6V685.8M454.3 671.9H463.5M458.9 667.3V676.5M455.2 719.5H464.4M459.8 714.9V724.1M456.1 637.3H465.3M460.7 632.7V641.9M457.0 694.4H466.2M461.6 689.8V699.0M457.9 694.7H467.1M462.5 690.1V699.3M458.8 717.5H468.0M463.4 712.9V722.1M459.7 668.9H468.9M464.3 664.3V673.5M460.6 685.1H469.8M465.2 680.5V689.7M461.5 705.4H470.7M466.1 700.8V710.0M462.4 685.1H471.6M467.0 680.5V689.7M463.3 673.6H472.5M467.9 669.0V678.2M464.2 660.5H473.4M468.8 655.9V665.1M465.1 685.3H474.3M469.7 680.7V689.9M466.0 714.6H475.2M470.6 710.0V719.2M466.8 704.5H476.0M471.4 699.9V709.1M467.7 747.8H476.9M472.3 743.2V752.4M468.6 708.9H477.8M473.2 704.3V713.5M469.5 672.4H478.7M474.1 667.8V677.0M470.3 679.1H479.5M474.9 674.5V683.7M471.2 693.4H480.4M475.8 688.8V698.0M472.0 699.2H481.2M476.6 694.6V703.8M472.9 651.3H482.1M477.5 646.7V655.9M473.7 683.7H482.9M478.3 679.1V688.3M474.6 668.1H483.8M479.2 663.5V672.7M475.4 680.9H484.6M480.0 676.3V685.5M476.3 707.3H485.5M480.9 702.7V711.9M477.1 652.0H486.3M481.7 647.4V656.6M477.9 721.4H487.1M482.5 716.8V726.0M478.8 720.4H488.0M483.4 715.8V725.0M479.6 701.3H488.8M484.2 696.7V705.9M480.4 708.8H489.6M485.0 704.2V713.4M481.3 704.5H490.5M485.9 699.9V709.1M482.1 705.6H491.3M486.7 701.0V710.2M482.9 666.2H492.1M487.5 661.6V670.8M483.7 689.3H492.9M488.3 684.7V693.9M484.5 681.9H493.7M489.1 677.3V686.5M485.3 730.1H494.5M489.9 725.5V734.7M486.1 711.7H495.3M490.7 707.1V716.3M486.9 663.7H496.1M491.5 659.1V668.3M487.7 720.6H496.9M492.3 716.0V725.2M488.5 661.4H497.7M493.1 656.8V666.0M489.3 716.3H498.5M493.9 711.7V720.9M490.1 683.2H499.3M494.7 678.6V687.8M490.9 711.7H500.1M495.5 707.1V716.3M491.7 685.8H500.9M496.3 681.2V690.4M492.5 713.0H501.7M497.1 708.4V717.6M493.3 697.1H502.5M497.9 692.5V701.7M494.1 649.1H503.3M498.7 644.5V653.7M494.8 700.0H504.0M499.4 695.4V704.6M495.6 640.1H504.8M500.2 635.5V644.7M496.4 702.1H505.6M501.0 697.5V706.7M497.2 719.9H506.4M501.8 715.3V724.5M497.9 688.8H507.1M502.5 684.2V693.4M498.7 700.8H507.9M503.3 696.2V705.4M499.4 647.0H508.6M504.0 642.4V651.6M500.2 669.3H509.4M504.8 664.7V673.9M501.0 661.3H510.2M505.6 656.7V665.9M501.7 675.0H510.9M506.3 670.4V679.6M502.5 629.3H511.7M507.1 624.7V633.9M503.2 670.9H512.4M507.8 666.3V675.5M504.0 677.5H513.2M508.6 672.9V682.1M504.7 711.3H513.9M509.3 706.7V715.9M505.5 713.3H514.7M510.1 708.7V717.9M506.2 686.1H515.4M510.8 681.5V690.7M506.9 665.9H516.1M511.5 661.3V670.5M507.7 662.9H516.9M512.3 658.3V667.5M508.4 714.1H517.6M513.0 709.5V718.7M509.1 677.5H518.3M513.7 672.9V682.1M509.9 685.9H519.1M514.5 681.3V690.5M510.6 718.5H519.8M515.2 713.9V723.1M511.3 678.0H520.5M515.9 673.4V682.6M512.1 747.1H521.3M516.7 742.5V751.7M512.8 684.1H522.0M517.4 679.5V688.7M513.6 629.3H522.8M518.2 624.7V633.9M514.3 716.0H523.5M518.9 711.4V720.6M515.1 690.2H524.3M519.7 685.6V694.8M515.8 737.7H525.0M520.4 733.1V742.3M516.6 709.4H525.8M521.2 704.8V714.0M517.3 671.9H526.5M521.9 667.3V676.5M518.1 716.6H527.3M522.7 712.0V721.2M518.8 691.5H528.0M523.4 686.9V696.1M519.6 699.5H528.8M524.2 694.9V704.1M520.3 700.1H529.5M524.9 695.5V704.7M521.1 685.9H530.3M525.7 681.3V690.5M521.9 678.6H531.1M526.5 674.0V683.2M522.6 660.1H531.8M527.2 655.5V664.7M523.4 670.0H532.6M528.0 665.4V674.6M524.2 704.7H533.4M528.8 700.1V709.3M525.0 655.5H534.2M529.6 650.9V660.1M525.7 659.7H534.9M530.3 655.1V664.3M526.5 729.4H535.7M531.1 724.8V734.0M527.3 674.2H536.5M531.9 669.6V678.8M528.1 670.2H537.3M532.7 665.6V674.8M528.8 666.7H538.0M533.4 662.1V671.3M529.6 677.1H538.8M534.2 672.5V681.7M530.4 722.9H539.6M535.0 718.3V727.5M531.2 697.3H540.4M535.8 692.7V701.9M532.0 742.1H541.2M536.6 737.5V746.7M532.8 694.6H542.0M537.4 690.0V699.2M533.6 640.3H542.8M538.2 635.7V644.9M534.4 673.7H543.6M539.0 669.1V678.3M535.2 669.9H544.4M539.8 665.3V674.5M536.0 703.4H545.2M540.6 698.8V708.0M536.8 715.9H546.0M541.4 711.3V720.5M537.6 717.3H546.8M542.2 712.7V721.9M538.4 687.6H547.6M543.0 683.0V692.2M539.2 710.6H548.4M543.8 706.0V715.2M540.0 706.5H549.2M544.6 701.9V711.1M540.9 662.3H550.1M545.5 657.7V666.9M541.7 731.4H550.9M546.3 726.8V736.0M542.5 723.3H551.7M547.1 718.7V727.9M543.4 703.4H552.6M548.0 698.8V708.0M544.2 693.2H553.4M548.8 688.6V697.8M545.1 693.9H554.3M549.7 689.3V698.5M546.0 725.4H555.2M550.6 720.8V730.0M546.8 685.9H556.0M551.4 681.3V690.5M547.7 693.9H556.9M552.3 689.3V698.5M548.6 681.9H557.8M553.2 677.3V686.5M549.5 717.6H558.7M554.1 713.0V722.2M550.4 684.6H559.6M555.0 680.0V689.2M551.3 685.2H560.5M555.9 680.6V689.8M552.2 707.1H561.4M556.8 702.5V711.7M553.1 696.1H562.3M557.7 691.5V700.7M554.0 704.5H563.2M558.6 699.9V709.1M554.9 657.0H564.1M559.5 652.4V661.6M555.9 750.0H565.1M560.5 745.4V754.6M556.8 726.6H566.0M561.4 722.0V731.2M557.7 733.1H566.9M562.3 728.5V737.7M558.7 700.1H567.9M563.3 695.5V704.7M559.7 707.5H568.9M564.3 702.9V712.1M560.6 700.9H569.8M565.2 696.3V705.5M561.6 672.8H570.8M566.2 668.2V677.4M562.6 731.2H571.8M567.2 726.6V735.8M563.5 711.7H572.7M568.1 707.1V716.3M564.5 696.2H573.7M569.1 691.6V700.8M565.5 720.5H574.7M570.1 715.9V725.1M566.5 681.5H575.7M571.1 676.9V686.1M567.5 682.5H576.7M572.1 677.9V687.1M568.6 708.3H577.8M573.2 703.7V712.9M569.6 734.7H578.8M574.2 730.1V739.3M570.7 650.9H579.9M575.3 646.3V655.5M571.8 679.0H581.0M576.4 674.4V683.6M572.9 680.2H582.1M577.5 675.6V684.8M574.0 688.9H583.2M578.6 684.3V693.5M575.2 690.9H584.4M579.8 686.3V695.5M576.3 670.0H585.5M580.9 665.4V674.6M577.5 691.1H586.7M582.1 686.5V695.7M578.7 706.4H587.9M583.3 701.8V711.0M579.9 673.1H589.1M584.5 668.5V677.7M581.2 689.2H590.4M585.8 684.6V693.8M582.4 709.9H591.6M587.0 705.3V714.5M583.7 713.2H592.9M588.3 708.6V717.8M585.0 661.7H594.2M589.6 657.1V666.3M586.4 675.0H595.6M591.0 670.4V679.6M587.7 641.6H596.9M592.3 637.0V646.2M589.1 703.8H598.3M593.7 699.2V708.4M590.5 709.1H599.7M595.1 704.5V713.7M591.9 680.6H601.1M596.5 676.0V685.2M593.3 656.4H602.5M597.9 651.8V661.0M594.8 675.9H604.0M599.4 671.3V680.5M596.3 679.9H605.5M600.9 675.3V684.5M597.8 643.5H607.0M602.4 638.9V648.1M599.4 708.5H608.6M604.0 703.9V713.1M601.0 720.7H610.2M605.6 716.1V725.3M602.7 707.8H611.9M607.3 703.2V712.4M604.5 696.9H613.7M609.1 692.3V701.5M606.3 679.3H615.5M610.9 674.7V683.9M608.2 662.8H617.4M612.8 658.2V667.4M610.1 677.8H619.3M614.7 673.2V682.4M612.2 649.6H621.4M616.8 645.0V654.2M614.3 707.6H623.5M618.9 703.0V712.2M616.4 639.2H625.6M621.0 634.6V643.8M618.6 706.3H627.8M623.2 701.7V710.9M620.9 656.6H630.1M625.5 652.0V661.2M623.3 708.4H632.5M627.9 703.8V713.0M625.7 676.1H634.9M630.3 671.5V680.7M628.3 682.9H637.5M632.9 678.3V687.5M630.8 670.8H640.0M635.4 666.2V675.4M633.5 664.4H642.7M638.1 659.8V669.0M636.2 687.8H645.4M640.8 683.2V692.4M639.1 684.1H648.3M643.7 679.5V688.7M642.0 676.5H651.2M646.6 671.9V681.1M645.0 714.8H654.2M649.6 710.2V719.4M648.0 700.6H657.2M652.6 696.0V705.2M651.2 722.8H660.4M655.8 718.2V727.4M654.4 682.3H663.6M659.0 677.7V686.9M657.7 627.2H666.9M662.3 622.6V631.8M661.2 664.0H670.4M665.8 659.4V668.6M664.7 703.9H673.9M669.3 699.3V708.5M668.4 700.0H677.6M673.0 695.4V704.6M672.2 658.2H681.4M676.8 653.6V662.8M676.2 694.2H685.4M680.8 689.6V698.8M680.3 722.4H689.5M684.9 717.8V727.0M684.5 707.8H693.7M689.1 703.2V712.4M145.7 602.4H154.9M150.3 597.8V607.0M163.8 610.6H173.0M168.4 606.0V615.2M368.3 605.1H377.5M372.9 600.5V609.7M304.4 756.9H313.6M309.0 752.3V761.5M347.4 761.1H356.6M352.0 756.5V765.7M496.9 776.2H506.1M501.5 771.6V780.8M630.4 616.2H639.6M635.0 611.6V620.8M342.4 748.6H351.6M347.0 744.0V753.2M353.9 745.9H363.1M358.5 741.3V750.5M422.0 745.9H431.2M426.6 741.3V750.5M465.4 745.9H474.6M470.0 741.3V750.5M477.4 750.0H486.6M482.0 745.4V754.6M685.4 639.0H694.6M690.0 634.4V643.6M691.4 679.0H700.6M696.0 674.4V683.6M696.2 679.0H705.4M700.8 674.4V683.6M702.0 718.0H711.2M706.6 713.4V722.6M708.4 696.0H717.6M713.0 691.4V700.6M715.4 701.7H724.6M720.0 697.1V706.3M722.6 640.8H731.8M727.2 636.2V645.4M730.3 720.8H739.5M734.9 716.2V725.4M739.2 660.2H748.4M743.8 655.6V664.8M748.4 659.3H757.6M753.0 654.7V663.9M761.0 654.0H770.2M765.6 649.4V658.6M777.6 699.9H786.8M782.2 695.3V704.5M809.9 701.1H819.1M814.5 696.5V705.7M869.8 678.0H879.0M874.4 673.4V682.6" stroke="#000"/>
<path d="M147.9 731.8H157.1M152.5 727.2V736.4M151.3 731.1H160.5M155.9 726.5V735.7M154.7 695.7H163.9M159.3 691.1V700.3M158.0 708.2H167.2M162.6 703.6V712.8M161.3 740.8H170.5M165.9 736.2V745.4M164.5 720.9H173.7M169.1 716.3V725.5M167.7 733.4H176.9M172.3 728.8V738.0M170.8 734.9H180.0M175.4 730.3V739.5M173.9 741.1H183.1M178.5 736.5V745.7M176.9 672.1H186.1M181.5 667.5V676.7M179.9 715.6H189.1M184.5 711.0V720.2M182.9 696.7H192.1M187.5 692.1V701.3M185.8 690.4H195.0M190.4 685.8V695.0M188.7 717.1H197.9M193.3 712.5V721.7M191.6 697.3H200.8M196.2 692.7V701.9M194.4 697.1H203.6M199.0 692.5V701.7M197.2 703.7H206.4M201.8 699.1V708.3M200.0 660.9H209.2M204.6 656.3V665.5M202.7 701.0H211.9M207.3 696.4V705.6M205.4 711.4H214.6M210.0 706.8V716.0M208.1 691.7H217.3M212.7 687.1V696.3M210.7 666.4H219.9M215.3 661.8V671.0M213.3 682.8H222.5M217.9 678.2V687.4M215.9 714.3H225.1M220.5 709.7V718.9M218.5 722.0H227.7M223.1 717.4V726.6M221.0 723.0H230.2M225.6 718.4V727.6M223.5 716.5H232.7M228.1 711.9V721.1M225.9 692.8H235.1M230.5 688.2V697.4M228.4 682.0H237.6M233.0 677.4V686.6M230.8 750.0H240.0M235.4 745.4V754.6M233.2 699.9H242.4M237.8 695.3V704.5M235.6 723.6H244.8M240.2 719.0V728.2M237.9 683.1H247.1M242.5 678.5V687.7M240.2 677.2H249.4M244.8 672.6V681.8M242.5 714.7H251.7M247.1 710.1V719.3M244.8 706.8H254.0M249.4 702.2V711.4M247.1 717.6H256.3M251.7 713.0V722.2M249.3 686.6H258.5M253.9 682.0V691.2M251.5 731.5H260.7M256.1 726.9V736.1M253.7 719.9H262.9M258.3 715.3V724.5M255.9 709.3H265.1M260.5 704.7V713.9M258.0 664.9H267.2M262.6 660.3V669.5M260.1 637.1H269.3M264.7 632.5V641.7M262.2 691.4H271.4M266.8 686.8V696.0M264.3 719.7H273.5M268.9 715.1V724.3M266.4 689.0H275.6M271.0 684.4V693.6M268.5 710.3H277.7M273.1 705.7V714.9M270.5 678.8H279.7M275.1 674.2V683.4M272.5 715.0H281.7M277.1 710.4V719.6M274.5 697.1H283.7M279.1 692.5V701.7M276.5 688.2H285.7M281.1 683.6V692.8M278.5 675.1H287.7M283.1 670.5V679.7M280.4 688.6H289.6M285.0 684.0V693.2M282.4 656.4H291.6M287.0 651.8V661.0M284.3 682.8H293.5M288.9 678.2V687.4M286.2 728.2H295.4M290.8 723.6V732.8M288.1 662.7H297.3M292.7 658.1V667.3M289.9 691.1H299.1M294.5 686.5V695.7M291.8 699.6H301.0M296.4 695.0V704.2M293.6 647.0H302.8M298.2 642.4V651.6M295.5 706.5H304.7M300.1 701.9V711.1M297.3 680.5H306.5M301.9 675.9V685.1M299.1 699.1H308.3M303.7 694.5V703.7M300.9 649.0H310.1M305.5 644.4V653.6M302.7 690.1H311.9M307.3 685.5V694.7M304.4 675.3H313.6M309.0 670.7V679.9M306.2 714.6H315.4M310.8 710.0V719.2M307.9 645.6H317.1M312.5 641.0V650.2M309.6 706.3H318.8M314.2 701.7V710.9M311.3 657.6H320.5M315.9 653.0V662.2M313.0 652.3H322.2M317.6 647.7V656.9M314.7 649.0H323.9M319.3 644.4V653.6M316.4 634.2H325.6M321.0 629.6V638.8M318.0 707.0H327.2M322.6 702.4V711.6M319.7 667.3H328.9M324.3 662.7V671.9M321.3 672.4H330.5M325.9 667.8V677.0M322.9 663.3H332.1M327.5 658.7V667.9M324.6 643.6H333.8M329.2 639.0V648.2M326.2 664.6H335.4M330.8 660.0V669.2M327.8 683.5H337.0M332.4 678.9V688.1M329.3 661.4H338.5M333.9 656.8V666.0M330.9 618.9H340.1M335.5 614.3V623.5M332.5 681.8H341.7M337.1 677.2V686.4M334.0 649.3H343.2M338.6 644.7V653.9M335.6 676.2H344.8M340.2 671.6V680.8M337.1 626.4H346.3M341.7 621.8V631.0M338.6 698.5H347.8M343.2 693.9V703.1M340.1 671.0H349.3M344.7 666.4V675.6M341.6 672.1H350.8M346.2 667.5V676.7M343.1 674.2H352.3M347.7 669.6V678.8M344.6 627.6H353.8M349.2 623.0V632.2M346.1 656.7H355.3M350.7 652.1V661.3M347.5 728.2H356.7M352.1 723.6V732.8M349.0 652.5H358.2M353.6 647.9V657.1M350.4 734.6H359.6M355.0 730.0V739.2M351.9 746.6H361.1M356.5 742.0V751.2M353.3 730.5H362.5M357.9 725.9V735.1M354.7 681.6H363.9M359.3 677.0V686.2M356.1 668.1H365.3M360.7 663.5V672.7M357.5 732.9H366.7M362.1 728.3V737.5M358.9 665.1H368.1M363.5 660.5V669.7M360.3 681.7H369.5M364.9 677.1V686.3M361.7 657.1H370.9M366.3 652.5V661.7M363.0 684.0H372.2M367.6 679.4V688.6M364.4 652.1H373.6M369.0 647.5V656.7M365.7 660.4H374.9M370.3 655.8V665.0M367.1 703.6H376.3M371.7 699.0V708.2M368.4 638.6H377.6M373.0 634.0V643.2M369.8 669.3H379.0M374.4 664.7V673.9M371.1 656.4H380.3M375.7 651.8V661.0M372.4 643.2H381.6M377.0 638.6V647.8M373.7 698.8H382.9M378.3 694.2V703.4M375.0 676.7H384.2M379.6 672.1V681.3M376.3 695.1H385.5M380.9 690.5V699.7M377.6 698.1H386.8M382.2 693.5V702.7M378.9 668.1H388.1M383.5 663.5V672.7M380.1 666.3H389.3M384.7 661.7V670.9M381.4 641.7H390.6M386.0 637.1V646.3M382.6 640.3H391.8M387.2 635.7V644.9M383.9 675.3H393.1M388.5 670.7V679.9M385.1 695.6H394.3M389.7 691.0V700.2M386.4 618.9H395.6M391.0 614.3V623.5M387.6 621.5H396.8M392.2 616.9V626.1M388.8 677.5H398.0M393.4 672.9V682.1M390.1 698.0H399.3M394.7 693.4V702.6M391.3 685.4H400.5M395.9 680.8V690.0M392.5 667.9H401.7M397.1 663.3V672.5M393.7 646.8H402.9M398.3 642.2V651.4M394.9 650.9H404.1M399.5 646.3V655.5M396.0 664.2H405.2M400.6 659.6V668.8M397.2 681.1H406.4M401.8 676.5V685.7M398.4 670.8H407.6M403.0 666.2V675.4M399.6 682.8H408.8M404.2 678.2V687.4M400.7 673.3H409.9M405.3 668.7V677.9M401.9 677.7H411.1M406.5 673.1V682.3M403.0 662.1H412.2M407.6 657.5V666.7M404.2 721.9H413.4M408.8 717.3V726.5M405.3 683.7H414.5M409.9 679.1V688.3M406.5 682.4H415.7M411.1 677.8V687.0M407.6 703.3H416.8M412.2 698.7V707.9M408.7 679.5H417.9M413.3 674.9V684.1M409.8 701.4H419.0M414.4 696.8V706.0M411.0 691.7H420.2M415.6 687.1V696.3M412.1 682.5H421.3M416.7 677.9V687.1M413.2 681.6H422.4M417.8 677.0V686.2M414.3 689.6H423.5M418.9 685.0V694.2M415.4 647.9H424.6M420.0 643.3V652.5M416.4 670.3H425.6M421.0 665.7V674.9M417.5 667.3H426.7M422.1 662.7V671.9M418.6 669.6H427.8M423.2 665.0V674.2M419.7 692.0H428.9M424.3 687.4V696.6M420.7 697.3H429.9M425.3 692.7V701.9M421.8 654.6H431.0M426.4 650.0V659.2M422.9 684.2H432.1M427.5 679.6V688.8M423.9 719.5H433.1M428.5 714.9V724.1M425.0 730.1H434.2M429.6 725.5V734.7M426.0 670.0H435.2M430.6 665.4V674.6M427.1 693.8H436.3M431.7 689.2V698.4M428.1 677.2H437.3M432.7 672.6V681.8M429.1 689.1H438.3M433.7 684.5V693.7M430.1 685.7H439.3M434.7 681.1V690.3M431.2 679.8H440.4M435.8 675.2V684.4M432.2 706.5H441.4M436.8 701.9V711.1M433.2 676.0H442.4M437.8 671.4V680.6M434.2 651.1H443.4M438.8 646.5V655.7M435.2 658.3H444.4M439.8 653.7V662.9M436.2 718.8H445.4M440.8 714.2V723.4M437.2 708.9H446.4M441.8 704.3V713.5M438.2 708.7H447.4M442.8 704.1V713.3M439.2 681.8H448.4M443.8 677.2V686.4M440.2 654.4H449.4M444.8 649.8V659.0M441.1 667.6H450.3M445.7 663.0V672.2M442.1 719.2H451.3M446.7 714.6V723.8M443.1 674.3H452.3M447.7 669.7V678.9M444.1 655.6H453.3M448.7 651.0V660.2M445.0 686.8H454.2M449.6 682.2V691.4M446.0 628.4H455.2M450.6 623.8V633.0M446.9 691.9H456.1M451.5 687.3V696.5M447.9 646.6H457.1M452.5 642.0V651.2M448.8 618.9H458.0M453.4 614.3V623.5M449.8 707.4H459.0M454.4 702.8V712.0M450.7 683.7H459.9M455.3 679.1V688.3M451.6 661.4H460.8M456.2 656.8V666.0M452.6 618.9H461.8M457.2 614.3V623.5M453.5 720.1H462.7M458.1 715.5V724.7M454.4 661.7H463.6M459.0 657.1V666.3M455.3 668.7H464.5M459.9 664.1V673.3M456.3 686.2H465.5M460.9 681.6V690.8M457.2 696.5H466.4M461.8 691.9V701.1M458.1 688.8H467.3M462.7 684.2V693.4M459.0 683.3H468.2M463.6 678.7V687.9M459.9 707.3H469.1M464.5 702.7V711.9M460.8 636.6H470.0M465.4 632.0V641.2M461.7 703.3H470.9M466.3 698.7V707.9M462.6 686.4H471.8M467.2 681.8V691.0M463.5 692.2H472.7M468.1 687.6V696.8M464.4 686.1H473.6M469.0 681.5V690.7M465.2 673.5H474.4M469.8 668.9V678.1M466.1 694.6H475.3M470.7 690.0V699.2M467.0 681.7H476.2M471.6 677.1V686.3M467.9 633.0H477.1M472.5 628.4V637.6M468.7 649.6H477.9M473.3 645.0V654.2M469.6 683.0H478.8M474.2 678.4V687.6M470.5 653.3H479.7M475.1 648.7V657.9M471.3 695.0H480.5M475.9 690.4V699.6M472.2 670.3H481.4M476.8 665.7V674.9M473.0 711.4H482.2M477.6 706.8V716.0M473.9 704.3H483.1M478.5 699.7V708.9M474.7 697.4H483.9M479.3 692.8V702.0M475.6 645.2H484.8M480.2 640.6V649.8M476.4 670.2H485.6M481.0 665.6V674.8M477.3 662.3H486.5M481.9 657.7V666.9M478.1 672.2H487.3M482.7 667.6V676.8M478.9 666.8H488.1M483.5 662.2V671.4M479.8 665.5H489.0M484.4 660.9V670.1M480.6 656.9H489.8M485.2 652.3V661.5M481.4 671.9H490.6M486.0 667.3V676.5M482.2 698.7H491.4M486.8 694.1V703.3M483.0 695.6H492.2M487.6 691.0V700.2M483.9 645.8H493.1M488.5 641.2V650.4M484.7 640.9H493.9M489.3 636.3V645.5M485.5 662.1H494.7M490.1 657.5V666.7M486.3 716.9H495.5M490.9 712.3V721.5M487.1 636.9H496.3M491.7 632.3V641.5M487.9 668.0H497.1M492.5 663.4V672.6M488.7 677.9H497.9M493.3 673.3V682.5M489.5 675.5H498.7M494.1 670.9V680.1M490.3 685.3H499.5M494.9 680.7V689.9M491.1 632.4H500.3M495.7 627.8V637.0M491.9 634.2H501.1M496.5 629.6V638.8M492.6 702.5H501.8M497.2 697.9V707.1M493.4 680.8H502.6M498.0 676.2V685.4M494.2 668.5H503.4M498.8 663.9V673.1M495.0 644.4H504.2M499.6 639.8V649.0M495.7 736.4H504.9M500.3 731.8V741.0M496.5 653.0H505.7M501.1 648.4V657.6M497.3 634.7H506.5M501.9 630.1V639.3M498.1 684.4H507.3M502.7 679.8V689.0M498.8 677.4H508.0M503.4 672.8V682.0M499.6 645.2H508.8M504.2 640.6V649.8M500.3 667.0H509.5M504.9 662.4V671.6M501.1 709.6H510.3M505.7 705.0V714.2M501.9 705.5H511.1M506.5 700.9V710.1M502.6 702.1H511.8M507.2 697.5V706.7M503.4 711.7H512.6M508.0 707.1V716.3M504.1 676.6H513.3M508.7 672.0V681.2M504.8 689.4H514.0M509.4 684.8V694.0M505.6 675.5H514.8M510.2 670.9V680.1M506.3 658.9H515.5M510.9 654.3V663.5M507.1 632.1H516.3M511.7 627.5V636.7M507.8 671.1H517.0M512.4 666.5V675.7M508.5 722.9H517.7M513.1 718.3V727.5M509.3 641.9H518.5M513.9 637.3V646.5M510.0 679.5H519.2M514.6 674.9V684.1M510.7 647.6H519.9M515.3 643.0V652.2M511.5 687.8H520.7M516.1 683.2V692.4M512.2 669.0H521.4M516.8 664.4V673.6M513.0 680.0H522.2M517.6 675.4V684.6M513.7 677.3H522.9M518.3 672.7V681.9M514.4 644.9H523.6M519.0 640.3V649.5M515.2 692.9H524.4M519.8 688.3V697.5M515.9 672.6H525.1M520.5 668.0V677.2M516.7 671.2H525.9M521.3 666.6V675.8M517.4 686.3H526.6M522.0 681.7V690.9M518.2 731.4H527.4M522.8 726.8V736.0M519.0 668.0H528.2M523.6 663.4V672.6M519.7 747.3H528.9M524.3 742.7V751.9M520.5 714.1H529.7M525.1 709.5V718.7M521.2 688.1H530.4M525.8 683.5V692.7M522.0 666.0H531.2M526.6 661.4V670.6M522.8 655.3H532.0M527.4 650.7V659.9M523.5 656.1H532.7M528.1 651.5V660.7M524.3 661.9H533.5M528.9 657.3V666.5M525.1 685.8H534.3M529.7 681.2V690.4M525.9 646.5H535.1M530.5 641.9V651.1M526.6 683.4H535.8M531.2 678.8V688.0M527.4 648.8H536.6M532.0 644.2V653.4M528.2 732.4H537.4M532.8 727.8V737.0M529.0 700.5H538.2M533.6 695.9V705.1M529.8 691.1H539.0M534.4 686.5V695.7M530.5 676.8H539.7M535.1 672.2V681.4M531.3 736.3H540.5M535.9 731.7V740.9M532.1 656.5H541.3M536.7 651.9V661.1M532.9 652.1H542.1M537.5 647.5V656.7M533.7 657.2H542.9M538.3 652.6V661.8M534.5 689.6H543.7M539.1 685.0V694.2M535.3 640.6H544.5M539.9 636.0V645.2M536.1 690.4H545.3M540.7 685.8V695.0M536.9 654.2H546.1M541.5 649.6V658.8M537.7 678.3H546.9M542.3 673.7V682.9M538.5 677.3H547.7M543.1 672.7V681.9M539.4 680.7H548.6M544.0 676.1V685.3M540.2 677.3H549.4M544.8 672.7V681.9M541.0 649.2H550.2M545.6 644.6V653.8M541.8 641.0H551.0M546.4 636.4V645.6M542.7 641.3H551.9M547.3 636.7V645.9M543.5 654.2H552.7M548.1 649.6V658.8M544.4 660.2H553.6M549.0 655.6V664.8M545.3 665.6H554.5M549.9 661.0V670.2M546.1 633.1H555.3M550.7 628.5V637.7M547.0 687.8H556.2M551.6 683.2V692.4M547.9 692.6H557.1M552.5 688.0V697.2M548.8 675.7H558.0M553.4 671.1V680.3M549.6 718.4H558.8M554.2 713.8V723.0M550.5 682.8H559.7M555.1 678.2V687.4M551.4 678.4H560.6M556.0 673.8V683.0M552.3 702.5H561.5M556.9 697.9V707.1M553.3 691.3H562.5M557.9 686.7V695.9M554.2 659.6H563.4M558.8 655.0V664.2M555.1 682.7H564.3M559.7 678.1V687.3M556.0 675.1H565.2M560.6 670.5V679.7M557.0 651.2H566.2M561.6 646.6V655.8M557.9 692.2H567.1M562.5 687.6V696.8M558.9 705.4H568.1M563.5 700.8V710.0M559.8 678.0H569.0M564.4 673.4V682.6M560.8 666.4H570.0M565.4 661.8V671.0M561.8 722.1H571.0M566.4 717.5V726.7M562.7 660.7H571.9M567.3 656.1V665.3M563.7 684.8H572.9M568.3 680.2V689.4M564.7 687.3H573.9M569.3 682.7V691.9M565.7 698.4H574.9M570.3 693.8V703.0M566.7 681.6H575.9M571.3 677.0V686.2M567.7 653.0H576.9M572.3 648.4V657.6M568.8 663.9H578.0M573.4 659.3V668.5M569.8 656.9H579.0M574.4 652.3V661.5M570.9 686.1H580.1M575.5 681.5V690.7M572.0 637.4H581.2M576.6 632.8V642.0M573.1 645.3H582.3M577.7 640.7V649.9M574.2 677.4H583.4M578.8 672.8V682.0M575.4 742.3H584.6M580.0 737.7V746.9M576.5 675.5H585.7M581.1 670.9V680.1M577.7 618.9H586.9M582.3 614.3V623.5M578.9 678.3H588.1M583.5 673.7V682.9M580.1 702.3H589.3M584.7 697.7V706.9M581.4 634.6H590.6M586.0 630.0V639.2M582.7 692.3H591.9M587.3 687.7V696.9M583.9 664.7H593.1M588.5 660.1V669.3M585.3 657.9H594.5M589.9 653.3V662.5M586.6 713.6H595.8M591.2 709.0V718.2M587.9 673.8H597.1M592.5 669.2V678.4M589.3 647.3H598.5M593.9 642.7V651.9M590.7 685.1H599.9M595.3 680.5V689.7M592.1 660.7H601.3M596.7 656.1V665.3M593.6 677.5H602.8M598.2 672.9V682.1M595.1 651.4H604.3M599.7 646.8V656.0M596.6 631.0H605.8M601.2 626.4V635.6M598.1 704.2H607.3M602.7 699.6V708.8M599.7 684.0H608.9M604.3 679.4V688.6M601.3 667.0H610.5M605.9 662.4V671.6M603.0 692.5H612.2M607.6 687.9V697.1M604.8 697.2H614.0M609.4 692.6V701.8M606.6 685.3H615.8M611.2 680.7V689.9M608.5 683.3H617.7M613.1 678.7V687.9M610.5 692.8H619.7M615.1 688.2V697.4M612.5 668.3H621.7M617.1 663.7V672.9M614.6 656.3H623.8M619.2 651.7V660.9M616.8 657.7H626.0M621.4 653.1V662.3M619.0 659.3H628.2M623.6 654.7V663.9M621.3 646.5H630.5M625.9 641.9V651.1M623.7 710.0H632.9M628.3 705.4V714.6M626.2 678.9H635.4M630.8 674.3V683.5M628.7 671.2H637.9M633.3 666.6V675.8M631.3 662.8H640.5M635.9 658.2V667.4M634.0 715.9H643.2M638.6 711.3V720.5M636.7 628.9H645.9M641.3 624.3V633.5M639.6 697.7H648.8M644.2 693.1V702.3M642.5 668.9H651.7M647.1 664.3V673.5M645.5 657.1H654.7M650.1 652.5V661.7M648.6 648.3H657.8M653.2 643.7V652.9M651.7 692.3H660.9M656.3 687.7V696.9M655.0 688.6H664.2M659.6 684.0V693.2M658.3 665.8H667.5M662.9 661.2V670.4M661.8 660.3H671.0M666.4 655.7V664.9M665.3 652.1H674.5M669.9 647.5V656.7M669.0 676.1H678.2M673.6 671.5V680.7M672.9 691.8H682.1M677.5 687.2V696.4M676.9 707.6H686.1M681.5 703.0V712.2M681.0 630.9H690.2M685.6 626.3V635.5M392.9 583.0H402.1M397.5 578.4V587.6M309.9 607.9H319.1M314.5 603.3V612.5M655.2 605.1H664.4M659.8 600.5V609.7M415.9 606.5H425.1M420.5 601.9V611.1M641.4 618.9H650.6M646.0 614.3V623.5M523.2 610.6H532.4M527.8 606.0V615.2M692.2 595.6H701.4M696.8 591.0V600.2M697.7 666.3H706.9M702.3 661.7V670.9M703.8 656.2H713.0M708.4 651.6V660.8M710.6 666.0H719.8M715.2 661.4V670.6M717.1 656.2H726.3M721.7 651.6V660.8M725.4 728.8H734.6M730.0 724.2V733.4M735.4 680.8H744.6M740.0 676.2V685.4M746.0 667.6H755.2M750.6 663.0V672.2M758.3 669.1H767.5M762.9 664.5V673.7M774.2 654.7H783.4M778.8 650.1V659.3M797.0 693.1H806.2M801.6 688.5V697.7M848.3 631.0H857.5M852.9 626.4V635.6M893.5 661.7H902.7M898.1 657.1V666.3" stroke="#f00"/>
<path d="M429.8 713.1H439.0M434.4 708.5V717.7M432.5 666.7H441.7M437.1 662.1V671.3M435.2 676.1H444.4M439.8 671.5V680.7M437.9 665.3H447.1M442.5 660.7V669.9M440.6 661.0H449.8M445.2 656.4V665.6M443.3 652.2H452.5M447.9 647.6V656.8M446.1 683.6H455.3M450.7 679.0V688.2M448.8 673.5H458.0M453.4 668.9V678.1M451.5 726.0H460.7M456.1 721.4V730.6M454.3 681.3H463.5M458.9 676.7V685.9M457.0 702.6H466.2M461.6 698.0V707.2M459.8 685.8H469.0M464.4 681.2V690.4M462.5 654.6H471.7M467.1 650.0V659.2M465.3 679.9H474.5M469.9 675.3V684.5M468.1 657.9H477.3M472.7 653.3V662.5M470.8 686.8H480.0M475.4 682.2V691.4M473.6 673.4H482.8M478.2 668.8V678.0M476.4 691.5H485.6M481.0 686.9V696.1M479.2 739.2H488.4M483.8 734.6V743.8M482.0 698.3H491.2M486.6 693.7V702.9M484.8 688.2H494.0M489.4 683.6V692.8M487.6 678.8H496.8M492.2 674.2V683.4M490.4 682.2H499.6M495.0 677.6V686.8M493.2 685.1H502.4M497.8 680.5V689.7M496.1 661.1H505.3M500.7 656.5V665.7M498.9 668.3H508.1M503.5 663.7V672.9M501.7 691.2H510.9M506.3 686.6V695.8M504.6 662.8H513.8M509.2 658.2V667.4M507.4 726.7H516.6M512.0 722.1V731.3M510.2 688.6H519.4M514.8 684.0V693.2M513.1 685.5H522.3M517.7 680.9V690.1M516.0 653.1H525.2M520.6 648.5V657.7M518.8 694.2H528.0M523.4 689.6V698.8M521.7 715.1H530.9M526.3 710.5V719.7M524.6 678.2H533.8M529.2 673.6V682.8M527.4 644.3H536.6M532.0 639.7V648.9M530.3 686.9H539.5M534.9 682.3V691.5M533.2 684.4H542.4M537.8 679.8V689.0M536.1 686.8H545.3M540.7 682.2V691.4M539.1 681.0H548.3M543.7 676.4V685.6M542.2 653.0H551.4M546.8 648.4V657.6M545.4 638.2H554.6M550.0 633.6V642.8M548.9 671.6H558.1M553.5 667.0V676.2M552.5 684.5H561.7M557.1 679.9V689.1M556.3 640.7H565.5M560.9 636.1V645.3M560.3 682.6H569.5M564.9 678.0V687.2M564.5 687.4H573.7M569.1 682.8V692.0M569.1 701.0H578.3M573.7 696.4V705.6M574.3 704.7H583.5M578.9 700.1V709.3M580.6 696.1H589.8M585.2 691.5V700.7M587.8 708.4H597.0M592.4 703.8V713.0M595.5 693.2H604.7M600.1 688.6V697.8M603.2 701.0H612.4M607.8 696.4V705.6M611.2 691.1H620.4M615.8 686.5V695.7M619.2 712.6H628.4M623.8 708.0V717.2M627.4 706.3H636.6M632.0 701.7V710.9M635.8 693.9H645.0M640.4 689.3V698.5M644.3 695.4H653.5M648.9 690.8V700.0M653.0 692.1H662.2M657.6 687.5V696.7M661.7 665.6H670.9M666.3 661.0V670.2M573.1 759.7H582.3M577.7 755.1V764.3M608.4 765.2H617.6M613.0 760.6V769.8M580.4 734.8H589.6M585.0 730.2V739.4" stroke="#80ff00"/>
</g>
<g fill="none" stroke="#000" stroke-width="1.1">
<path d="M217.0 0.5V2.8M217.0 541.9V546.5M217.0 813.9V816.2M269.3 0.5V2.8M269.3 541.9V546.5M269.3 813.9V816.2M312.0 0.5V2.8M312.0 541.9V546.5M312.0 813.9V816.2M348.1 0.5V2.8M348.1 541.9V546.5M348.1 813.9V816.2M379.3 0.5V2.8M379.3 541.9V546.5M379.3 813.9V816.2M406.9 0.5V2.8M406.9 541.9V546.5M406.9 813.9V816.2M593.9 0.5V2.8M593.9 541.9V546.5M593.9 813.9V816.2M688.9 0.5V2.8M688.9 541.9V546.5M688.9 813.9V816.2M756.2 0.5V2.8M756.2 541.9V546.5M756.2 813.9V816.2M808.5 0.5V2.8M808.5 541.9V546.5M808.5 813.9V816.2M851.2 0.5V2.8M851.2 541.9V546.5M851.2 813.9V816.2M887.3 0.5V2.8M887.3 541.9V546.5M887.3 813.9V816.2M918.5 0.5V2.8M918.5 541.9V546.5M918.5 813.9V816.2M946.1 0.5V2.8M946.1 541.9V546.5M946.1 813.9V816.2M431.6 0.5V5.0M431.6 539.7V548.7M431.6 811.7V816.2M970.8 0.5V5.0M970.8 539.7V548.7M970.8 811.7V816.2M149.6 524.3H151.9M968.5 524.3H970.8M149.6 489.9H151.9M968.5 489.9H970.8M149.6 460.8H151.9M968.5 460.8H970.8M149.6 435.6H151.9M968.5 435.6H970.8M149.6 413.3H151.9M968.5 413.3H970.8M149.6 262.5H151.9M968.5 262.5H970.8M149.6 185.9H151.9M968.5 185.9H970.8M149.6 131.5H151.9M968.5 131.5H970.8M149.6 89.3H151.9M968.5 89.3H970.8M149.6 54.9H151.9M968.5 54.9H970.8M149.6 25.8H151.9M968.5 25.8H970.8M149.6 393.4H154.1M966.3 393.4H970.8M149.6 792.8H151.9M968.5 792.8H970.8M149.6 765.2H151.9M968.5 765.2H970.8M149.6 737.6H154.1M966.3 737.6H970.8M149.6 710.0H151.9M968.5 710.0H970.8M149.6 682.4H151.9M968.5 682.4H970.8M149.6 654.8H151.9M968.5 654.8H970.8M149.6 627.2H154.1M966.3 627.2H970.8M149.6 599.6H151.9M968.5 599.6H970.8M149.6 572.0H151.9M968.5 572.0H970.8" stroke-width="1.1"/>
<rect x="149.6" y="0.5" width="821.1999999999999" height="543.7"/>
<rect x="149.6" y="544.2" width="821.1999999999999" height="272.0"/>
</g>
<g fill="#000" class="sf" font-size="29.7px">
<text x="405.4" y="843.7">10<tspan font-size="20.8px" dy="-11.2">1</tspan></text>
<text x="943.8" y="843.7">10<tspan font-size="20.8px" dy="-11.2">2</tspan></text>
<text x="142.3" y="404.5" text-anchor="end">10<tspan font-size="20.8px" dy="-11.2">0</tspan></text>
<text x="144.2" y="637.8" text-anchor="end">2</text>
<text x="144.2" y="748.2" text-anchor="end">−2</text>
</g>
<text class="sf" font-size="29.5px" x="560.1" y="877.8" text-anchor="middle" fill="#000">Energy (keV)</text>
<text class="sf" font-size="29.5px" transform="translate(27.4,679) rotate(-90)" text-anchor="middle" fill="#000">(data-model)/error</text>
<text class="sf" font-size="29.5px" transform="translate(27.0,273.4) rotate(-90)" text-anchor="middle" fill="#000"><tspan class="ss" font-style="italic" letter-spacing="1.2">keV</tspan><tspan font-size="20.7px" dy="-12.4">2</tspan><tspan dy="12.4">(Photons cm</tspan><tspan font-size="20.7px" dy="-12.4">−2</tspan><tspan dy="12.4" dx="1.8"> s</tspan><tspan font-size="20.7px" dy="-12.4">−1</tspan><tspan dy="12.4" dx="1.8"> keV</tspan><tspan font-size="20.7px" dy="-12.4">−1</tspan><tspan dy="12.4" dx="1.2">)</tspan></text>
</svg>
</body></html>
